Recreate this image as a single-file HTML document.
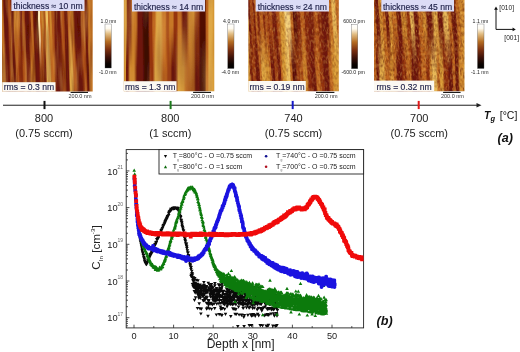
<!DOCTYPE html>
<html><head><meta charset="utf-8"><title>Figure</title>
<style>html,body{margin:0;padding:0;background:#fff}svg{display:block}text{font-family:"Liberation Sans",sans-serif}</style>
</head><body>
<svg width="520" height="352" viewBox="0 0 520 352">
<defs>
<linearGradient id="g10" gradientUnits="userSpaceOnUse" x1="-23.0" y1="0" x2="117.7" y2="0">
<stop offset="0" stop-color="#c77827"/>
<stop offset="0.1802" stop-color="#c77827"/>
<stop offset="0.1879" stop-color="#c77827"/>
<stop offset="0.1977" stop-color="#6e160a"/>
<stop offset="0.2195" stop-color="#6e160a"/>
<stop offset="0.2303" stop-color="#aa4d17"/>
<stop offset="0.2409" stop-color="#aa4d17"/>
<stop offset="0.2479" stop-color="#6e160a"/>
<stop offset="0.2581" stop-color="#6e160a"/>
<stop offset="0.2668" stop-color="#c77827"/>
<stop offset="0.2826" stop-color="#c77827"/>
<stop offset="0.2918" stop-color="#c06820"/>
<stop offset="0.3038" stop-color="#c06820"/>
<stop offset="0.3109" stop-color="#6e160a"/>
<stop offset="0.3203" stop-color="#6e160a"/>
<stop offset="0.3269" stop-color="#b2571b"/>
<stop offset="0.3376" stop-color="#b2571b"/>
<stop offset="0.3475" stop-color="#6e160a"/>
<stop offset="0.3667" stop-color="#6e160a"/>
<stop offset="0.3753" stop-color="#892b0e"/>
<stop offset="0.3817" stop-color="#892b0e"/>
<stop offset="0.3873" stop-color="#b2571b"/>
<stop offset="0.3980" stop-color="#b2571b"/>
<stop offset="0.4065" stop-color="#6e160a"/>
<stop offset="0.4215" stop-color="#6e160a"/>
<stop offset="0.4286" stop-color="#3e0903"/>
<stop offset="0.4350" stop-color="#3e0903"/>
<stop offset="0.4399" stop-color="#fdf1c9"/>
<stop offset="0.4485" stop-color="#fdf1c9"/>
<stop offset="0.4534" stop-color="#c06820"/>
<stop offset="0.4598" stop-color="#c06820"/>
<stop offset="0.4648" stop-color="#cf882d"/>
<stop offset="0.4733" stop-color="#cf882d"/>
<stop offset="0.4790" stop-color="#c06820"/>
<stop offset="0.4876" stop-color="#c06820"/>
<stop offset="0.4940" stop-color="#edc263"/>
<stop offset="0.5046" stop-color="#edc263"/>
<stop offset="0.5103" stop-color="#c06820"/>
<stop offset="0.5167" stop-color="#c06820"/>
<stop offset="0.5217" stop-color="#cf882d"/>
<stop offset="0.5302" stop-color="#cf882d"/>
<stop offset="0.5359" stop-color="#b2571b"/>
<stop offset="0.5444" stop-color="#b2571b"/>
<stop offset="0.5584" stop-color="#6e160a"/>
<stop offset="0.5916" stop-color="#6e160a"/>
<stop offset="0.6067" stop-color="#aa4d17"/>
<stop offset="0.6186" stop-color="#aa4d17"/>
<stop offset="0.6274" stop-color="#6e160a"/>
<stop offset="0.6419" stop-color="#6e160a"/>
<stop offset="0.6510" stop-color="#b2571b"/>
<stop offset="0.6638" stop-color="#b2571b"/>
<stop offset="0.6721" stop-color="#cc822b"/>
<stop offset="0.6840" stop-color="#cc822b"/>
<stop offset="0.6985" stop-color="#6e160a"/>
<stop offset="0.7301" stop-color="#6e160a"/>
<stop offset="0.7464" stop-color="#aa4d17"/>
<stop offset="0.7639" stop-color="#aa4d17"/>
<stop offset="0.7731" stop-color="#6e160a"/>
<stop offset="0.7834" stop-color="#6e160a"/>
<stop offset="0.7939" stop-color="#c77827"/>
<stop offset="0.8152" stop-color="#c77827"/>
<stop offset="1" stop-color="#c77827"/>
</linearGradient>
<linearGradient id="g11" gradientUnits="userSpaceOnUse" x1="-23.0" y1="0" x2="117.7" y2="0">
<stop offset="0" stop-color="#c77827"/>
<stop offset="0.1814" stop-color="#c77827"/>
<stop offset="0.1925" stop-color="#c77827"/>
<stop offset="0.2038" stop-color="#6e160a"/>
<stop offset="0.2269" stop-color="#6e160a"/>
<stop offset="0.2388" stop-color="#aa4d17"/>
<stop offset="0.2516" stop-color="#aa4d17"/>
<stop offset="0.2597" stop-color="#6e160a"/>
<stop offset="0.2712" stop-color="#6e160a"/>
<stop offset="0.2790" stop-color="#b2571b"/>
<stop offset="0.2910" stop-color="#b2571b"/>
<stop offset="0.3014" stop-color="#8e300f"/>
<stop offset="0.3205" stop-color="#8e300f"/>
<stop offset="0.3312" stop-color="#b2571b"/>
<stop offset="0.3440" stop-color="#b2571b"/>
<stop offset="0.3547" stop-color="#6e160a"/>
<stop offset="0.3738" stop-color="#6e160a"/>
<stop offset="0.3866" stop-color="#c77827"/>
<stop offset="0.4058" stop-color="#c77827"/>
<stop offset="0.4189" stop-color="#6e160a"/>
<stop offset="0.4389" stop-color="#6e160a"/>
<stop offset="0.4522" stop-color="#b2571b"/>
<stop offset="0.4718" stop-color="#b2571b"/>
<stop offset="0.4807" stop-color="#6e160a"/>
<stop offset="0.4880" stop-color="#6e160a"/>
<stop offset="0.4972" stop-color="#e7b858"/>
<stop offset="0.5177" stop-color="#e7b858"/>
<stop offset="0.5298" stop-color="#c06820"/>
<stop offset="0.5456" stop-color="#c06820"/>
<stop offset="0.5626" stop-color="#6e160a"/>
<stop offset="0.5980" stop-color="#6e160a"/>
<stop offset="0.6136" stop-color="#b2571b"/>
<stop offset="0.6252" stop-color="#b2571b"/>
<stop offset="0.6340" stop-color="#6e160a"/>
<stop offset="0.6489" stop-color="#6e160a"/>
<stop offset="0.6596" stop-color="#dba23f"/>
<stop offset="0.6766" stop-color="#dba23f"/>
<stop offset="0.6861" stop-color="#b2571b"/>
<stop offset="0.6977" stop-color="#b2571b"/>
<stop offset="0.7119" stop-color="#6e160a"/>
<stop offset="0.7430" stop-color="#6e160a"/>
<stop offset="0.7588" stop-color="#aa4d17"/>
<stop offset="0.7750" stop-color="#aa4d17"/>
<stop offset="0.7828" stop-color="#6e160a"/>
<stop offset="0.7900" stop-color="#6e160a"/>
<stop offset="0.7984" stop-color="#c77827"/>
<stop offset="0.8163" stop-color="#c77827"/>
<stop offset="1" stop-color="#c77827"/>
</linearGradient>
<clipPath id="c1"><rect x="2" y="0" width="90.7" height="91.6"/></clipPath>
<linearGradient id="g20" gradientUnits="userSpaceOnUse" x1="98.8" y1="0" x2="239.3" y2="0">
<stop offset="0" stop-color="#dfa846"/>
<stop offset="0.1819" stop-color="#dfa846"/>
<stop offset="0.1939" stop-color="#dfa846"/>
<stop offset="0.2050" stop-color="#6e160a"/>
<stop offset="0.2263" stop-color="#6e160a"/>
<stop offset="0.2415" stop-color="#c77827"/>
<stop offset="0.2656" stop-color="#c77827"/>
<stop offset="0.2817" stop-color="#6e160a"/>
<stop offset="0.3058" stop-color="#6e160a"/>
<stop offset="0.3226" stop-color="#3e0903"/>
<stop offset="0.3486" stop-color="#3e0903"/>
<stop offset="0.3619" stop-color="#963610"/>
<stop offset="0.3758" stop-color="#963610"/>
<stop offset="0.3849" stop-color="#c06820"/>
<stop offset="0.3984" stop-color="#c06820"/>
<stop offset="0.4126" stop-color="#dfa846"/>
<stop offset="0.4419" stop-color="#dfa846"/>
<stop offset="0.4569" stop-color="#c06820"/>
<stop offset="0.4730" stop-color="#c06820"/>
<stop offset="0.4822" stop-color="#a44715"/>
<stop offset="0.4940" stop-color="#a44715"/>
<stop offset="0.5050" stop-color="#c77827"/>
<stop offset="0.5263" stop-color="#c77827"/>
<stop offset="0.5388" stop-color="#963610"/>
<stop offset="0.5548" stop-color="#963610"/>
<stop offset="0.5664" stop-color="#c06820"/>
<stop offset="0.5852" stop-color="#c06820"/>
<stop offset="0.5994" stop-color="#6e160a"/>
<stop offset="0.6233" stop-color="#6e160a"/>
<stop offset="0.6420" stop-color="#cf882d"/>
<stop offset="0.6740" stop-color="#cf882d"/>
<stop offset="0.6910" stop-color="#963610"/>
<stop offset="0.7098" stop-color="#963610"/>
<stop offset="0.7258" stop-color="#520e06"/>
<stop offset="0.7550" stop-color="#520e06"/>
<stop offset="0.7673" stop-color="#c06820"/>
<stop offset="0.7747" stop-color="#c06820"/>
<stop offset="0.7843" stop-color="#dfa846"/>
<stop offset="0.8057" stop-color="#dfa846"/>
<stop offset="0.8152" stop-color="#d69834"/>
<stop offset="0.8225" stop-color="#d69834"/>
<stop offset="1" stop-color="#d69834"/>
</linearGradient>
<linearGradient id="g21" gradientUnits="userSpaceOnUse" x1="98.8" y1="0" x2="239.3" y2="0">
<stop offset="0" stop-color="#d69834"/>
<stop offset="0.1811" stop-color="#d69834"/>
<stop offset="0.1905" stop-color="#d69834"/>
<stop offset="0.1972" stop-color="#6e160a"/>
<stop offset="0.2078" stop-color="#6e160a"/>
<stop offset="0.2212" stop-color="#cf882d"/>
<stop offset="0.2507" stop-color="#cf882d"/>
<stop offset="0.2727" stop-color="#6e160a"/>
<stop offset="0.3095" stop-color="#6e160a"/>
<stop offset="0.3299" stop-color="#3e0903"/>
<stop offset="0.3544" stop-color="#3e0903"/>
<stop offset="0.3680" stop-color="#963610"/>
<stop offset="0.3840" stop-color="#963610"/>
<stop offset="0.4018" stop-color="#dfa846"/>
<stop offset="0.4391" stop-color="#dfa846"/>
<stop offset="0.4587" stop-color="#c06820"/>
<stop offset="0.4801" stop-color="#c06820"/>
<stop offset="0.4929" stop-color="#a44715"/>
<stop offset="0.5100" stop-color="#a44715"/>
<stop offset="0.5237" stop-color="#6e160a"/>
<stop offset="0.5478" stop-color="#6e160a"/>
<stop offset="0.5674" stop-color="#d69834"/>
<stop offset="0.6020" stop-color="#d69834"/>
<stop offset="0.6206" stop-color="#c06820"/>
<stop offset="0.6420" stop-color="#c06820"/>
<stop offset="0.6562" stop-color="#c77827"/>
<stop offset="0.6776" stop-color="#c77827"/>
<stop offset="0.6910" stop-color="#6e160a"/>
<stop offset="0.7098" stop-color="#6e160a"/>
<stop offset="0.7258" stop-color="#3e0903"/>
<stop offset="0.7550" stop-color="#3e0903"/>
<stop offset="0.7673" stop-color="#c06820"/>
<stop offset="0.7747" stop-color="#c06820"/>
<stop offset="0.7843" stop-color="#dfa846"/>
<stop offset="0.8057" stop-color="#dfa846"/>
<stop offset="0.8152" stop-color="#d69834"/>
<stop offset="0.8225" stop-color="#d69834"/>
<stop offset="1" stop-color="#d69834"/>
</linearGradient>
<clipPath id="c2"><rect x="123.8" y="0" width="90.5" height="91.2"/></clipPath>
<linearGradient id="g30" gradientUnits="userSpaceOnUse" x1="223.3" y1="0" x2="363.8" y2="0">
<stop offset="0" stop-color="#d69834"/>
<stop offset="0.1793" stop-color="#d69834"/>
<stop offset="0.1833" stop-color="#d69834"/>
<stop offset="0.1878" stop-color="#6e160a"/>
<stop offset="0.1969" stop-color="#6e160a"/>
<stop offset="0.2044" stop-color="#a44715"/>
<stop offset="0.2177" stop-color="#a44715"/>
<stop offset="0.2242" stop-color="#7b210c"/>
<stop offset="0.2306" stop-color="#7b210c"/>
<stop offset="0.2356" stop-color="#b55b1c"/>
<stop offset="0.2441" stop-color="#b55b1c"/>
<stop offset="0.2505" stop-color="#83270d"/>
<stop offset="0.2612" stop-color="#83270d"/>
<stop offset="0.2701" stop-color="#ba611e"/>
<stop offset="0.2861" stop-color="#ba611e"/>
<stop offset="0.2940" stop-color="#892b0e"/>
<stop offset="0.3014" stop-color="#892b0e"/>
<stop offset="0.3076" stop-color="#aa4d17"/>
<stop offset="0.3187" stop-color="#aa4d17"/>
<stop offset="0.3244" stop-color="#963610"/>
<stop offset="0.3304" stop-color="#963610"/>
<stop offset="0.3367" stop-color="#aa4d17"/>
<stop offset="0.3495" stop-color="#aa4d17"/>
<stop offset="0.3600" stop-color="#731a0b"/>
<stop offset="0.3788" stop-color="#731a0b"/>
<stop offset="0.3893" stop-color="#aa4d17"/>
<stop offset="0.4021" stop-color="#aa4d17"/>
<stop offset="0.4135" stop-color="#d69834"/>
<stop offset="0.4349" stop-color="#d69834"/>
<stop offset="0.4508" stop-color="#f4d37f"/>
<stop offset="0.4773" stop-color="#f4d37f"/>
<stop offset="0.4893" stop-color="#c06820"/>
<stop offset="0.4986" stop-color="#c06820"/>
<stop offset="0.5072" stop-color="#5a1007"/>
<stop offset="0.5234" stop-color="#5a1007"/>
<stop offset="0.5337" stop-color="#7b210c"/>
<stop offset="0.5482" stop-color="#7b210c"/>
<stop offset="0.5593" stop-color="#b85e1d"/>
<stop offset="0.5781" stop-color="#b85e1d"/>
<stop offset="0.5891" stop-color="#892b0e"/>
<stop offset="0.6034" stop-color="#892b0e"/>
<stop offset="0.6171" stop-color="#7b210c"/>
<stop offset="0.6438" stop-color="#7b210c"/>
<stop offset="0.6580" stop-color="#b2571b"/>
<stop offset="0.6740" stop-color="#b2571b"/>
<stop offset="0.6847" stop-color="#892b0e"/>
<stop offset="0.7007" stop-color="#892b0e"/>
<stop offset="0.7167" stop-color="#6e160a"/>
<stop offset="0.7488" stop-color="#6e160a"/>
<stop offset="0.7637" stop-color="#c06820"/>
<stop offset="0.7765" stop-color="#c06820"/>
<stop offset="0.7872" stop-color="#e7b858"/>
<stop offset="0.8064" stop-color="#e7b858"/>
<stop offset="0.8149" stop-color="#c06820"/>
<stop offset="0.8214" stop-color="#c06820"/>
<stop offset="1" stop-color="#c06820"/>
</linearGradient>
<linearGradient id="g31" gradientUnits="userSpaceOnUse" x1="223.3" y1="0" x2="363.8" y2="0">
<stop offset="0" stop-color="#d69834"/>
<stop offset="0.1793" stop-color="#d69834"/>
<stop offset="0.1833" stop-color="#d69834"/>
<stop offset="0.1883" stop-color="#7b210c"/>
<stop offset="0.1989" stop-color="#7b210c"/>
<stop offset="0.2070" stop-color="#9e4013"/>
<stop offset="0.2204" stop-color="#9e4013"/>
<stop offset="0.2311" stop-color="#6e160a"/>
<stop offset="0.2497" stop-color="#6e160a"/>
<stop offset="0.2581" stop-color="#c06820"/>
<stop offset="0.2647" stop-color="#c06820"/>
<stop offset="0.2727" stop-color="#dba23f"/>
<stop offset="0.2902" stop-color="#dba23f"/>
<stop offset="0.3023" stop-color="#d39231"/>
<stop offset="0.3209" stop-color="#d39231"/>
<stop offset="0.3288" stop-color="#c06820"/>
<stop offset="0.3342" stop-color="#c06820"/>
<stop offset="0.3413" stop-color="#6e160a"/>
<stop offset="0.3573" stop-color="#6e160a"/>
<stop offset="0.3671" stop-color="#9e4013"/>
<stop offset="0.3806" stop-color="#9e4013"/>
<stop offset="0.3895" stop-color="#731a0b"/>
<stop offset="0.4027" stop-color="#731a0b"/>
<stop offset="0.4089" stop-color="#c06820"/>
<stop offset="0.4142" stop-color="#c06820"/>
<stop offset="0.4214" stop-color="#d69834"/>
<stop offset="0.4374" stop-color="#d69834"/>
<stop offset="0.4490" stop-color="#edc263"/>
<stop offset="0.4678" stop-color="#edc263"/>
<stop offset="0.4762" stop-color="#c06820"/>
<stop offset="0.4826" stop-color="#c06820"/>
<stop offset="0.4912" stop-color="#5e1108"/>
<stop offset="0.5109" stop-color="#5e1108"/>
<stop offset="0.5221" stop-color="#9e4013"/>
<stop offset="0.5359" stop-color="#9e4013"/>
<stop offset="0.5451" stop-color="#aa4d17"/>
<stop offset="0.5585" stop-color="#aa4d17"/>
<stop offset="0.5692" stop-color="#cc822b"/>
<stop offset="0.5878" stop-color="#cc822b"/>
<stop offset="0.5994" stop-color="#892b0e"/>
<stop offset="0.6159" stop-color="#892b0e"/>
<stop offset="0.6276" stop-color="#6e160a"/>
<stop offset="0.6464" stop-color="#6e160a"/>
<stop offset="0.6589" stop-color="#c06820"/>
<stop offset="0.6777" stop-color="#c06820"/>
<stop offset="0.6884" stop-color="#963610"/>
<stop offset="0.7016" stop-color="#963610"/>
<stop offset="0.7149" stop-color="#6e160a"/>
<stop offset="0.7416" stop-color="#6e160a"/>
<stop offset="0.7541" stop-color="#c06820"/>
<stop offset="0.7648" stop-color="#c06820"/>
<stop offset="0.7794" stop-color="#d69834"/>
<stop offset="0.8125" stop-color="#d69834"/>
<stop offset="1" stop-color="#d69834"/>
</linearGradient>
<clipPath id="c3"><rect x="248.3" y="0" width="90.5" height="91.2"/></clipPath>
<linearGradient id="g40" gradientUnits="userSpaceOnUse" x1="349.0" y1="0" x2="489.5" y2="0">
<stop offset="0" stop-color="#c06820"/>
<stop offset="0.1816" stop-color="#c06820"/>
<stop offset="0.1927" stop-color="#c06820"/>
<stop offset="0.2019" stop-color="#6e160a"/>
<stop offset="0.2181" stop-color="#6e160a"/>
<stop offset="0.2279" stop-color="#cf882d"/>
<stop offset="0.2411" stop-color="#cf882d"/>
<stop offset="0.2500" stop-color="#c06820"/>
<stop offset="0.2632" stop-color="#c06820"/>
<stop offset="0.2721" stop-color="#6e160a"/>
<stop offset="0.2856" stop-color="#6e160a"/>
<stop offset="0.2945" stop-color="#cf882d"/>
<stop offset="0.3080" stop-color="#cf882d"/>
<stop offset="0.3196" stop-color="#c06820"/>
<stop offset="0.3409" stop-color="#c06820"/>
<stop offset="0.3542" stop-color="#6e160a"/>
<stop offset="0.3728" stop-color="#6e160a"/>
<stop offset="0.3861" stop-color="#cf882d"/>
<stop offset="0.4075" stop-color="#cf882d"/>
<stop offset="0.4199" stop-color="#963610"/>
<stop offset="0.4359" stop-color="#963610"/>
<stop offset="0.4466" stop-color="#e7b858"/>
<stop offset="0.4626" stop-color="#e7b858"/>
<stop offset="0.4740" stop-color="#6e160a"/>
<stop offset="0.4922" stop-color="#6e160a"/>
<stop offset="0.5046" stop-color="#c06820"/>
<stop offset="0.5238" stop-color="#c06820"/>
<stop offset="0.5352" stop-color="#cf882d"/>
<stop offset="0.5502" stop-color="#cf882d"/>
<stop offset="0.5648" stop-color="#6e160a"/>
<stop offset="0.5936" stop-color="#6e160a"/>
<stop offset="0.6103" stop-color="#dfa846"/>
<stop offset="0.6317" stop-color="#dfa846"/>
<stop offset="0.6459" stop-color="#6e160a"/>
<stop offset="0.6673" stop-color="#6e160a"/>
<stop offset="0.6824" stop-color="#e7b858"/>
<stop offset="0.7065" stop-color="#e7b858"/>
<stop offset="0.7190" stop-color="#c06820"/>
<stop offset="0.7322" stop-color="#c06820"/>
<stop offset="0.7438" stop-color="#6e160a"/>
<stop offset="0.7651" stop-color="#6e160a"/>
<stop offset="0.7767" stop-color="#c06820"/>
<stop offset="0.7899" stop-color="#c06820"/>
<stop offset="0.7999" stop-color="#cf882d"/>
<stop offset="0.8165" stop-color="#cf882d"/>
<stop offset="1" stop-color="#cf882d"/>
</linearGradient>
<linearGradient id="g41" gradientUnits="userSpaceOnUse" x1="349.0" y1="0" x2="489.5" y2="0">
<stop offset="0" stop-color="#c06820"/>
<stop offset="0.1808" stop-color="#c06820"/>
<stop offset="0.1893" stop-color="#c06820"/>
<stop offset="0.1957" stop-color="#6e160a"/>
<stop offset="0.2064" stop-color="#6e160a"/>
<stop offset="0.2189" stop-color="#dfa846"/>
<stop offset="0.2456" stop-color="#dfa846"/>
<stop offset="0.2616" stop-color="#c06820"/>
<stop offset="0.2829" stop-color="#c06820"/>
<stop offset="0.2954" stop-color="#cf882d"/>
<stop offset="0.3114" stop-color="#cf882d"/>
<stop offset="0.3203" stop-color="#c06820"/>
<stop offset="0.3310" stop-color="#c06820"/>
<stop offset="0.3434" stop-color="#6e160a"/>
<stop offset="0.3701" stop-color="#6e160a"/>
<stop offset="0.3843" stop-color="#963610"/>
<stop offset="0.4004" stop-color="#963610"/>
<stop offset="0.4128" stop-color="#c06820"/>
<stop offset="0.4342" stop-color="#c06820"/>
<stop offset="0.4520" stop-color="#6e160a"/>
<stop offset="0.4840" stop-color="#6e160a"/>
<stop offset="0.4982" stop-color="#963610"/>
<stop offset="0.5089" stop-color="#963610"/>
<stop offset="0.5196" stop-color="#c06820"/>
<stop offset="0.5409" stop-color="#c06820"/>
<stop offset="0.5534" stop-color="#963610"/>
<stop offset="0.5694" stop-color="#963610"/>
<stop offset="0.5769" stop-color="#cf882d"/>
<stop offset="0.5833" stop-color="#cf882d"/>
<stop offset="0.5936" stop-color="#e7b858"/>
<stop offset="0.6181" stop-color="#e7b858"/>
<stop offset="0.6298" stop-color="#c06820"/>
<stop offset="0.6400" stop-color="#c06820"/>
<stop offset="0.6485" stop-color="#d69834"/>
<stop offset="0.6639" stop-color="#d69834"/>
<stop offset="0.6762" stop-color="#963610"/>
<stop offset="0.6975" stop-color="#963610"/>
<stop offset="0.7110" stop-color="#6e160a"/>
<stop offset="0.7302" stop-color="#6e160a"/>
<stop offset="0.7402" stop-color="#c06820"/>
<stop offset="0.7509" stop-color="#c06820"/>
<stop offset="0.7587" stop-color="#6e160a"/>
<stop offset="0.7715" stop-color="#6e160a"/>
<stop offset="0.7840" stop-color="#cf882d"/>
<stop offset="0.8085" stop-color="#cf882d"/>
<stop offset="0.8178" stop-color="#d69834"/>
<stop offset="0.8210" stop-color="#d69834"/>
<stop offset="1" stop-color="#d69834"/>
</linearGradient>
<clipPath id="c4"><rect x="374" y="0" width="90.5" height="91.2"/></clipPath>
<linearGradient id="vf" gradientUnits="userSpaceOnUse" x1="0" y1="26" x2="0" y2="68"><stop offset="0" stop-color="#000"/><stop offset="1" stop-color="#fff"/></linearGradient>
<mask id="mk" maskUnits="userSpaceOnUse" x="0" y="-5" width="520" height="105"><rect x="0" y="-5" width="520" height="105" fill="url(#vf)"/></mask>
<linearGradient id="cb" x1="0" y1="0" x2="0" y2="1">
<stop offset="0" stop-color="#ffffff"/>
<stop offset="0.1" stop-color="#fffbf0"/>
<stop offset="0.22" stop-color="#e2be84"/>
<stop offset="0.4" stop-color="#b46c22"/>
<stop offset="0.58" stop-color="#7c3010"/>
<stop offset="0.76" stop-color="#3a1008"/>
<stop offset="0.9" stop-color="#0c0300"/>
<stop offset="1" stop-color="#000000"/>
</linearGradient>
<filter id="n1d" x="0" y="0" width="100%" height="100%" color-interpolation-filters="sRGB"><feTurbulence type="fractalNoise" baseFrequency="0.30 0.02" numOctaves="2" seed="3"/><feColorMatrix type="matrix" values="0 0 0 0 0.3  0 0 0 0 0.04  0 0 0 0 0.0  1.2 0 0 0 -0.5"/></filter>
<filter id="n1l" x="0" y="0" width="100%" height="100%" color-interpolation-filters="sRGB"><feTurbulence type="fractalNoise" baseFrequency="0.30 0.02" numOctaves="2" seed="11"/><feColorMatrix type="matrix" values="0 0 0 0 1  0 0 0 0 0.82  0 0 0 0 0.42  1.0 0 0 0 -0.46"/></filter>
<filter id="n2d" x="0" y="0" width="100%" height="100%" color-interpolation-filters="sRGB"><feTurbulence type="fractalNoise" baseFrequency="0.08 0.01" numOctaves="2" seed="4"/><feColorMatrix type="matrix" values="0 0 0 0 0.3  0 0 0 0 0.04  0 0 0 0 0.0  1.0 0 0 0 -0.42"/></filter>
<filter id="n2l" x="0" y="0" width="100%" height="100%" color-interpolation-filters="sRGB"><feTurbulence type="fractalNoise" baseFrequency="0.08 0.01" numOctaves="2" seed="14"/><feColorMatrix type="matrix" values="0 0 0 0 1  0 0 0 0 0.82  0 0 0 0 0.42  1.0 0 0 0 -0.44"/></filter>
<filter id="n3d" x="0" y="0" width="100%" height="100%" color-interpolation-filters="sRGB"><feTurbulence type="fractalNoise" baseFrequency="0.6 0.25" numOctaves="2" seed="5"/><feColorMatrix type="matrix" values="0 0 0 0 0.3  0 0 0 0 0.04  0 0 0 0 0.0  0.9 0 0 0 -0.38"/></filter>
<filter id="n3l" x="0" y="0" width="100%" height="100%" color-interpolation-filters="sRGB"><feTurbulence type="fractalNoise" baseFrequency="0.6 0.25" numOctaves="2" seed="9"/><feColorMatrix type="matrix" values="0 0 0 0 1  0 0 0 0 0.82  0 0 0 0 0.42  0.9 0 0 0 -0.4"/></filter>
<filter id="n4d" x="0" y="0" width="100%" height="100%" color-interpolation-filters="sRGB"><feTurbulence type="fractalNoise" baseFrequency="0.7 0.25" numOctaves="2" seed="6"/><feColorMatrix type="matrix" values="0 0 0 0 0.3  0 0 0 0 0.04  0 0 0 0 0.0  1.3 0 0 0 -0.52"/></filter>
<filter id="n4l" x="0" y="0" width="100%" height="100%" color-interpolation-filters="sRGB"><feTurbulence type="fractalNoise" baseFrequency="0.7 0.25" numOctaves="2" seed="19"/><feColorMatrix type="matrix" values="0 0 0 0 1  0 0 0 0 0.82  0 0 0 0 0.42  1.1 0 0 0 -0.5"/></filter>
<filter id="bl" x="-5%" y="-5%" width="110%" height="110%"><feGaussianBlur stdDeviation="0.35"/></filter>
</defs>
<rect width="520" height="352" fill="#fff"/>
<g clip-path="url(#c1)"><g filter="url(#bl)">
<g><g transform="translate(0 30.0) skewX(2.00) translate(0 -30.0)">
<rect x="-18" y="-2" width="130.7" height="95.6" fill="url(#g10)"/>
</g></g>
<g mask="url(#mk)"><g transform="translate(0 66.0) skewX(2.00) translate(0 -66.0)">
<rect x="-18" y="-2" width="130.7" height="95.6" fill="url(#g11)"/>
</g></g>
<g transform="translate(0 45) skewX(2.00) translate(0 -45)">
<rect x="-18" y="-2" width="130.7" height="95.6" filter="url(#n1d)"/>
<rect x="-18" y="-2" width="130.7" height="95.6" filter="url(#n1l)"/>
</g>
</g></g>
<g clip-path="url(#c2)"><g filter="url(#bl)">
<g><g transform="translate(0 32.0) skewX(0.00) translate(0 -32.0)">
<rect x="103.8" y="-2" width="130.5" height="95.2" fill="url(#g20)"/>
</g></g>
<g mask="url(#mk)"><g transform="translate(0 63.0) skewX(0.00) translate(0 -63.0)">
<rect x="103.8" y="-2" width="130.5" height="95.2" fill="url(#g21)"/>
</g></g>
<g transform="translate(0 45) skewX(0.00) translate(0 -45)">
<rect x="103.8" y="-2" width="130.5" height="95.2" filter="url(#n2d)"/>
<rect x="103.8" y="-2" width="130.5" height="95.2" filter="url(#n2l)"/>
</g>
</g></g>
<g clip-path="url(#c3)"><g filter="url(#bl)">
<g><g transform="translate(0 32.0) skewX(4.00) translate(0 -32.0)">
<rect x="228.3" y="-2" width="130.5" height="95.2" fill="url(#g30)"/>
</g></g>
<g mask="url(#mk)"><g transform="translate(0 63.0) skewX(4.00) translate(0 -63.0)">
<rect x="228.3" y="-2" width="130.5" height="95.2" fill="url(#g31)"/>
</g></g>
<g transform="translate(0 45) skewX(4.00) translate(0 -45)">
<rect x="228.3" y="-2" width="130.5" height="95.2" filter="url(#n3d)"/>
<rect x="228.3" y="-2" width="130.5" height="95.2" filter="url(#n3l)"/>
</g>
</g></g>
<g clip-path="url(#c4)"><g filter="url(#bl)">
<g><g transform="translate(0 32.0) skewX(4.00) translate(0 -32.0)">
<rect x="354" y="-2" width="130.5" height="95.2" fill="url(#g40)"/>
</g></g>
<g mask="url(#mk)"><g transform="translate(0 63.0) skewX(1.72) translate(0 -63.0)">
<rect x="354" y="-2" width="130.5" height="95.2" fill="url(#g41)"/>
</g></g>
<g transform="translate(0 45) skewX(4.00) translate(0 -45)">
<rect x="354" y="-2" width="130.5" height="95.2" filter="url(#n4d)"/>
<rect x="354" y="-2" width="130.5" height="95.2" filter="url(#n4l)"/>
</g>
</g></g>
<rect x="11.4" y="0" width="73.1" height="11.0" fill="#dcdcf6"/>
<text x="48.0" y="9.1" font-size="8.6" fill="#1e2048" stroke="#1e2048" stroke-width="0.15" text-anchor="middle">thickness ≈ 10 nm</text>
<rect x="132" y="0" width="73.0" height="11.5" fill="#dcdcf6"/>
<text x="168.5" y="9.6" font-size="8.6" fill="#1e2048" stroke="#1e2048" stroke-width="0.15" text-anchor="middle">thickness ≈ 14 nm</text>
<rect x="255.6" y="0" width="73.4" height="11.5" fill="#dcdcf6"/>
<text x="292.3" y="9.6" font-size="8.6" fill="#1e2048" stroke="#1e2048" stroke-width="0.15" text-anchor="middle">thickness ≈ 24 nm</text>
<rect x="381.3" y="0" width="72.7" height="11.5" fill="#dcdcf6"/>
<text x="417.6" y="9.6" font-size="8.6" fill="#1e2048" stroke="#1e2048" stroke-width="0.15" text-anchor="middle">thickness ≈ 45 nm</text>
<rect x="2.3" y="82.2" width="53.2" height="9.4" fill="#fbf8f2"/>
<text x="28.9" y="90.0" font-size="8.6" fill="#1e2048" stroke="#1e2048" stroke-width="0.15" text-anchor="middle">rms = 0.3 nm</text>
<rect x="123.8" y="81.2" width="52.7" height="10.0" fill="#fbf8f2"/>
<text x="150.2" y="89.6" font-size="8.6" fill="#1e2048" stroke="#1e2048" stroke-width="0.15" text-anchor="middle">rms = 1.3 nm</text>
<rect x="248.3" y="81" width="57.5" height="10.2" fill="#fbf8f2"/>
<text x="277.1" y="89.6" font-size="8.6" fill="#1e2048" stroke="#1e2048" stroke-width="0.15" text-anchor="middle">rms = 0.19 nm</text>
<rect x="374" y="80.6" width="60.2" height="10.6" fill="#fbf8f2"/>
<text x="404.1" y="89.6" font-size="8.6" fill="#1e2048" stroke="#1e2048" stroke-width="0.15" text-anchor="middle">rms = 0.32 nm</text>
<rect x="105" y="24" width="6.3" height="44.0" fill="url(#cb)" stroke="#555" stroke-width="0.35"/>
<text x="108.5" y="22.8" font-size="5.2" fill="#222" text-anchor="middle">1.0 nm</text>
<text x="107.7" y="73.6" font-size="5.2" fill="#222" text-anchor="middle">-1.0 nm</text>
<rect x="227.8" y="24" width="6.2" height="44.5" fill="url(#cb)" stroke="#555" stroke-width="0.35"/>
<text x="231.0" y="22.8" font-size="5.2" fill="#222" text-anchor="middle">4.0 nm</text>
<text x="230.2" y="74.1" font-size="5.2" fill="#222" text-anchor="middle">-4.0 nm</text>
<rect x="351.5" y="24.4" width="6.3" height="44.3" fill="url(#cb)" stroke="#555" stroke-width="0.35"/>
<text x="354.0" y="23.2" font-size="5.2" fill="#222" text-anchor="middle">600.0 pm</text>
<text x="353.2" y="74.3" font-size="5.2" fill="#222" text-anchor="middle">-600.0 pm</text>
<rect x="477.5" y="24" width="6.5" height="44.5" fill="url(#cb)" stroke="#555" stroke-width="0.35"/>
<text x="480.5" y="22.8" font-size="5.2" fill="#222" text-anchor="middle">1.1 nm</text>
<text x="479.7" y="74.1" font-size="5.2" fill="#222" text-anchor="middle">-1.1 nm</text>
<rect x="70.6" y="91.85000000000001" width="17.4" height="1.1" fill="#111"/>
<text x="80.0" y="98.2" font-size="5.5" fill="#333" text-anchor="middle">200.0 nm</text>
<rect x="193.1" y="91.85000000000001" width="17.9" height="1.1" fill="#111"/>
<text x="202.5" y="98.2" font-size="5.5" fill="#333" text-anchor="middle">200.0 nm</text>
<rect x="316" y="91.85000000000001" width="18.4" height="1.1" fill="#111"/>
<text x="326.1" y="98.2" font-size="5.5" fill="#333" text-anchor="middle">200.0 nm</text>
<rect x="443.1" y="91.85000000000001" width="17.5" height="1.1" fill="#111"/>
<text x="452.4" y="98.2" font-size="5.5" fill="#333" text-anchor="middle">200.0 nm</text>
<path d="M496 8.5V29.4H513.5" fill="none" stroke="#111" stroke-width="1"/>
<path d="M496 6.5l-1.9 3.2h3.8zM515.8 29.4l-3.2-1.9v3.8z" fill="#111"/>
<text x="499.3" y="10.2" font-size="6.6" fill="#222">[010]</text>
<text x="504.3" y="39.6" font-size="6.6" fill="#222">[001]</text>
<rect x="3" y="104.7" width="475" height="1.1" fill="#333"/>
<path d="M481.5 105.25l-5-2.3v4.6z" fill="#222"/>
<rect x="43.5" y="100.9" width="2" height="8.2" fill="#111"/>
<rect x="169.6" y="100.9" width="2" height="8.2" fill="#1c7a1c"/>
<rect x="291.7" y="100.9" width="2" height="8.2" fill="#1418c8"/>
<rect x="417.7" y="100.9" width="2" height="8.2" fill="#e01818"/>
<text x="44" y="122" font-size="11" fill="#222" text-anchor="middle">800</text>
<text x="44" y="136.8" font-size="11" fill="#222" text-anchor="middle">(0.75 sccm)</text>
<text x="170.3" y="122" font-size="11" fill="#222" text-anchor="middle">800</text>
<text x="170.3" y="136.8" font-size="11" fill="#222" text-anchor="middle">(1 sccm)</text>
<text x="293.5" y="122" font-size="11" fill="#222" text-anchor="middle">740</text>
<text x="293.5" y="136.8" font-size="11" fill="#222" text-anchor="middle">(0.75 sccm)</text>
<text x="419.3" y="122" font-size="11" fill="#222" text-anchor="middle">700</text>
<text x="419.3" y="136.8" font-size="11" fill="#222" text-anchor="middle">(0.75 sccm)</text>
<text x="484" y="118.6" font-size="10.5" fill="#111"><tspan font-weight="bold" font-style="italic">T</tspan><tspan font-weight="bold" font-style="italic" font-size="7.5" dy="2.2">g</tspan><tspan dy="-2.2" dx="1.8"> [°C]</tspan></text>
<text x="497.6" y="142.4" font-size="12.6" font-weight="bold" font-style="italic" fill="#111">(a)</text>
<rect x="126.2" y="149.6" width="237.40000000000003" height="178.3" fill="#fff" stroke="#222" stroke-width="0.9"/>
<path d="M126.2 317.7h3.2 M126.2 306.7h1.8 M126.2 300.2h1.8 M126.2 295.6h1.8 M126.2 292.0h1.8 M126.2 289.1h1.8 M126.2 286.7h1.8 M126.2 284.6h1.8 M126.2 282.7h1.8 M126.2 281.0h3.2 M126.2 270.0h1.8 M126.2 263.5h1.8 M126.2 258.9h1.8 M126.2 255.3h1.8 M126.2 252.4h1.8 M126.2 250.0h1.8 M126.2 247.9h1.8 M126.2 246.0h1.8 M126.2 244.3h3.2 M126.2 233.3h1.8 M126.2 226.8h1.8 M126.2 222.2h1.8 M126.2 218.6h1.8 M126.2 215.7h1.8 M126.2 213.3h1.8 M126.2 211.2h1.8 M126.2 209.3h1.8 M126.2 207.6h3.2 M126.2 196.6h1.8 M126.2 190.1h1.8 M126.2 185.5h1.8 M126.2 181.9h1.8 M126.2 179.0h1.8 M126.2 176.6h1.8 M126.2 174.5h1.8 M126.2 172.6h1.8 M126.2 170.9h3.2 M126.2 159.9h1.8 M126.2 153.4h1.8 M126.2 325.8h1.8 M126.2 323.4h1.8 M126.2 321.3h1.8 M126.2 319.4h1.8 M134.0 327.9v-3.2 M153.8 327.9v-1.8 M173.6 327.9v-3.2 M193.4 327.9v-1.8 M213.2 327.9v-3.2 M233.0 327.9v-1.8 M252.8 327.9v-3.2 M272.6 327.9v-1.8 M292.4 327.9v-3.2 M312.2 327.9v-1.8 M332.0 327.9v-3.2 M351.8 327.9v-1.8" stroke="#222" stroke-width="0.8" fill="none"/>
<text x="117.6" y="321.4" font-size="9.3" fill="#222" text-anchor="end">10</text>
<text x="117.6" y="315.7" font-size="5" fill="#666">17</text>
<text x="117.6" y="284.7" font-size="9.3" fill="#222" text-anchor="end">10</text>
<text x="117.6" y="279.0" font-size="5" fill="#666">18</text>
<text x="117.6" y="248.0" font-size="9.3" fill="#222" text-anchor="end">10</text>
<text x="117.6" y="242.3" font-size="5" fill="#666">19</text>
<text x="117.6" y="211.3" font-size="9.3" fill="#222" text-anchor="end">10</text>
<text x="117.6" y="205.6" font-size="5" fill="#666">20</text>
<text x="117.6" y="174.6" font-size="9.3" fill="#222" text-anchor="end">10</text>
<text x="117.6" y="168.9" font-size="5" fill="#666">21</text>
<text x="134.0" y="338.6" font-size="9.2" fill="#222" text-anchor="middle">0</text>
<text x="173.6" y="338.6" font-size="9.2" fill="#222" text-anchor="middle">10</text>
<text x="213.2" y="338.6" font-size="9.2" fill="#222" text-anchor="middle">20</text>
<text x="252.8" y="338.6" font-size="9.2" fill="#222" text-anchor="middle">30</text>
<text x="292.4" y="338.6" font-size="9.2" fill="#222" text-anchor="middle">40</text>
<text x="332.0" y="338.6" font-size="9.2" fill="#222" text-anchor="middle">50</text>
<text x="240.7" y="348.3" font-size="12" fill="#222" text-anchor="middle">Depth x [nm]</text>
<text transform="translate(99.9 247.5) rotate(-90) scale(1.13 1)" font-size="10.3" fill="#222" text-anchor="middle">C<tspan font-size="5.6" dy="2.6">In</tspan><tspan dy="-2.6"> [cm</tspan><tspan font-size="5.6" dy="-5">-3</tspan><tspan dy="5">]</tspan></text>
<text x="376.6" y="324.8" font-size="12.6" font-weight="bold" font-style="italic" fill="#111">(b)</text>
<clipPath id="pc"><rect x="126.2" y="149.6" width="237.40000000000003" height="178.3"/></clipPath>
<g clip-path="url(#pc)">
<path d="M132.5 176.4h3.6l-1.8 3.2zM132.8 180.4h3.6l-1.8 3.2zM133.2 183.4h3.6l-1.8 3.2zM133.2 188.5h3.6l-1.8 3.2zM133.7 193.5h3.6l-1.8 3.2zM133.8 197.3h3.6l-1.8 3.2zM134.2 201.3h3.6l-1.8 3.2zM134.5 205.5h3.6l-1.8 3.2zM134.7 209.5h3.6l-1.8 3.2zM135.2 212.2h3.6l-1.8 3.2zM135.5 215.7h3.6l-1.8 3.2zM135.7 218.2h3.6l-1.8 3.2zM136.1 220.7h3.6l-1.8 3.2zM136.5 224.2h3.6l-1.8 3.2zM136.5 226.3h3.6l-1.8 3.2zM136.7 228.6h3.6l-1.8 3.2zM137.4 230.6h3.6l-1.8 3.2zM137.4 233.1h3.6l-1.8 3.2zM138.1 234.4h3.6l-1.8 3.2zM138.3 237.1h3.6l-1.8 3.2zM138.4 238.6h3.6l-1.8 3.2zM138.7 240.5h3.6l-1.8 3.2zM139.2 241.7h3.6l-1.8 3.2zM139.4 243.2h3.6l-1.8 3.2zM139.8 244.5h3.6l-1.8 3.2zM139.8 245.5h3.6l-1.8 3.2zM140.2 247.6h3.6l-1.8 3.2zM140.4 249.3h3.6l-1.8 3.2zM140.7 250.8h3.6l-1.8 3.2zM141.1 251.9h3.6l-1.8 3.2zM141.4 253.8h3.6l-1.8 3.2zM141.8 254.0h3.6l-1.8 3.2zM142.0 256.0h3.6l-1.8 3.2zM142.3 256.9h3.6l-1.8 3.2zM142.7 258.2h3.6l-1.8 3.2zM142.8 259.7h3.6l-1.8 3.2zM143.2 260.7h3.6l-1.8 3.2zM143.5 261.7h3.6l-1.8 3.2zM143.9 262.2h3.6l-1.8 3.2zM144.3 263.0h3.6l-1.8 3.2zM144.5 262.8h3.6l-1.8 3.2zM144.6 262.7h3.6l-1.8 3.2zM145.0 262.8h3.6l-1.8 3.2zM145.4 262.1h3.6l-1.8 3.2zM145.8 261.1h3.6l-1.8 3.2zM146.0 260.4h3.6l-1.8 3.2zM146.2 259.0h3.6l-1.8 3.2zM146.8 258.8h3.6l-1.8 3.2zM147.2 257.2h3.6l-1.8 3.2zM147.4 256.7h3.6l-1.8 3.2zM147.4 255.7h3.6l-1.8 3.2zM147.7 256.3h3.6l-1.8 3.2zM148.0 254.8h3.6l-1.8 3.2zM148.6 254.4h3.6l-1.8 3.2zM148.5 253.2h3.6l-1.8 3.2zM148.9 252.7h3.6l-1.8 3.2zM149.4 252.9h3.6l-1.8 3.2zM149.8 252.0h3.6l-1.8 3.2zM149.8 250.7h3.6l-1.8 3.2zM150.2 250.2h3.6l-1.8 3.2zM150.8 250.3h3.6l-1.8 3.2zM151.2 248.5h3.6l-1.8 3.2zM151.1 248.0h3.6l-1.8 3.2zM151.5 248.0h3.6l-1.8 3.2zM151.7 247.1h3.6l-1.8 3.2zM151.8 246.2h3.6l-1.8 3.2zM152.2 246.1h3.6l-1.8 3.2zM152.6 244.7h3.6l-1.8 3.2zM153.0 243.8h3.6l-1.8 3.2zM153.2 243.3h3.6l-1.8 3.2zM153.6 243.6h3.6l-1.8 3.2zM153.8 242.7h3.6l-1.8 3.2zM154.1 241.2h3.6l-1.8 3.2zM154.4 241.6h3.6l-1.8 3.2zM154.7 240.7h3.6l-1.8 3.2zM155.0 238.1h3.6l-1.8 3.2zM155.1 238.2h3.6l-1.8 3.2zM155.4 238.1h3.6l-1.8 3.2zM156.0 237.3h3.6l-1.8 3.2zM156.1 236.8h3.6l-1.8 3.2zM156.6 236.7h3.6l-1.8 3.2zM156.6 235.5h3.6l-1.8 3.2zM157.1 235.1h3.6l-1.8 3.2zM157.4 233.5h3.6l-1.8 3.2zM157.7 233.3h3.6l-1.8 3.2zM158.1 233.0h3.6l-1.8 3.2zM158.4 232.7h3.6l-1.8 3.2zM158.7 231.5h3.6l-1.8 3.2zM159.1 231.1h3.6l-1.8 3.2zM159.4 229.5h3.6l-1.8 3.2zM159.3 229.8h3.6l-1.8 3.2zM159.8 229.1h3.6l-1.8 3.2zM160.1 228.2h3.6l-1.8 3.2zM160.6 227.1h3.6l-1.8 3.2zM160.7 226.9h3.6l-1.8 3.2zM161.1 225.6h3.6l-1.8 3.2zM161.3 225.4h3.6l-1.8 3.2zM161.5 224.1h3.6l-1.8 3.2zM161.8 223.9h3.6l-1.8 3.2zM162.3 223.6h3.6l-1.8 3.2zM162.7 222.2h3.6l-1.8 3.2zM162.8 222.6h3.6l-1.8 3.2zM163.2 221.2h3.6l-1.8 3.2zM163.5 220.8h3.6l-1.8 3.2zM163.5 220.1h3.6l-1.8 3.2zM163.9 218.9h3.6l-1.8 3.2zM164.4 218.3h3.6l-1.8 3.2zM164.9 217.6h3.6l-1.8 3.2zM165.0 217.7h3.6l-1.8 3.2zM165.2 217.0h3.6l-1.8 3.2zM165.4 216.1h3.6l-1.8 3.2zM165.8 215.2h3.6l-1.8 3.2zM165.9 215.1h3.6l-1.8 3.2zM166.4 214.8h3.6l-1.8 3.2zM166.9 213.9h3.6l-1.8 3.2zM167.0 212.2h3.6l-1.8 3.2zM167.2 211.5h3.6l-1.8 3.2zM167.6 210.8h3.6l-1.8 3.2zM167.8 210.5h3.6l-1.8 3.2zM168.1 210.1h3.6l-1.8 3.2zM168.6 209.6h3.6l-1.8 3.2zM168.7 209.5h3.6l-1.8 3.2zM169.1 209.0h3.6l-1.8 3.2zM169.0 207.8h3.6l-1.8 3.2zM169.9 208.2h3.6l-1.8 3.2zM170.0 207.8h3.6l-1.8 3.2zM170.2 207.8h3.6l-1.8 3.2zM170.6 207.4h3.6l-1.8 3.2zM170.8 206.9h3.6l-1.8 3.2zM171.4 206.8h3.6l-1.8 3.2zM171.6 207.3h3.6l-1.8 3.2zM171.6 207.0h3.6l-1.8 3.2zM172.0 207.2h3.6l-1.8 3.2zM172.4 206.2h3.6l-1.8 3.2zM172.6 207.0h3.6l-1.8 3.2zM173.1 207.0h3.6l-1.8 3.2zM173.2 206.5h3.6l-1.8 3.2zM173.7 206.6h3.6l-1.8 3.2zM173.8 206.5h3.6l-1.8 3.2zM174.4 207.0h3.6l-1.8 3.2zM174.7 206.4h3.6l-1.8 3.2zM174.6 207.2h3.6l-1.8 3.2zM175.1 206.7h3.6l-1.8 3.2zM175.4 207.6h3.6l-1.8 3.2zM175.7 206.8h3.6l-1.8 3.2zM176.0 207.0h3.6l-1.8 3.2zM176.4 207.6h3.6l-1.8 3.2zM176.7 209.1h3.6l-1.8 3.2zM177.0 210.0h3.6l-1.8 3.2zM177.1 209.3h3.6l-1.8 3.2zM177.5 211.5h3.6l-1.8 3.2zM177.8 211.9h3.6l-1.8 3.2zM178.0 213.7h3.6l-1.8 3.2zM178.7 215.0h3.6l-1.8 3.2zM178.9 216.1h3.6l-1.8 3.2zM179.0 218.4h3.6l-1.8 3.2zM179.6 219.2h3.6l-1.8 3.2zM179.6 220.7h3.6l-1.8 3.2zM180.1 221.5h3.6l-1.8 3.2zM180.3 223.5h3.6l-1.8 3.2zM180.4 225.0h3.6l-1.8 3.2zM180.8 225.9h3.6l-1.8 3.2zM181.2 227.5h3.6l-1.8 3.2zM181.6 229.2h3.6l-1.8 3.2zM181.8 229.8h3.6l-1.8 3.2zM182.1 232.5h3.6l-1.8 3.2zM182.4 232.9h3.6l-1.8 3.2zM182.5 234.2h3.6l-1.8 3.2zM182.5 236.2h3.6l-1.8 3.2zM183.2 237.6h3.6l-1.8 3.2zM183.3 239.1h3.6l-1.8 3.2zM183.7 240.2h3.6l-1.8 3.2zM183.9 242.3h3.6l-1.8 3.2zM184.7 242.5h3.6l-1.8 3.2zM184.6 244.6h3.6l-1.8 3.2zM185.0 245.5h3.6l-1.8 3.2zM185.1 247.0h3.6l-1.8 3.2zM185.6 249.2h3.6l-1.8 3.2zM186.1 251.3h3.6l-1.8 3.2zM186.1 251.8h3.6l-1.8 3.2zM186.5 253.9h3.6l-1.8 3.2zM186.9 254.7h3.6l-1.8 3.2zM187.0 256.8h3.6l-1.8 3.2zM187.6 258.6h3.6l-1.8 3.2zM187.7 260.0h3.6l-1.8 3.2zM188.3 262.4h3.6l-1.8 3.2zM188.3 263.2h3.6l-1.8 3.2zM188.5 264.0h3.6l-1.8 3.2zM188.7 265.5h3.6l-1.8 3.2zM189.2 267.9h3.6l-1.8 3.2zM189.3 266.0h3.6l-1.8 3.2zM189.3 275.0h3.6l-1.8 3.2zM189.4 273.8h3.6l-1.8 3.2zM190.0 269.8h3.6l-1.8 3.2zM190.2 272.6h3.6l-1.8 3.2zM190.3 272.1h3.6l-1.8 3.2zM190.3 275.8h3.6l-1.8 3.2zM190.7 273.4h3.6l-1.8 3.2zM190.7 282.9h3.6l-1.8 3.2zM191.2 277.4h3.6l-1.8 3.2zM191.2 279.5h3.6l-1.8 3.2zM191.4 285.1h3.6l-1.8 3.2zM191.5 282.8h3.6l-1.8 3.2zM191.4 278.9h3.6l-1.8 3.2zM191.6 285.8h3.6l-1.8 3.2zM191.7 276.2h3.6l-1.8 3.2zM192.1 283.0h3.6l-1.8 3.2zM192.2 282.6h3.6l-1.8 3.2zM192.3 281.6h3.6l-1.8 3.2zM192.5 290.1h3.6l-1.8 3.2zM192.4 278.9h3.6l-1.8 3.2zM192.6 286.1h3.6l-1.8 3.2zM192.7 298.8h3.6l-1.8 3.2zM193.1 290.0h3.6l-1.8 3.2zM192.7 282.2h3.6l-1.8 3.2zM193.0 276.9h3.6l-1.8 3.2zM193.0 282.8h3.6l-1.8 3.2zM193.5 281.9h3.6l-1.8 3.2zM193.4 291.5h3.6l-1.8 3.2zM193.9 287.2h3.6l-1.8 3.2zM193.6 286.9h3.6l-1.8 3.2zM193.8 296.3h3.6l-1.8 3.2zM194.1 284.5h3.6l-1.8 3.2zM194.1 288.3h3.6l-1.8 3.2zM194.1 286.9h3.6l-1.8 3.2zM194.4 278.7h3.6l-1.8 3.2zM194.4 287.1h3.6l-1.8 3.2zM194.9 288.6h3.6l-1.8 3.2zM194.7 283.4h3.6l-1.8 3.2zM195.1 286.1h3.6l-1.8 3.2zM194.9 291.0h3.6l-1.8 3.2zM195.3 288.0h3.6l-1.8 3.2zM195.5 285.0h3.6l-1.8 3.2zM195.3 287.6h3.6l-1.8 3.2zM195.6 282.8h3.6l-1.8 3.2zM195.7 306.9h3.6l-1.8 3.2zM195.7 289.5h3.6l-1.8 3.2zM195.8 291.3h3.6l-1.8 3.2zM195.7 287.6h3.6l-1.8 3.2zM195.9 292.0h3.6l-1.8 3.2zM196.2 293.7h3.6l-1.8 3.2zM196.2 279.2h3.6l-1.8 3.2zM196.3 284.4h3.6l-1.8 3.2zM196.8 283.8h3.6l-1.8 3.2zM196.8 289.7h3.6l-1.8 3.2zM197.0 287.4h3.6l-1.8 3.2zM197.0 294.8h3.6l-1.8 3.2zM197.0 296.7h3.6l-1.8 3.2zM197.1 286.5h3.6l-1.8 3.2zM197.4 302.3h3.6l-1.8 3.2zM197.4 291.8h3.6l-1.8 3.2zM197.6 286.3h3.6l-1.8 3.2zM197.9 285.7h3.6l-1.8 3.2zM198.0 284.5h3.6l-1.8 3.2zM197.8 293.8h3.6l-1.8 3.2zM198.2 307.2h3.6l-1.8 3.2zM198.2 295.2h3.6l-1.8 3.2zM198.2 283.5h3.6l-1.8 3.2zM198.7 287.6h3.6l-1.8 3.2zM198.6 291.4h3.6l-1.8 3.2zM198.6 296.8h3.6l-1.8 3.2zM198.7 290.2h3.6l-1.8 3.2zM199.1 286.9h3.6l-1.8 3.2zM199.1 312.4h3.6l-1.8 3.2zM199.1 291.7h3.6l-1.8 3.2zM199.4 289.7h3.6l-1.8 3.2zM199.6 287.6h3.6l-1.8 3.2zM199.6 307.6h3.6l-1.8 3.2zM199.8 286.0h3.6l-1.8 3.2zM199.8 285.9h3.6l-1.8 3.2zM200.0 289.6h3.6l-1.8 3.2zM200.0 292.3h3.6l-1.8 3.2zM200.1 285.9h3.6l-1.8 3.2zM200.4 294.2h3.6l-1.8 3.2zM200.5 285.0h3.6l-1.8 3.2zM200.4 289.5h3.6l-1.8 3.2zM201.0 286.5h3.6l-1.8 3.2zM201.0 295.1h3.6l-1.8 3.2zM200.9 292.6h3.6l-1.8 3.2zM201.2 299.1h3.6l-1.8 3.2zM201.2 287.1h3.6l-1.8 3.2zM201.7 289.6h3.6l-1.8 3.2zM201.5 284.6h3.6l-1.8 3.2zM201.5 294.7h3.6l-1.8 3.2zM201.8 299.2h3.6l-1.8 3.2zM201.9 287.1h3.6l-1.8 3.2zM201.9 289.6h3.6l-1.8 3.2zM202.1 281.0h3.6l-1.8 3.2zM202.3 290.1h3.6l-1.8 3.2zM202.4 284.5h3.6l-1.8 3.2zM202.2 283.8h3.6l-1.8 3.2zM202.3 287.3h3.6l-1.8 3.2zM202.7 293.1h3.6l-1.8 3.2zM203.0 299.1h3.6l-1.8 3.2zM203.2 290.2h3.6l-1.8 3.2zM203.0 296.7h3.6l-1.8 3.2zM202.9 298.2h3.6l-1.8 3.2zM203.6 290.8h3.6l-1.8 3.2zM203.4 285.1h3.6l-1.8 3.2zM203.6 288.4h3.6l-1.8 3.2zM203.8 285.1h3.6l-1.8 3.2zM203.7 289.6h3.6l-1.8 3.2zM204.0 287.0h3.6l-1.8 3.2zM204.2 290.9h3.6l-1.8 3.2zM204.4 295.6h3.6l-1.8 3.2zM204.3 291.6h3.6l-1.8 3.2zM204.9 290.0h3.6l-1.8 3.2zM204.7 301.8h3.6l-1.8 3.2zM204.8 284.9h3.6l-1.8 3.2zM204.8 307.5h3.6l-1.8 3.2zM204.8 296.6h3.6l-1.8 3.2zM205.4 291.3h3.6l-1.8 3.2zM205.3 296.2h3.6l-1.8 3.2zM205.3 288.4h3.6l-1.8 3.2zM205.4 288.4h3.6l-1.8 3.2zM205.6 301.7h3.6l-1.8 3.2zM205.8 290.5h3.6l-1.8 3.2zM205.8 306.5h3.6l-1.8 3.2zM206.2 314.8h3.6l-1.8 3.2zM205.8 301.9h3.6l-1.8 3.2zM206.4 289.5h3.6l-1.8 3.2zM206.5 281.8h3.6l-1.8 3.2zM206.3 299.1h3.6l-1.8 3.2zM206.7 286.2h3.6l-1.8 3.2zM206.5 302.6h3.6l-1.8 3.2zM206.7 288.7h3.6l-1.8 3.2zM206.7 303.8h3.6l-1.8 3.2zM207.0 302.2h3.6l-1.8 3.2zM207.2 299.3h3.6l-1.8 3.2zM207.4 307.2h3.6l-1.8 3.2zM207.4 288.1h3.6l-1.8 3.2zM207.7 283.2h3.6l-1.8 3.2zM207.6 288.5h3.6l-1.8 3.2zM208.0 301.7h3.6l-1.8 3.2zM207.7 302.4h3.6l-1.8 3.2zM208.0 292.4h3.6l-1.8 3.2zM208.1 287.3h3.6l-1.8 3.2zM208.5 290.5h3.6l-1.8 3.2zM208.4 293.5h3.6l-1.8 3.2zM208.6 301.8h3.6l-1.8 3.2zM208.7 295.6h3.6l-1.8 3.2zM208.9 302.3h3.6l-1.8 3.2zM209.0 285.0h3.6l-1.8 3.2zM209.2 288.1h3.6l-1.8 3.2zM209.2 302.7h3.6l-1.8 3.2zM209.4 291.0h3.6l-1.8 3.2zM209.7 283.1h3.6l-1.8 3.2zM209.7 290.9h3.6l-1.8 3.2zM209.9 291.6h3.6l-1.8 3.2zM209.7 307.7h3.6l-1.8 3.2zM209.8 289.7h3.6l-1.8 3.2zM209.8 292.3h3.6l-1.8 3.2zM210.0 285.6h3.6l-1.8 3.2zM210.3 292.1h3.6l-1.8 3.2zM210.2 292.6h3.6l-1.8 3.2zM210.8 303.3h3.6l-1.8 3.2zM211.0 298.8h3.6l-1.8 3.2zM210.7 295.8h3.6l-1.8 3.2zM210.8 296.5h3.6l-1.8 3.2zM211.0 293.3h3.6l-1.8 3.2zM211.2 299.0h3.6l-1.8 3.2zM211.6 290.3h3.6l-1.8 3.2zM211.7 294.1h3.6l-1.8 3.2zM211.2 286.3h3.6l-1.8 3.2zM211.8 296.5h3.6l-1.8 3.2zM212.0 289.1h3.6l-1.8 3.2zM212.1 288.6h3.6l-1.8 3.2zM212.2 299.2h3.6l-1.8 3.2zM212.2 292.1h3.6l-1.8 3.2zM212.4 289.5h3.6l-1.8 3.2zM212.4 302.4h3.6l-1.8 3.2zM212.9 296.0h3.6l-1.8 3.2zM212.7 291.3h3.6l-1.8 3.2zM213.0 288.4h3.6l-1.8 3.2zM212.9 307.1h3.6l-1.8 3.2zM213.1 284.2h3.6l-1.8 3.2zM213.1 297.4h3.6l-1.8 3.2zM213.1 282.0h3.6l-1.8 3.2zM213.4 299.9h3.6l-1.8 3.2zM213.6 298.7h3.6l-1.8 3.2zM213.7 289.5h3.6l-1.8 3.2zM213.6 294.1h3.6l-1.8 3.2zM214.0 288.2h3.6l-1.8 3.2zM214.4 297.1h3.6l-1.8 3.2zM214.3 299.1h3.6l-1.8 3.2zM214.3 296.3h3.6l-1.8 3.2zM214.6 313.4h3.6l-1.8 3.2zM214.7 293.3h3.6l-1.8 3.2zM214.8 289.8h3.6l-1.8 3.2zM214.7 286.9h3.6l-1.8 3.2zM215.1 298.9h3.6l-1.8 3.2zM215.0 302.6h3.6l-1.8 3.2zM215.5 298.5h3.6l-1.8 3.2zM215.4 296.0h3.6l-1.8 3.2zM215.6 296.5h3.6l-1.8 3.2zM215.5 296.5h3.6l-1.8 3.2zM215.7 293.4h3.6l-1.8 3.2zM215.7 292.6h3.6l-1.8 3.2zM215.8 293.5h3.6l-1.8 3.2zM216.3 295.2h3.6l-1.8 3.2zM216.1 290.5h3.6l-1.8 3.2zM216.5 298.5h3.6l-1.8 3.2zM216.3 288.2h3.6l-1.8 3.2zM216.7 283.3h3.6l-1.8 3.2zM216.6 289.8h3.6l-1.8 3.2zM217.1 302.3h3.6l-1.8 3.2zM216.9 289.4h3.6l-1.8 3.2zM217.0 293.7h3.6l-1.8 3.2zM217.3 288.5h3.6l-1.8 3.2zM217.4 290.8h3.6l-1.8 3.2zM217.4 313.0h3.6l-1.8 3.2zM217.6 299.1h3.6l-1.8 3.2zM217.7 299.3h3.6l-1.8 3.2zM217.9 296.4h3.6l-1.8 3.2zM217.9 291.1h3.6l-1.8 3.2zM217.9 284.0h3.6l-1.8 3.2zM218.0 286.7h3.6l-1.8 3.2zM218.3 295.3h3.6l-1.8 3.2zM218.3 295.5h3.6l-1.8 3.2zM218.2 294.1h3.6l-1.8 3.2zM218.6 287.7h3.6l-1.8 3.2zM218.7 305.5h3.6l-1.8 3.2zM219.1 302.1h3.6l-1.8 3.2zM219.0 307.7h3.6l-1.8 3.2zM219.1 289.3h3.6l-1.8 3.2zM219.4 313.5h3.6l-1.8 3.2zM219.7 286.8h3.6l-1.8 3.2zM219.7 287.8h3.6l-1.8 3.2zM219.5 295.1h3.6l-1.8 3.2zM219.6 298.9h3.6l-1.8 3.2zM220.1 307.4h3.6l-1.8 3.2zM220.2 283.0h3.6l-1.8 3.2zM220.2 313.9h3.6l-1.8 3.2zM220.4 295.8h3.6l-1.8 3.2zM220.4 285.2h3.6l-1.8 3.2zM220.6 300.8h3.6l-1.8 3.2zM220.9 295.9h3.6l-1.8 3.2zM220.7 290.9h3.6l-1.8 3.2zM220.6 307.0h3.6l-1.8 3.2zM221.0 293.4h3.6l-1.8 3.2zM221.1 291.5h3.6l-1.8 3.2zM221.4 302.2h3.6l-1.8 3.2zM221.4 290.3h3.6l-1.8 3.2zM221.5 297.0h3.6l-1.8 3.2zM221.7 296.3h3.6l-1.8 3.2zM221.7 296.9h3.6l-1.8 3.2zM221.9 289.8h3.6l-1.8 3.2zM222.1 299.5h3.6l-1.8 3.2zM222.2 295.8h3.6l-1.8 3.2zM222.3 302.3h3.6l-1.8 3.2zM222.6 303.3h3.6l-1.8 3.2zM222.5 302.2h3.6l-1.8 3.2zM222.8 307.7h3.6l-1.8 3.2zM222.8 293.1h3.6l-1.8 3.2zM222.9 297.3h3.6l-1.8 3.2zM222.9 299.1h3.6l-1.8 3.2zM223.3 293.1h3.6l-1.8 3.2zM223.5 298.9h3.6l-1.8 3.2zM223.7 312.8h3.6l-1.8 3.2zM223.7 298.9h3.6l-1.8 3.2zM223.9 297.8h3.6l-1.8 3.2zM223.9 301.8h3.6l-1.8 3.2zM224.2 290.4h3.6l-1.8 3.2zM224.4 295.3h3.6l-1.8 3.2zM224.1 295.9h3.6l-1.8 3.2zM224.3 296.6h3.6l-1.8 3.2zM224.6 299.3h3.6l-1.8 3.2zM224.9 287.7h3.6l-1.8 3.2zM225.2 298.4h3.6l-1.8 3.2zM225.0 298.6h3.6l-1.8 3.2zM225.1 288.1h3.6l-1.8 3.2zM225.1 293.3h3.6l-1.8 3.2zM225.2 302.0h3.6l-1.8 3.2zM225.7 303.5h3.6l-1.8 3.2zM225.3 305.2h3.6l-1.8 3.2zM225.5 291.0h3.6l-1.8 3.2zM226.1 296.2h3.6l-1.8 3.2zM226.0 300.2h3.6l-1.8 3.2zM225.9 296.2h3.6l-1.8 3.2zM226.0 299.0h3.6l-1.8 3.2zM226.6 294.8h3.6l-1.8 3.2zM226.3 302.4h3.6l-1.8 3.2zM226.5 290.1h3.6l-1.8 3.2zM226.8 288.8h3.6l-1.8 3.2zM226.8 293.2h3.6l-1.8 3.2zM227.1 284.2h3.6l-1.8 3.2zM227.0 290.3h3.6l-1.8 3.2zM227.4 302.5h3.6l-1.8 3.2zM227.4 295.7h3.6l-1.8 3.2zM227.2 289.3h3.6l-1.8 3.2zM227.7 291.8h3.6l-1.8 3.2zM227.8 299.3h3.6l-1.8 3.2zM227.9 297.3h3.6l-1.8 3.2zM228.0 288.4h3.6l-1.8 3.2zM228.0 294.2h3.6l-1.8 3.2zM228.2 299.8h3.6l-1.8 3.2zM228.4 301.4h3.6l-1.8 3.2zM228.4 296.2h3.6l-1.8 3.2zM228.7 302.8h3.6l-1.8 3.2zM229.0 315.1h3.6l-1.8 3.2zM229.1 302.7h3.6l-1.8 3.2zM228.9 297.1h3.6l-1.8 3.2zM229.0 292.1h3.6l-1.8 3.2zM229.2 297.7h3.6l-1.8 3.2zM229.1 299.1h3.6l-1.8 3.2zM229.5 291.1h3.6l-1.8 3.2zM229.7 300.2h3.6l-1.8 3.2zM229.7 296.5h3.6l-1.8 3.2zM229.8 299.6h3.6l-1.8 3.2zM230.0 281.9h3.6l-1.8 3.2zM230.0 297.0h3.6l-1.8 3.2zM230.2 289.8h3.6l-1.8 3.2zM230.3 296.0h3.6l-1.8 3.2zM230.6 290.6h3.6l-1.8 3.2zM230.6 303.3h3.6l-1.8 3.2zM231.1 307.3h3.6l-1.8 3.2zM230.7 295.4h3.6l-1.8 3.2zM231.0 302.2h3.6l-1.8 3.2zM231.1 289.0h3.6l-1.8 3.2zM231.5 294.3h3.6l-1.8 3.2zM231.2 299.1h3.6l-1.8 3.2zM231.5 296.0h3.6l-1.8 3.2zM231.6 296.7h3.6l-1.8 3.2zM231.7 292.0h3.6l-1.8 3.2zM232.0 302.8h3.6l-1.8 3.2zM231.9 296.0h3.6l-1.8 3.2zM232.0 307.5h3.6l-1.8 3.2zM232.2 292.6h3.6l-1.8 3.2zM232.3 291.1h3.6l-1.8 3.2zM232.6 288.4h3.6l-1.8 3.2zM232.3 290.0h3.6l-1.8 3.2zM232.9 293.5h3.6l-1.8 3.2zM232.8 296.6h3.6l-1.8 3.2zM233.0 295.6h3.6l-1.8 3.2zM233.1 307.7h3.6l-1.8 3.2zM233.5 288.0h3.6l-1.8 3.2zM233.3 312.7h3.6l-1.8 3.2zM233.6 292.9h3.6l-1.8 3.2zM233.6 300.8h3.6l-1.8 3.2zM233.7 293.4h3.6l-1.8 3.2zM233.6 299.5h3.6l-1.8 3.2zM233.8 299.4h3.6l-1.8 3.2zM234.1 303.3h3.6l-1.8 3.2zM234.1 308.1h3.6l-1.8 3.2zM234.4 291.7h3.6l-1.8 3.2zM234.4 289.1h3.6l-1.8 3.2zM234.7 290.0h3.6l-1.8 3.2zM234.6 312.7h3.6l-1.8 3.2zM234.8 293.8h3.6l-1.8 3.2zM234.8 299.2h3.6l-1.8 3.2zM235.1 296.0h3.6l-1.8 3.2zM235.0 296.0h3.6l-1.8 3.2zM235.2 293.1h3.6l-1.8 3.2zM235.4 296.6h3.6l-1.8 3.2zM235.6 293.2h3.6l-1.8 3.2zM235.7 295.5h3.6l-1.8 3.2zM236.0 291.8h3.6l-1.8 3.2zM236.2 296.6h3.6l-1.8 3.2zM236.1 297.9h3.6l-1.8 3.2zM236.0 292.3h3.6l-1.8 3.2zM236.0 324.9h3.6l-1.8 3.2zM236.7 305.6h3.6l-1.8 3.2zM236.8 298.0h3.6l-1.8 3.2zM236.5 299.6h3.6l-1.8 3.2zM236.7 302.0h3.6l-1.8 3.2zM237.0 298.1h3.6l-1.8 3.2zM237.1 292.1h3.6l-1.8 3.2zM237.3 302.4h3.6l-1.8 3.2zM237.3 313.4h3.6l-1.8 3.2zM237.5 292.3h3.6l-1.8 3.2zM237.8 299.8h3.6l-1.8 3.2zM237.9 296.6h3.6l-1.8 3.2zM238.0 289.3h3.6l-1.8 3.2zM237.9 299.5h3.6l-1.8 3.2zM238.3 301.9h3.6l-1.8 3.2zM238.1 296.7h3.6l-1.8 3.2zM238.5 298.0h3.6l-1.8 3.2zM238.7 295.3h3.6l-1.8 3.2zM238.4 293.9h3.6l-1.8 3.2zM238.7 296.3h3.6l-1.8 3.2zM239.1 299.5h3.6l-1.8 3.2zM239.1 290.1h3.6l-1.8 3.2zM239.1 302.5h3.6l-1.8 3.2zM239.2 299.2h3.6l-1.8 3.2zM239.4 290.8h3.6l-1.8 3.2zM239.6 313.8h3.6l-1.8 3.2zM239.4 293.8h3.6l-1.8 3.2zM239.7 295.7h3.6l-1.8 3.2zM240.0 296.7h3.6l-1.8 3.2zM240.0 302.5h3.6l-1.8 3.2zM240.1 290.0h3.6l-1.8 3.2zM240.1 313.4h3.6l-1.8 3.2zM240.4 293.6h3.6l-1.8 3.2zM240.4 302.8h3.6l-1.8 3.2zM240.6 303.2h3.6l-1.8 3.2zM240.4 293.2h3.6l-1.8 3.2zM241.0 298.7h3.6l-1.8 3.2zM241.0 299.7h3.6l-1.8 3.2zM241.3 306.9h3.6l-1.8 3.2zM241.2 302.1h3.6l-1.8 3.2zM241.1 300.3h3.6l-1.8 3.2zM241.7 303.3h3.6l-1.8 3.2zM241.5 295.4h3.6l-1.8 3.2zM241.8 306.4h3.6l-1.8 3.2zM241.8 298.2h3.6l-1.8 3.2zM242.0 299.5h3.6l-1.8 3.2zM242.2 288.0h3.6l-1.8 3.2zM242.0 315.8h3.6l-1.8 3.2zM242.3 324.9h3.6l-1.8 3.2zM242.2 302.8h3.6l-1.8 3.2zM242.6 313.9h3.6l-1.8 3.2zM242.9 302.3h3.6l-1.8 3.2zM243.0 296.5h3.6l-1.8 3.2zM243.2 293.0h3.6l-1.8 3.2zM243.3 295.7h3.6l-1.8 3.2zM243.7 299.1h3.6l-1.8 3.2zM243.6 294.1h3.6l-1.8 3.2zM243.9 293.8h3.6l-1.8 3.2zM243.6 293.3h3.6l-1.8 3.2zM244.1 299.9h3.6l-1.8 3.2zM244.1 303.1h3.6l-1.8 3.2zM243.8 294.0h3.6l-1.8 3.2zM244.1 296.3h3.6l-1.8 3.2zM244.5 291.4h3.6l-1.8 3.2zM244.4 288.6h3.6l-1.8 3.2zM244.7 306.3h3.6l-1.8 3.2zM244.7 297.9h3.6l-1.8 3.2zM244.8 296.9h3.6l-1.8 3.2zM245.0 302.9h3.6l-1.8 3.2zM245.0 302.7h3.6l-1.8 3.2zM245.1 296.3h3.6l-1.8 3.2zM245.1 291.9h3.6l-1.8 3.2zM245.4 295.4h3.6l-1.8 3.2zM245.8 291.4h3.6l-1.8 3.2zM245.9 290.1h3.6l-1.8 3.2zM245.7 303.9h3.6l-1.8 3.2zM246.4 299.2h3.6l-1.8 3.2zM246.1 313.8h3.6l-1.8 3.2zM246.2 298.5h3.6l-1.8 3.2zM246.3 301.3h3.6l-1.8 3.2zM246.5 290.4h3.6l-1.8 3.2zM246.9 292.7h3.6l-1.8 3.2zM246.7 302.4h3.6l-1.8 3.2zM247.0 291.7h3.6l-1.8 3.2zM247.1 306.2h3.6l-1.8 3.2zM247.1 293.2h3.6l-1.8 3.2zM247.6 293.4h3.6l-1.8 3.2zM247.5 306.5h3.6l-1.8 3.2zM247.6 299.4h3.6l-1.8 3.2zM247.5 324.1h3.6l-1.8 3.2zM247.7 291.5h3.6l-1.8 3.2zM247.9 292.0h3.6l-1.8 3.2zM248.1 296.6h3.6l-1.8 3.2zM248.2 297.1h3.6l-1.8 3.2zM248.0 302.1h3.6l-1.8 3.2zM248.4 305.5h3.6l-1.8 3.2zM248.6 301.6h3.6l-1.8 3.2zM248.4 293.2h3.6l-1.8 3.2zM248.6 296.6h3.6l-1.8 3.2zM249.1 313.3h3.6l-1.8 3.2zM248.9 297.6h3.6l-1.8 3.2zM249.3 293.1h3.6l-1.8 3.2zM249.1 302.6h3.6l-1.8 3.2zM249.5 291.9h3.6l-1.8 3.2zM249.8 324.1h3.6l-1.8 3.2zM249.8 299.1h3.6l-1.8 3.2zM249.6 314.6h3.6l-1.8 3.2zM249.9 291.4h3.6l-1.8 3.2zM250.3 314.1h3.6l-1.8 3.2zM250.4 292.1h3.6l-1.8 3.2zM250.5 299.4h3.6l-1.8 3.2zM250.7 298.9h3.6l-1.8 3.2zM250.9 307.1h3.6l-1.8 3.2zM250.8 304.3h3.6l-1.8 3.2zM250.9 303.6h3.6l-1.8 3.2zM251.2 314.1h3.6l-1.8 3.2zM251.5 301.0h3.6l-1.8 3.2zM251.1 291.8h3.6l-1.8 3.2zM251.4 312.9h3.6l-1.8 3.2zM251.5 313.6h3.6l-1.8 3.2zM251.8 301.9h3.6l-1.8 3.2zM251.7 301.9h3.6l-1.8 3.2zM252.2 301.5h3.6l-1.8 3.2zM252.3 302.9h3.6l-1.8 3.2zM252.3 300.1h3.6l-1.8 3.2zM252.6 306.6h3.6l-1.8 3.2zM252.5 299.1h3.6l-1.8 3.2zM252.4 302.2h3.6l-1.8 3.2zM252.9 302.4h3.6l-1.8 3.2zM252.9 295.6h3.6l-1.8 3.2zM253.0 303.0h3.6l-1.8 3.2zM253.4 313.7h3.6l-1.8 3.2zM253.3 299.7h3.6l-1.8 3.2zM253.4 314.8h3.6l-1.8 3.2zM253.5 286.1h3.6l-1.8 3.2zM253.5 302.7h3.6l-1.8 3.2zM253.6 302.4h3.6l-1.8 3.2zM254.0 301.1h3.6l-1.8 3.2zM254.1 294.9h3.6l-1.8 3.2zM254.2 298.4h3.6l-1.8 3.2zM254.3 298.5h3.6l-1.8 3.2zM254.2 299.2h3.6l-1.8 3.2zM254.6 301.7h3.6l-1.8 3.2zM254.8 295.6h3.6l-1.8 3.2zM254.5 298.7h3.6l-1.8 3.2zM255.0 290.3h3.6l-1.8 3.2zM255.1 293.2h3.6l-1.8 3.2zM255.4 308.3h3.6l-1.8 3.2zM255.6 302.4h3.6l-1.8 3.2zM255.5 303.3h3.6l-1.8 3.2zM255.7 298.4h3.6l-1.8 3.2zM255.4 294.3h3.6l-1.8 3.2zM255.9 312.8h3.6l-1.8 3.2zM256.0 298.4h3.6l-1.8 3.2zM256.2 301.5h3.6l-1.8 3.2zM256.0 302.5h3.6l-1.8 3.2zM256.4 302.4h3.6l-1.8 3.2zM256.5 306.7h3.6l-1.8 3.2zM256.6 299.8h3.6l-1.8 3.2zM256.7 296.8h3.6l-1.8 3.2zM257.1 286.5h3.6l-1.8 3.2zM256.9 314.3h3.6l-1.8 3.2zM257.3 296.8h3.6l-1.8 3.2zM257.3 293.3h3.6l-1.8 3.2zM257.4 299.7h3.6l-1.8 3.2zM257.3 298.5h3.6l-1.8 3.2zM257.8 297.6h3.6l-1.8 3.2zM258.0 298.2h3.6l-1.8 3.2zM258.0 302.6h3.6l-1.8 3.2zM258.1 302.4h3.6l-1.8 3.2zM258.0 291.7h3.6l-1.8 3.2zM258.4 306.9h3.6l-1.8 3.2zM258.4 324.0h3.6l-1.8 3.2zM258.7 323.9h3.6l-1.8 3.2zM258.5 295.9h3.6l-1.8 3.2zM258.6 306.9h3.6l-1.8 3.2zM258.9 299.1h3.6l-1.8 3.2zM259.2 303.0h3.6l-1.8 3.2zM259.2 302.4h3.6l-1.8 3.2zM259.4 303.0h3.6l-1.8 3.2zM259.8 298.7h3.6l-1.8 3.2zM259.9 301.6h3.6l-1.8 3.2zM259.8 307.3h3.6l-1.8 3.2zM260.1 295.8h3.6l-1.8 3.2zM260.0 309.5h3.6l-1.8 3.2zM260.1 301.0h3.6l-1.8 3.2zM260.5 290.3h3.6l-1.8 3.2zM260.5 298.6h3.6l-1.8 3.2zM260.9 291.2h3.6l-1.8 3.2zM260.6 298.5h3.6l-1.8 3.2zM260.6 307.4h3.6l-1.8 3.2zM260.8 324.3h3.6l-1.8 3.2zM261.1 298.7h3.6l-1.8 3.2zM261.4 298.1h3.6l-1.8 3.2zM261.1 294.4h3.6l-1.8 3.2zM261.3 289.9h3.6l-1.8 3.2zM261.8 297.7h3.6l-1.8 3.2zM261.8 295.7h3.6l-1.8 3.2zM261.8 299.3h3.6l-1.8 3.2zM261.9 306.2h3.6l-1.8 3.2zM262.3 294.3h3.6l-1.8 3.2zM262.3 293.0h3.6l-1.8 3.2zM262.3 293.4h3.6l-1.8 3.2zM262.5 314.2h3.6l-1.8 3.2zM262.9 291.8h3.6l-1.8 3.2zM263.0 299.6h3.6l-1.8 3.2zM263.0 298.4h3.6l-1.8 3.2zM263.4 305.6h3.6l-1.8 3.2zM263.3 302.4h3.6l-1.8 3.2zM263.2 295.9h3.6l-1.8 3.2zM263.5 302.2h3.6l-1.8 3.2zM263.3 299.0h3.6l-1.8 3.2zM263.6 302.5h3.6l-1.8 3.2zM263.8 303.2h3.6l-1.8 3.2zM264.0 313.6h3.6l-1.8 3.2zM264.4 324.5h3.6l-1.8 3.2zM263.8 298.5h3.6l-1.8 3.2zM264.6 302.2h3.6l-1.8 3.2zM264.3 300.8h3.6l-1.8 3.2zM264.7 300.1h3.6l-1.8 3.2zM265.2 295.1h3.6l-1.8 3.2zM264.9 299.5h3.6l-1.8 3.2zM265.1 299.0h3.6l-1.8 3.2zM265.1 296.2h3.6l-1.8 3.2zM265.3 295.9h3.6l-1.8 3.2zM265.3 313.4h3.6l-1.8 3.2zM265.5 308.0h3.6l-1.8 3.2zM265.5 324.4h3.6l-1.8 3.2zM265.6 313.0h3.6l-1.8 3.2zM266.0 307.1h3.6l-1.8 3.2zM265.8 301.3h3.6l-1.8 3.2zM266.2 298.6h3.6l-1.8 3.2zM266.3 307.1h3.6l-1.8 3.2zM266.5 307.5h3.6l-1.8 3.2zM266.1 313.3h3.6l-1.8 3.2zM266.7 288.7h3.6l-1.8 3.2zM266.6 298.5h3.6l-1.8 3.2zM266.7 323.7h3.6l-1.8 3.2zM266.9 293.1h3.6l-1.8 3.2zM267.0 313.8h3.6l-1.8 3.2zM267.1 289.8h3.6l-1.8 3.2zM267.3 302.1h3.6l-1.8 3.2zM267.6 302.9h3.6l-1.8 3.2zM267.7 295.5h3.6l-1.8 3.2zM267.9 303.0h3.6l-1.8 3.2zM267.7 298.6h3.6l-1.8 3.2zM267.7 307.2h3.6l-1.8 3.2zM268.3 303.0h3.6l-1.8 3.2zM268.5 301.9h3.6l-1.8 3.2zM268.4 302.1h3.6l-1.8 3.2zM268.8 297.0h3.6l-1.8 3.2zM268.6 302.7h3.6l-1.8 3.2zM268.8 302.3h3.6l-1.8 3.2zM269.0 296.4h3.6l-1.8 3.2zM269.2 307.1h3.6l-1.8 3.2zM269.2 312.5h3.6l-1.8 3.2zM269.6 295.9h3.6l-1.8 3.2zM269.5 308.2h3.6l-1.8 3.2zM269.4 302.7h3.6l-1.8 3.2zM270.0 293.1h3.6l-1.8 3.2zM269.9 296.9h3.6l-1.8 3.2zM270.2 307.9h3.6l-1.8 3.2zM269.9 297.2h3.6l-1.8 3.2zM270.3 297.8h3.6l-1.8 3.2zM270.4 307.2h3.6l-1.8 3.2zM270.5 301.4h3.6l-1.8 3.2zM270.5 293.8h3.6l-1.8 3.2zM270.6 298.6h3.6l-1.8 3.2zM270.5 299.7h3.6l-1.8 3.2zM270.8 306.7h3.6l-1.8 3.2zM271.2 307.2h3.6l-1.8 3.2zM271.1 324.5h3.6l-1.8 3.2zM271.2 299.0h3.6l-1.8 3.2zM271.6 308.4h3.6l-1.8 3.2zM271.7 293.1h3.6l-1.8 3.2zM271.7 299.2h3.6l-1.8 3.2zM271.8 312.3h3.6l-1.8 3.2zM271.9 301.6h3.6l-1.8 3.2zM272.0 302.2h3.6l-1.8 3.2zM272.1 299.3h3.6l-1.8 3.2zM272.1 306.6h3.6l-1.8 3.2zM272.5 289.8h3.6l-1.8 3.2zM272.6 307.6h3.6l-1.8 3.2zM272.4 314.3h3.6l-1.8 3.2zM272.7 314.4h3.6l-1.8 3.2zM272.9 299.9h3.6l-1.8 3.2zM273.1 292.7h3.6l-1.8 3.2zM273.2 301.9h3.6l-1.8 3.2zM273.5 324.8h3.6l-1.8 3.2zM273.6 294.1h3.6l-1.8 3.2zM274.2 294.2h3.6l-1.8 3.2zM274.0 300.0h3.6l-1.8 3.2zM274.1 299.7h3.6l-1.8 3.2zM274.2 302.6h3.6l-1.8 3.2zM274.4 301.0h3.6l-1.8 3.2zM274.7 312.1h3.6l-1.8 3.2zM274.5 306.5h3.6l-1.8 3.2zM274.6 302.7h3.6l-1.8 3.2zM274.9 299.2h3.6l-1.8 3.2zM274.8 302.6h3.6l-1.8 3.2zM274.9 313.3h3.6l-1.8 3.2zM275.2 314.6h3.6l-1.8 3.2zM275.3 299.0h3.6l-1.8 3.2zM275.1 324.0h3.6l-1.8 3.2zM275.6 309.0h3.6l-1.8 3.2zM275.4 306.9h3.6l-1.8 3.2z" fill="#0a0a0a"/>
<path d="M132.4 171.7h3.6l-1.8 -3.2zM132.9 175.4h3.6l-1.8 -3.2zM133.0 178.9h3.6l-1.8 -3.2zM133.1 185.3h3.6l-1.8 -3.2zM133.4 190.6h3.6l-1.8 -3.2zM134.2 195.5h3.6l-1.8 -3.2zM134.3 200.6h3.6l-1.8 -3.2zM134.9 204.3h3.6l-1.8 -3.2zM134.8 207.8h3.6l-1.8 -3.2zM135.2 212.9h3.6l-1.8 -3.2zM135.3 216.0h3.6l-1.8 -3.2zM135.6 219.4h3.6l-1.8 -3.2zM136.0 222.4h3.6l-1.8 -3.2zM136.5 224.2h3.6l-1.8 -3.2zM136.5 226.6h3.6l-1.8 -3.2zM136.8 228.7h3.6l-1.8 -3.2zM137.2 231.4h3.6l-1.8 -3.2zM137.4 233.3h3.6l-1.8 -3.2zM138.0 234.4h3.6l-1.8 -3.2zM138.1 234.7h3.6l-1.8 -3.2zM138.5 237.1h3.6l-1.8 -3.2zM138.8 238.2h3.6l-1.8 -3.2zM139.3 238.6h3.6l-1.8 -3.2zM139.3 240.1h3.6l-1.8 -3.2zM139.7 241.2h3.6l-1.8 -3.2zM140.0 242.7h3.6l-1.8 -3.2zM140.6 243.7h3.6l-1.8 -3.2zM140.5 244.6h3.6l-1.8 -3.2zM141.1 245.4h3.6l-1.8 -3.2zM141.4 246.1h3.6l-1.8 -3.2zM141.4 246.3h3.6l-1.8 -3.2zM141.7 246.9h3.6l-1.8 -3.2zM142.1 248.4h3.6l-1.8 -3.2zM142.2 249.1h3.6l-1.8 -3.2zM142.8 249.6h3.6l-1.8 -3.2zM142.8 250.2h3.6l-1.8 -3.2zM143.3 251.4h3.6l-1.8 -3.2zM143.7 252.3h3.6l-1.8 -3.2zM143.7 252.3h3.6l-1.8 -3.2zM144.3 254.0h3.6l-1.8 -3.2zM144.6 253.9h3.6l-1.8 -3.2zM145.0 254.2h3.6l-1.8 -3.2zM145.1 255.3h3.6l-1.8 -3.2zM145.6 257.3h3.6l-1.8 -3.2zM145.5 256.7h3.6l-1.8 -3.2zM145.9 257.1h3.6l-1.8 -3.2zM146.1 258.6h3.6l-1.8 -3.2zM146.7 258.6h3.6l-1.8 -3.2zM147.0 259.2h3.6l-1.8 -3.2zM147.0 260.4h3.6l-1.8 -3.2zM147.6 262.0h3.6l-1.8 -3.2zM147.9 261.6h3.6l-1.8 -3.2zM148.1 261.7h3.6l-1.8 -3.2zM148.4 262.9h3.6l-1.8 -3.2zM148.6 264.2h3.6l-1.8 -3.2zM149.1 264.0h3.6l-1.8 -3.2zM149.1 265.5h3.6l-1.8 -3.2zM149.6 265.8h3.6l-1.8 -3.2zM150.0 266.4h3.6l-1.8 -3.2zM150.1 266.4h3.6l-1.8 -3.2zM150.7 265.7h3.6l-1.8 -3.2zM150.8 267.1h3.6l-1.8 -3.2zM151.2 266.9h3.6l-1.8 -3.2zM151.4 267.8h3.6l-1.8 -3.2zM151.6 268.6h3.6l-1.8 -3.2zM152.1 268.3h3.6l-1.8 -3.2zM152.5 268.9h3.6l-1.8 -3.2zM152.5 268.4h3.6l-1.8 -3.2zM152.8 267.9h3.6l-1.8 -3.2zM153.5 268.1h3.6l-1.8 -3.2zM153.7 270.9h3.6l-1.8 -3.2zM153.6 269.7h3.6l-1.8 -3.2zM153.8 268.5h3.6l-1.8 -3.2zM154.5 270.8h3.6l-1.8 -3.2zM154.7 268.8h3.6l-1.8 -3.2zM155.2 270.1h3.6l-1.8 -3.2zM155.2 271.1h3.6l-1.8 -3.2zM155.8 271.7h3.6l-1.8 -3.2zM155.8 270.3h3.6l-1.8 -3.2zM156.3 271.3h3.6l-1.8 -3.2zM156.7 271.5h3.6l-1.8 -3.2zM156.7 270.6h3.6l-1.8 -3.2zM157.2 269.9h3.6l-1.8 -3.2zM157.5 269.4h3.6l-1.8 -3.2zM157.7 268.7h3.6l-1.8 -3.2zM157.9 270.1h3.6l-1.8 -3.2zM158.2 269.4h3.6l-1.8 -3.2zM158.7 270.1h3.6l-1.8 -3.2zM158.8 270.6h3.6l-1.8 -3.2zM159.2 269.5h3.6l-1.8 -3.2zM159.6 268.7h3.6l-1.8 -3.2zM159.7 267.8h3.6l-1.8 -3.2zM160.0 267.4h3.6l-1.8 -3.2zM160.3 268.6h3.6l-1.8 -3.2zM160.8 268.0h3.6l-1.8 -3.2zM161.0 266.1h3.6l-1.8 -3.2zM161.4 264.7h3.6l-1.8 -3.2zM161.5 265.0h3.6l-1.8 -3.2zM161.9 264.5h3.6l-1.8 -3.2zM162.3 262.8h3.6l-1.8 -3.2zM162.4 263.1h3.6l-1.8 -3.2zM163.0 261.9h3.6l-1.8 -3.2zM163.1 261.0h3.6l-1.8 -3.2zM163.1 260.6h3.6l-1.8 -3.2zM163.6 259.7h3.6l-1.8 -3.2zM164.0 258.3h3.6l-1.8 -3.2zM164.4 257.9h3.6l-1.8 -3.2zM164.6 256.8h3.6l-1.8 -3.2zM165.2 254.9h3.6l-1.8 -3.2zM165.3 254.2h3.6l-1.8 -3.2zM165.6 252.7h3.6l-1.8 -3.2zM165.7 252.5h3.6l-1.8 -3.2zM165.9 251.0h3.6l-1.8 -3.2zM166.6 251.2h3.6l-1.8 -3.2zM166.8 249.7h3.6l-1.8 -3.2zM166.8 248.7h3.6l-1.8 -3.2zM167.2 248.5h3.6l-1.8 -3.2zM167.6 246.8h3.6l-1.8 -3.2zM167.8 245.8h3.6l-1.8 -3.2zM168.2 244.3h3.6l-1.8 -3.2zM168.6 243.0h3.6l-1.8 -3.2zM168.6 242.1h3.6l-1.8 -3.2zM169.0 241.6h3.6l-1.8 -3.2zM169.7 239.7h3.6l-1.8 -3.2zM170.0 239.4h3.6l-1.8 -3.2zM169.9 238.2h3.6l-1.8 -3.2zM170.3 238.0h3.6l-1.8 -3.2zM170.5 236.5h3.6l-1.8 -3.2zM171.1 235.5h3.6l-1.8 -3.2zM171.2 234.1h3.6l-1.8 -3.2zM171.4 233.8h3.6l-1.8 -3.2zM171.7 231.6h3.6l-1.8 -3.2zM171.9 231.5h3.6l-1.8 -3.2zM172.6 229.8h3.6l-1.8 -3.2zM173.0 229.2h3.6l-1.8 -3.2zM173.0 228.2h3.6l-1.8 -3.2zM173.4 227.2h3.6l-1.8 -3.2zM173.7 226.3h3.6l-1.8 -3.2zM173.8 224.6h3.6l-1.8 -3.2zM174.2 224.0h3.6l-1.8 -3.2zM174.3 222.8h3.6l-1.8 -3.2zM174.7 223.0h3.6l-1.8 -3.2zM174.8 221.9h3.6l-1.8 -3.2zM175.1 220.5h3.6l-1.8 -3.2zM175.7 219.2h3.6l-1.8 -3.2zM176.1 218.4h3.6l-1.8 -3.2zM176.4 217.7h3.6l-1.8 -3.2zM176.6 217.1h3.6l-1.8 -3.2zM177.0 215.2h3.6l-1.8 -3.2zM177.0 214.2h3.6l-1.8 -3.2zM177.5 213.1h3.6l-1.8 -3.2zM177.8 212.2h3.6l-1.8 -3.2zM177.9 212.0h3.6l-1.8 -3.2zM178.3 210.5h3.6l-1.8 -3.2zM179.0 209.6h3.6l-1.8 -3.2zM179.2 207.8h3.6l-1.8 -3.2zM179.4 207.7h3.6l-1.8 -3.2zM179.7 205.7h3.6l-1.8 -3.2zM180.1 205.4h3.6l-1.8 -3.2zM179.9 203.7h3.6l-1.8 -3.2zM180.6 203.1h3.6l-1.8 -3.2zM180.7 202.5h3.6l-1.8 -3.2zM180.9 201.9h3.6l-1.8 -3.2zM181.5 200.3h3.6l-1.8 -3.2zM181.7 199.8h3.6l-1.8 -3.2zM182.3 198.6h3.6l-1.8 -3.2zM182.1 197.6h3.6l-1.8 -3.2zM182.7 196.1h3.6l-1.8 -3.2zM182.8 195.9h3.6l-1.8 -3.2zM183.5 195.3h3.6l-1.8 -3.2zM183.4 194.8h3.6l-1.8 -3.2zM183.7 193.6h3.6l-1.8 -3.2zM184.0 193.4h3.6l-1.8 -3.2zM184.3 193.1h3.6l-1.8 -3.2zM184.7 191.9h3.6l-1.8 -3.2zM185.1 191.4h3.6l-1.8 -3.2zM185.5 191.6h3.6l-1.8 -3.2zM185.7 191.6h3.6l-1.8 -3.2zM185.7 190.7h3.6l-1.8 -3.2zM185.9 189.8h3.6l-1.8 -3.2zM186.7 190.5h3.6l-1.8 -3.2zM186.8 189.5h3.6l-1.8 -3.2zM187.0 189.1h3.6l-1.8 -3.2zM187.4 190.6h3.6l-1.8 -3.2zM187.5 189.1h3.6l-1.8 -3.2zM188.0 189.8h3.6l-1.8 -3.2zM188.6 188.8h3.6l-1.8 -3.2zM188.5 188.7h3.6l-1.8 -3.2zM188.9 189.2h3.6l-1.8 -3.2zM189.3 188.5h3.6l-1.8 -3.2zM189.4 189.4h3.6l-1.8 -3.2zM189.7 189.4h3.6l-1.8 -3.2zM190.0 189.5h3.6l-1.8 -3.2zM190.3 189.1h3.6l-1.8 -3.2zM190.8 189.4h3.6l-1.8 -3.2zM190.8 188.4h3.6l-1.8 -3.2zM191.4 190.0h3.6l-1.8 -3.2zM191.6 190.9h3.6l-1.8 -3.2zM191.9 191.3h3.6l-1.8 -3.2zM192.0 190.8h3.6l-1.8 -3.2zM192.5 192.2h3.6l-1.8 -3.2zM192.9 190.7h3.6l-1.8 -3.2zM193.1 192.5h3.6l-1.8 -3.2zM193.3 193.5h3.6l-1.8 -3.2zM193.8 193.4h3.6l-1.8 -3.2zM193.9 193.3h3.6l-1.8 -3.2zM194.4 194.0h3.6l-1.8 -3.2zM194.6 195.3h3.6l-1.8 -3.2zM195.0 196.3h3.6l-1.8 -3.2zM195.2 197.6h3.6l-1.8 -3.2zM195.5 198.2h3.6l-1.8 -3.2zM196.0 199.7h3.6l-1.8 -3.2zM196.0 200.6h3.6l-1.8 -3.2zM196.2 203.1h3.6l-1.8 -3.2zM196.8 203.8h3.6l-1.8 -3.2zM197.1 205.4h3.6l-1.8 -3.2zM197.4 206.0h3.6l-1.8 -3.2zM197.6 207.8h3.6l-1.8 -3.2zM198.0 209.3h3.6l-1.8 -3.2zM198.3 210.7h3.6l-1.8 -3.2zM198.3 211.6h3.6l-1.8 -3.2zM198.8 213.5h3.6l-1.8 -3.2zM199.2 215.1h3.6l-1.8 -3.2zM199.5 216.1h3.6l-1.8 -3.2zM199.8 218.0h3.6l-1.8 -3.2zM200.2 219.0h3.6l-1.8 -3.2zM200.3 221.3h3.6l-1.8 -3.2zM201.1 222.7h3.6l-1.8 -3.2zM200.9 223.0h3.6l-1.8 -3.2zM201.2 224.3h3.6l-1.8 -3.2zM201.3 226.3h3.6l-1.8 -3.2zM201.7 227.1h3.6l-1.8 -3.2zM202.1 228.6h3.6l-1.8 -3.2zM202.5 230.7h3.6l-1.8 -3.2zM202.8 231.3h3.6l-1.8 -3.2zM203.1 232.5h3.6l-1.8 -3.2zM203.4 234.2h3.6l-1.8 -3.2zM203.8 236.3h3.6l-1.8 -3.2zM203.9 237.9h3.6l-1.8 -3.2zM204.0 239.0h3.6l-1.8 -3.2zM204.4 240.7h3.6l-1.8 -3.2zM204.7 240.6h3.6l-1.8 -3.2zM205.3 242.2h3.6l-1.8 -3.2zM205.5 243.9h3.6l-1.8 -3.2zM205.8 245.5h3.6l-1.8 -3.2zM206.0 246.3h3.6l-1.8 -3.2zM206.2 247.6h3.6l-1.8 -3.2zM206.6 248.7h3.6l-1.8 -3.2zM207.0 248.8h3.6l-1.8 -3.2zM207.3 250.1h3.6l-1.8 -3.2zM207.6 251.0h3.6l-1.8 -3.2zM207.8 252.1h3.6l-1.8 -3.2zM207.7 251.9h3.6l-1.8 -3.2zM208.0 253.6h3.6l-1.8 -3.2zM208.5 254.7h3.6l-1.8 -3.2zM208.8 254.9h3.6l-1.8 -3.2zM208.8 255.4h3.6l-1.8 -3.2zM209.0 256.8h3.6l-1.8 -3.2zM209.2 257.0h3.6l-1.8 -3.2zM209.5 257.8h3.6l-1.8 -3.2zM210.0 259.2h3.6l-1.8 -3.2zM209.8 258.4h3.6l-1.8 -3.2zM210.4 260.7h3.6l-1.8 -3.2zM210.5 260.0h3.6l-1.8 -3.2zM210.8 261.0h3.6l-1.8 -3.2zM210.8 261.0h3.6l-1.8 -3.2zM210.7 262.7h3.6l-1.8 -3.2zM211.2 262.3h3.6l-1.8 -3.2zM211.2 263.7h3.6l-1.8 -3.2zM211.5 264.5h3.6l-1.8 -3.2zM211.7 265.2h3.6l-1.8 -3.2zM211.8 264.6h3.6l-1.8 -3.2zM212.1 266.0h3.6l-1.8 -3.2zM212.1 266.6h3.6l-1.8 -3.2zM212.5 265.6h3.6l-1.8 -3.2zM212.6 268.1h3.6l-1.8 -3.2zM212.6 267.0h3.6l-1.8 -3.2zM213.1 266.6h3.6l-1.8 -3.2zM213.2 267.8h3.6l-1.8 -3.2zM213.3 267.3h3.6l-1.8 -3.2zM213.2 269.5h3.6l-1.8 -3.2zM213.5 269.4h3.6l-1.8 -3.2zM213.9 268.8h3.6l-1.8 -3.2zM213.9 270.2h3.6l-1.8 -3.2zM214.0 271.0h3.6l-1.8 -3.2zM214.2 269.4h3.6l-1.8 -3.2zM214.3 269.6h3.6l-1.8 -3.2zM214.2 270.5h3.6l-1.8 -3.2zM214.6 270.5h3.6l-1.8 -3.2zM214.6 271.3h3.6l-1.8 -3.2zM215.0 273.1h3.6l-1.8 -3.2zM215.0 272.4h3.6l-1.8 -3.2zM215.2 272.7h3.6l-1.8 -3.2zM215.5 273.9h3.6l-1.8 -3.2zM215.3 272.5h3.6l-1.8 -3.2zM215.7 274.4h3.6l-1.8 -3.2zM215.8 271.9h3.6l-1.8 -3.2zM216.2 275.6h3.6l-1.8 -3.2zM216.2 275.2h3.6l-1.8 -3.2zM216.1 275.3h3.6l-1.8 -3.2zM216.1 271.7h3.6l-1.8 -3.2zM216.5 273.5h3.6l-1.8 -3.2zM216.7 275.9h3.6l-1.8 -3.2zM217.0 276.6h3.6l-1.8 -3.2zM217.1 276.3h3.6l-1.8 -3.2zM216.9 274.2h3.6l-1.8 -3.2zM217.0 273.7h3.6l-1.8 -3.2zM217.6 276.9h3.6l-1.8 -3.2zM217.5 273.2h3.6l-1.8 -3.2zM217.4 277.4h3.6l-1.8 -3.2zM217.6 276.5h3.6l-1.8 -3.2zM217.8 276.4h3.6l-1.8 -3.2zM218.0 280.3h3.6l-1.8 -3.2zM218.2 276.8h3.6l-1.8 -3.2zM218.0 275.0h3.6l-1.8 -3.2zM218.3 278.0h3.6l-1.8 -3.2zM218.1 275.8h3.6l-1.8 -3.2zM218.6 275.8h3.6l-1.8 -3.2zM218.7 277.9h3.6l-1.8 -3.2zM218.9 279.5h3.6l-1.8 -3.2zM218.8 279.9h3.6l-1.8 -3.2zM219.0 281.9h3.6l-1.8 -3.2zM218.9 274.0h3.6l-1.8 -3.2zM219.2 276.2h3.6l-1.8 -3.2zM219.4 283.1h3.6l-1.8 -3.2zM219.4 277.2h3.6l-1.8 -3.2zM219.6 276.6h3.6l-1.8 -3.2zM219.6 275.2h3.6l-1.8 -3.2zM220.0 279.5h3.6l-1.8 -3.2zM220.0 275.7h3.6l-1.8 -3.2zM220.2 274.8h3.6l-1.8 -3.2zM220.0 275.0h3.6l-1.8 -3.2zM220.3 276.6h3.6l-1.8 -3.2zM220.3 277.6h3.6l-1.8 -3.2zM220.9 277.4h3.6l-1.8 -3.2zM220.6 280.2h3.6l-1.8 -3.2zM220.7 281.0h3.6l-1.8 -3.2zM220.5 283.2h3.6l-1.8 -3.2zM220.8 281.5h3.6l-1.8 -3.2zM221.0 280.3h3.6l-1.8 -3.2zM221.4 276.4h3.6l-1.8 -3.2zM221.3 281.5h3.6l-1.8 -3.2zM221.1 279.4h3.6l-1.8 -3.2zM221.2 279.4h3.6l-1.8 -3.2zM221.5 283.1h3.6l-1.8 -3.2zM221.6 275.2h3.6l-1.8 -3.2zM222.1 276.4h3.6l-1.8 -3.2zM221.7 280.0h3.6l-1.8 -3.2zM222.2 279.0h3.6l-1.8 -3.2zM222.2 281.0h3.6l-1.8 -3.2zM222.2 280.8h3.6l-1.8 -3.2zM222.5 278.3h3.6l-1.8 -3.2zM222.5 275.6h3.6l-1.8 -3.2zM222.5 278.4h3.6l-1.8 -3.2zM222.9 281.7h3.6l-1.8 -3.2zM222.9 280.0h3.6l-1.8 -3.2zM222.9 279.1h3.6l-1.8 -3.2zM223.0 281.4h3.6l-1.8 -3.2zM223.0 284.3h3.6l-1.8 -3.2zM223.0 281.1h3.6l-1.8 -3.2zM223.3 286.1h3.6l-1.8 -3.2zM223.3 285.1h3.6l-1.8 -3.2zM223.2 281.1h3.6l-1.8 -3.2zM223.6 285.2h3.6l-1.8 -3.2zM223.6 285.3h3.6l-1.8 -3.2zM223.7 283.8h3.6l-1.8 -3.2zM223.8 283.6h3.6l-1.8 -3.2zM223.6 283.2h3.6l-1.8 -3.2zM224.2 279.1h3.6l-1.8 -3.2zM224.1 283.6h3.6l-1.8 -3.2zM224.2 285.7h3.6l-1.8 -3.2zM224.2 280.9h3.6l-1.8 -3.2zM224.5 287.7h3.6l-1.8 -3.2zM224.6 276.6h3.6l-1.8 -3.2zM224.7 283.2h3.6l-1.8 -3.2zM224.7 281.5h3.6l-1.8 -3.2zM224.8 279.8h3.6l-1.8 -3.2zM225.0 283.7h3.6l-1.8 -3.2zM225.0 283.6h3.6l-1.8 -3.2zM225.1 285.0h3.6l-1.8 -3.2zM225.1 278.7h3.6l-1.8 -3.2zM225.3 285.9h3.6l-1.8 -3.2zM225.6 278.1h3.6l-1.8 -3.2zM225.6 278.8h3.6l-1.8 -3.2zM225.6 280.8h3.6l-1.8 -3.2zM225.5 286.7h3.6l-1.8 -3.2zM225.5 280.3h3.6l-1.8 -3.2zM225.8 277.2h3.6l-1.8 -3.2zM226.2 279.6h3.6l-1.8 -3.2zM226.1 281.1h3.6l-1.8 -3.2zM226.4 280.5h3.6l-1.8 -3.2zM226.3 281.5h3.6l-1.8 -3.2zM226.1 287.2h3.6l-1.8 -3.2zM226.4 284.9h3.6l-1.8 -3.2zM226.6 275.0h3.6l-1.8 -3.2zM226.5 283.8h3.6l-1.8 -3.2zM226.5 284.5h3.6l-1.8 -3.2zM226.7 279.0h3.6l-1.8 -3.2zM226.8 283.5h3.6l-1.8 -3.2zM226.8 284.2h3.6l-1.8 -3.2zM226.9 279.3h3.6l-1.8 -3.2zM227.0 281.9h3.6l-1.8 -3.2zM227.2 281.4h3.6l-1.8 -3.2zM227.5 286.9h3.6l-1.8 -3.2zM227.7 286.1h3.6l-1.8 -3.2zM227.6 281.6h3.6l-1.8 -3.2zM227.9 279.3h3.6l-1.8 -3.2zM228.0 284.1h3.6l-1.8 -3.2zM227.8 288.2h3.6l-1.8 -3.2zM228.1 279.2h3.6l-1.8 -3.2zM227.9 279.4h3.6l-1.8 -3.2zM228.1 281.1h3.6l-1.8 -3.2zM228.1 287.9h3.6l-1.8 -3.2zM228.3 284.1h3.6l-1.8 -3.2zM228.2 280.9h3.6l-1.8 -3.2zM228.3 276.9h3.6l-1.8 -3.2zM228.3 278.4h3.6l-1.8 -3.2zM228.8 287.7h3.6l-1.8 -3.2zM228.4 278.5h3.6l-1.8 -3.2zM228.9 278.5h3.6l-1.8 -3.2zM228.7 288.9h3.6l-1.8 -3.2zM229.2 282.7h3.6l-1.8 -3.2zM228.8 288.9h3.6l-1.8 -3.2zM229.2 286.2h3.6l-1.8 -3.2zM229.1 284.5h3.6l-1.8 -3.2zM229.4 282.1h3.6l-1.8 -3.2zM229.4 283.9h3.6l-1.8 -3.2zM229.4 282.5h3.6l-1.8 -3.2zM229.4 278.7h3.6l-1.8 -3.2zM229.4 286.3h3.6l-1.8 -3.2zM229.5 285.0h3.6l-1.8 -3.2zM229.6 272.1h3.6l-1.8 -3.2zM229.9 289.4h3.6l-1.8 -3.2zM229.9 282.4h3.6l-1.8 -3.2zM230.1 287.4h3.6l-1.8 -3.2zM229.8 286.5h3.6l-1.8 -3.2zM230.0 279.9h3.6l-1.8 -3.2zM230.4 284.6h3.6l-1.8 -3.2zM230.0 289.6h3.6l-1.8 -3.2zM230.6 289.6h3.6l-1.8 -3.2zM230.5 286.8h3.6l-1.8 -3.2zM230.6 283.4h3.6l-1.8 -3.2zM230.5 284.6h3.6l-1.8 -3.2zM230.6 279.5h3.6l-1.8 -3.2zM230.8 285.6h3.6l-1.8 -3.2zM230.8 283.9h3.6l-1.8 -3.2zM230.9 287.8h3.6l-1.8 -3.2zM231.0 283.9h3.6l-1.8 -3.2zM231.1 279.1h3.6l-1.8 -3.2zM231.1 281.4h3.6l-1.8 -3.2zM231.1 286.6h3.6l-1.8 -3.2zM231.6 285.8h3.6l-1.8 -3.2zM231.4 288.3h3.6l-1.8 -3.2zM231.2 287.3h3.6l-1.8 -3.2zM231.8 281.2h3.6l-1.8 -3.2zM231.8 283.2h3.6l-1.8 -3.2zM231.9 287.8h3.6l-1.8 -3.2zM231.8 282.6h3.6l-1.8 -3.2zM231.8 289.9h3.6l-1.8 -3.2zM232.1 290.6h3.6l-1.8 -3.2zM232.2 285.1h3.6l-1.8 -3.2zM232.1 284.9h3.6l-1.8 -3.2zM232.1 283.6h3.6l-1.8 -3.2zM232.5 284.2h3.6l-1.8 -3.2zM232.5 284.6h3.6l-1.8 -3.2zM232.7 285.6h3.6l-1.8 -3.2zM232.4 278.6h3.6l-1.8 -3.2zM232.7 286.7h3.6l-1.8 -3.2zM232.8 281.8h3.6l-1.8 -3.2zM232.8 288.8h3.6l-1.8 -3.2zM232.7 284.8h3.6l-1.8 -3.2zM232.9 278.1h3.6l-1.8 -3.2zM233.0 284.1h3.6l-1.8 -3.2zM233.0 286.4h3.6l-1.8 -3.2zM233.2 286.7h3.6l-1.8 -3.2zM233.3 303.0h3.6l-1.8 -3.2zM233.3 288.1h3.6l-1.8 -3.2zM233.3 281.2h3.6l-1.8 -3.2zM233.4 291.2h3.6l-1.8 -3.2zM233.5 283.1h3.6l-1.8 -3.2zM233.6 283.3h3.6l-1.8 -3.2zM233.6 284.8h3.6l-1.8 -3.2zM233.6 286.2h3.6l-1.8 -3.2zM233.6 287.7h3.6l-1.8 -3.2zM233.9 284.6h3.6l-1.8 -3.2zM234.0 290.3h3.6l-1.8 -3.2zM234.0 284.1h3.6l-1.8 -3.2zM234.0 291.5h3.6l-1.8 -3.2zM234.2 288.6h3.6l-1.8 -3.2zM234.2 291.9h3.6l-1.8 -3.2zM234.5 287.5h3.6l-1.8 -3.2zM234.4 280.6h3.6l-1.8 -3.2zM234.5 289.0h3.6l-1.8 -3.2zM234.5 280.7h3.6l-1.8 -3.2zM234.6 285.4h3.6l-1.8 -3.2zM234.3 284.5h3.6l-1.8 -3.2zM234.9 285.5h3.6l-1.8 -3.2zM234.8 288.6h3.6l-1.8 -3.2zM234.8 288.1h3.6l-1.8 -3.2zM235.3 288.3h3.6l-1.8 -3.2zM235.1 284.3h3.6l-1.8 -3.2zM235.1 284.9h3.6l-1.8 -3.2zM235.4 291.7h3.6l-1.8 -3.2zM235.2 290.0h3.6l-1.8 -3.2zM235.2 288.1h3.6l-1.8 -3.2zM235.2 285.7h3.6l-1.8 -3.2zM235.3 283.4h3.6l-1.8 -3.2zM235.8 286.2h3.6l-1.8 -3.2zM235.8 291.6h3.6l-1.8 -3.2zM235.9 288.1h3.6l-1.8 -3.2zM235.9 289.0h3.6l-1.8 -3.2zM235.9 281.3h3.6l-1.8 -3.2zM236.2 283.3h3.6l-1.8 -3.2zM236.0 289.9h3.6l-1.8 -3.2zM236.1 289.9h3.6l-1.8 -3.2zM236.3 288.3h3.6l-1.8 -3.2zM236.5 290.3h3.6l-1.8 -3.2zM236.4 292.6h3.6l-1.8 -3.2zM236.4 288.9h3.6l-1.8 -3.2zM236.6 290.3h3.6l-1.8 -3.2zM236.7 284.3h3.6l-1.8 -3.2zM236.9 283.8h3.6l-1.8 -3.2zM236.9 287.7h3.6l-1.8 -3.2zM236.9 289.7h3.6l-1.8 -3.2zM236.7 295.3h3.6l-1.8 -3.2zM236.9 289.0h3.6l-1.8 -3.2zM237.0 287.3h3.6l-1.8 -3.2zM237.1 289.5h3.6l-1.8 -3.2zM237.0 285.6h3.6l-1.8 -3.2zM237.4 286.3h3.6l-1.8 -3.2zM237.4 291.1h3.6l-1.8 -3.2zM237.4 285.2h3.6l-1.8 -3.2zM237.6 285.8h3.6l-1.8 -3.2zM237.8 285.4h3.6l-1.8 -3.2zM237.7 289.9h3.6l-1.8 -3.2zM237.8 286.8h3.6l-1.8 -3.2zM237.6 283.5h3.6l-1.8 -3.2zM237.9 284.9h3.6l-1.8 -3.2zM238.2 289.4h3.6l-1.8 -3.2zM238.0 292.5h3.6l-1.8 -3.2zM237.8 285.4h3.6l-1.8 -3.2zM238.2 287.8h3.6l-1.8 -3.2zM238.2 286.9h3.6l-1.8 -3.2zM238.3 282.1h3.6l-1.8 -3.2zM238.7 290.3h3.6l-1.8 -3.2zM238.4 286.9h3.6l-1.8 -3.2zM238.4 285.2h3.6l-1.8 -3.2zM238.5 282.9h3.6l-1.8 -3.2zM238.6 286.5h3.6l-1.8 -3.2zM238.7 291.0h3.6l-1.8 -3.2zM239.1 290.6h3.6l-1.8 -3.2zM238.9 285.4h3.6l-1.8 -3.2zM238.7 289.6h3.6l-1.8 -3.2zM239.2 284.6h3.6l-1.8 -3.2zM239.4 286.3h3.6l-1.8 -3.2zM239.3 286.5h3.6l-1.8 -3.2zM239.3 285.8h3.6l-1.8 -3.2zM239.2 293.8h3.6l-1.8 -3.2zM239.4 285.9h3.6l-1.8 -3.2zM239.9 281.7h3.6l-1.8 -3.2zM239.6 289.6h3.6l-1.8 -3.2zM239.7 288.1h3.6l-1.8 -3.2zM239.5 288.7h3.6l-1.8 -3.2zM239.7 290.7h3.6l-1.8 -3.2zM239.8 281.8h3.6l-1.8 -3.2zM240.1 289.2h3.6l-1.8 -3.2zM239.9 285.2h3.6l-1.8 -3.2zM240.0 285.7h3.6l-1.8 -3.2zM240.2 286.7h3.6l-1.8 -3.2zM240.2 285.7h3.6l-1.8 -3.2zM240.4 288.9h3.6l-1.8 -3.2zM240.5 287.1h3.6l-1.8 -3.2zM240.4 294.7h3.6l-1.8 -3.2zM240.7 294.4h3.6l-1.8 -3.2zM240.8 286.5h3.6l-1.8 -3.2zM240.6 289.6h3.6l-1.8 -3.2zM240.6 285.5h3.6l-1.8 -3.2zM240.8 282.4h3.6l-1.8 -3.2zM240.8 286.4h3.6l-1.8 -3.2zM240.6 288.6h3.6l-1.8 -3.2zM241.2 287.5h3.6l-1.8 -3.2zM241.1 292.8h3.6l-1.8 -3.2zM241.3 287.4h3.6l-1.8 -3.2zM241.3 289.1h3.6l-1.8 -3.2zM241.5 286.0h3.6l-1.8 -3.2zM241.5 289.7h3.6l-1.8 -3.2zM241.5 282.0h3.6l-1.8 -3.2zM241.5 287.1h3.6l-1.8 -3.2zM241.6 289.4h3.6l-1.8 -3.2zM241.7 293.1h3.6l-1.8 -3.2zM242.1 290.6h3.6l-1.8 -3.2zM241.8 291.5h3.6l-1.8 -3.2zM242.1 282.8h3.6l-1.8 -3.2zM241.9 283.5h3.6l-1.8 -3.2zM242.1 291.4h3.6l-1.8 -3.2zM242.0 282.1h3.6l-1.8 -3.2zM242.0 287.2h3.6l-1.8 -3.2zM242.5 287.6h3.6l-1.8 -3.2zM242.5 285.4h3.6l-1.8 -3.2zM242.7 286.7h3.6l-1.8 -3.2zM242.4 285.8h3.6l-1.8 -3.2zM242.9 291.2h3.6l-1.8 -3.2zM242.8 289.7h3.6l-1.8 -3.2zM243.0 290.2h3.6l-1.8 -3.2zM242.7 286.3h3.6l-1.8 -3.2zM243.1 287.4h3.6l-1.8 -3.2zM243.0 289.5h3.6l-1.8 -3.2zM243.2 289.2h3.6l-1.8 -3.2zM243.0 292.2h3.6l-1.8 -3.2zM243.2 292.3h3.6l-1.8 -3.2zM243.2 290.5h3.6l-1.8 -3.2zM243.3 283.2h3.6l-1.8 -3.2zM243.6 292.1h3.6l-1.8 -3.2zM243.6 288.4h3.6l-1.8 -3.2zM243.6 286.3h3.6l-1.8 -3.2zM244.0 288.9h3.6l-1.8 -3.2zM243.7 290.6h3.6l-1.8 -3.2zM243.7 293.2h3.6l-1.8 -3.2zM244.0 290.9h3.6l-1.8 -3.2zM243.7 288.7h3.6l-1.8 -3.2zM243.8 286.1h3.6l-1.8 -3.2zM244.2 287.0h3.6l-1.8 -3.2zM244.5 291.0h3.6l-1.8 -3.2zM244.4 289.8h3.6l-1.8 -3.2zM244.5 284.2h3.6l-1.8 -3.2zM244.2 299.0h3.6l-1.8 -3.2zM244.5 287.3h3.6l-1.8 -3.2zM245.0 286.6h3.6l-1.8 -3.2zM245.0 283.3h3.6l-1.8 -3.2zM244.8 285.1h3.6l-1.8 -3.2zM244.9 292.1h3.6l-1.8 -3.2zM244.8 287.7h3.6l-1.8 -3.2zM244.9 291.0h3.6l-1.8 -3.2zM245.1 283.8h3.6l-1.8 -3.2zM245.2 293.1h3.6l-1.8 -3.2zM245.4 294.2h3.6l-1.8 -3.2zM245.3 297.1h3.6l-1.8 -3.2zM245.1 297.1h3.6l-1.8 -3.2zM245.5 286.4h3.6l-1.8 -3.2zM245.4 292.3h3.6l-1.8 -3.2zM245.6 295.0h3.6l-1.8 -3.2zM245.5 289.3h3.6l-1.8 -3.2zM245.9 289.1h3.6l-1.8 -3.2zM245.8 287.7h3.6l-1.8 -3.2zM245.8 291.1h3.6l-1.8 -3.2zM245.9 290.2h3.6l-1.8 -3.2zM246.0 293.4h3.6l-1.8 -3.2zM246.1 293.8h3.6l-1.8 -3.2zM246.5 287.1h3.6l-1.8 -3.2zM246.2 289.0h3.6l-1.8 -3.2zM246.3 290.9h3.6l-1.8 -3.2zM246.5 288.7h3.6l-1.8 -3.2zM246.7 297.7h3.6l-1.8 -3.2zM246.5 284.9h3.6l-1.8 -3.2zM246.6 297.1h3.6l-1.8 -3.2zM246.6 285.9h3.6l-1.8 -3.2zM247.0 288.6h3.6l-1.8 -3.2zM246.5 290.3h3.6l-1.8 -3.2zM247.0 286.0h3.6l-1.8 -3.2zM247.2 286.3h3.6l-1.8 -3.2zM247.0 292.6h3.6l-1.8 -3.2zM247.1 288.2h3.6l-1.8 -3.2zM247.3 296.8h3.6l-1.8 -3.2zM247.4 286.7h3.6l-1.8 -3.2zM247.4 291.3h3.6l-1.8 -3.2zM247.7 286.5h3.6l-1.8 -3.2zM247.5 293.7h3.6l-1.8 -3.2zM247.6 283.9h3.6l-1.8 -3.2zM247.5 294.4h3.6l-1.8 -3.2zM247.7 284.0h3.6l-1.8 -3.2zM247.9 295.4h3.6l-1.8 -3.2zM247.7 289.3h3.6l-1.8 -3.2zM248.0 289.0h3.6l-1.8 -3.2zM248.1 293.2h3.6l-1.8 -3.2zM248.1 287.4h3.6l-1.8 -3.2zM248.3 294.2h3.6l-1.8 -3.2zM248.3 285.4h3.6l-1.8 -3.2zM248.2 292.8h3.6l-1.8 -3.2zM248.4 291.6h3.6l-1.8 -3.2zM248.5 294.9h3.6l-1.8 -3.2zM248.6 289.1h3.6l-1.8 -3.2zM249.0 298.8h3.6l-1.8 -3.2zM248.5 294.0h3.6l-1.8 -3.2zM249.1 286.3h3.6l-1.8 -3.2zM248.9 287.3h3.6l-1.8 -3.2zM248.9 292.2h3.6l-1.8 -3.2zM249.0 293.1h3.6l-1.8 -3.2zM249.1 290.8h3.6l-1.8 -3.2zM249.1 290.7h3.6l-1.8 -3.2zM249.6 295.2h3.6l-1.8 -3.2zM249.6 288.2h3.6l-1.8 -3.2zM249.5 288.0h3.6l-1.8 -3.2zM249.5 293.1h3.6l-1.8 -3.2zM249.4 289.9h3.6l-1.8 -3.2zM249.6 287.3h3.6l-1.8 -3.2zM249.6 286.8h3.6l-1.8 -3.2zM249.8 291.5h3.6l-1.8 -3.2zM249.8 299.3h3.6l-1.8 -3.2zM250.1 295.3h3.6l-1.8 -3.2zM249.7 290.4h3.6l-1.8 -3.2zM250.1 291.3h3.6l-1.8 -3.2zM250.2 292.7h3.6l-1.8 -3.2zM250.4 290.6h3.6l-1.8 -3.2zM250.2 291.3h3.6l-1.8 -3.2zM250.5 291.4h3.6l-1.8 -3.2zM250.6 284.5h3.6l-1.8 -3.2zM250.5 294.7h3.6l-1.8 -3.2zM250.9 294.5h3.6l-1.8 -3.2zM250.8 289.0h3.6l-1.8 -3.2zM250.7 297.7h3.6l-1.8 -3.2zM250.5 291.3h3.6l-1.8 -3.2zM250.9 289.7h3.6l-1.8 -3.2zM250.9 286.4h3.6l-1.8 -3.2zM251.1 292.0h3.6l-1.8 -3.2zM251.3 294.2h3.6l-1.8 -3.2zM251.0 284.8h3.6l-1.8 -3.2zM251.4 288.4h3.6l-1.8 -3.2zM251.3 288.3h3.6l-1.8 -3.2zM251.3 296.9h3.6l-1.8 -3.2zM251.5 295.7h3.6l-1.8 -3.2zM251.4 304.2h3.6l-1.8 -3.2zM251.6 299.9h3.6l-1.8 -3.2zM251.4 288.1h3.6l-1.8 -3.2zM251.6 292.0h3.6l-1.8 -3.2zM251.9 291.7h3.6l-1.8 -3.2zM252.1 289.1h3.6l-1.8 -3.2zM252.2 295.6h3.6l-1.8 -3.2zM251.9 301.6h3.6l-1.8 -3.2zM252.1 297.8h3.6l-1.8 -3.2zM252.6 289.9h3.6l-1.8 -3.2zM252.3 292.7h3.6l-1.8 -3.2zM252.4 291.0h3.6l-1.8 -3.2zM252.4 293.7h3.6l-1.8 -3.2zM252.4 294.8h3.6l-1.8 -3.2zM252.7 299.2h3.6l-1.8 -3.2zM252.8 289.5h3.6l-1.8 -3.2zM252.8 296.4h3.6l-1.8 -3.2zM253.0 288.9h3.6l-1.8 -3.2zM253.0 289.1h3.6l-1.8 -3.2zM253.0 296.6h3.6l-1.8 -3.2zM253.1 294.0h3.6l-1.8 -3.2zM253.0 290.5h3.6l-1.8 -3.2zM253.5 291.8h3.6l-1.8 -3.2zM253.4 291.0h3.6l-1.8 -3.2zM253.1 289.5h3.6l-1.8 -3.2zM253.2 289.8h3.6l-1.8 -3.2zM253.6 291.4h3.6l-1.8 -3.2zM253.7 300.6h3.6l-1.8 -3.2zM253.9 288.3h3.6l-1.8 -3.2zM253.7 289.8h3.6l-1.8 -3.2zM253.8 292.7h3.6l-1.8 -3.2zM254.1 285.7h3.6l-1.8 -3.2zM254.0 290.6h3.6l-1.8 -3.2zM254.0 295.6h3.6l-1.8 -3.2zM254.0 294.5h3.6l-1.8 -3.2zM254.4 290.8h3.6l-1.8 -3.2zM254.4 294.8h3.6l-1.8 -3.2zM254.4 300.8h3.6l-1.8 -3.2zM254.6 295.9h3.6l-1.8 -3.2zM254.5 290.5h3.6l-1.8 -3.2zM254.5 290.8h3.6l-1.8 -3.2zM254.6 299.5h3.6l-1.8 -3.2zM254.7 295.4h3.6l-1.8 -3.2zM254.7 286.0h3.6l-1.8 -3.2zM254.8 294.0h3.6l-1.8 -3.2zM254.7 288.2h3.6l-1.8 -3.2zM254.9 287.2h3.6l-1.8 -3.2zM255.0 292.6h3.6l-1.8 -3.2zM254.9 292.5h3.6l-1.8 -3.2zM255.3 301.1h3.6l-1.8 -3.2zM255.3 294.5h3.6l-1.8 -3.2zM255.4 287.7h3.6l-1.8 -3.2zM255.5 297.2h3.6l-1.8 -3.2zM255.0 294.1h3.6l-1.8 -3.2zM255.5 295.0h3.6l-1.8 -3.2zM255.6 286.3h3.6l-1.8 -3.2zM255.7 298.1h3.6l-1.8 -3.2zM255.8 299.8h3.6l-1.8 -3.2zM256.1 290.6h3.6l-1.8 -3.2zM255.9 301.4h3.6l-1.8 -3.2zM256.0 296.4h3.6l-1.8 -3.2zM256.2 286.5h3.6l-1.8 -3.2zM256.2 293.7h3.6l-1.8 -3.2zM255.9 290.6h3.6l-1.8 -3.2zM256.4 293.8h3.6l-1.8 -3.2zM256.4 290.1h3.6l-1.8 -3.2zM256.6 291.5h3.6l-1.8 -3.2zM256.7 295.8h3.6l-1.8 -3.2zM256.6 290.9h3.6l-1.8 -3.2zM256.6 286.7h3.6l-1.8 -3.2zM256.8 292.2h3.6l-1.8 -3.2zM256.8 290.4h3.6l-1.8 -3.2zM257.2 285.5h3.6l-1.8 -3.2zM257.2 299.3h3.6l-1.8 -3.2zM257.2 301.1h3.6l-1.8 -3.2zM257.3 291.4h3.6l-1.8 -3.2zM257.4 294.8h3.6l-1.8 -3.2zM257.3 295.3h3.6l-1.8 -3.2zM257.4 296.6h3.6l-1.8 -3.2zM257.4 290.7h3.6l-1.8 -3.2zM257.3 294.3h3.6l-1.8 -3.2zM257.6 290.7h3.6l-1.8 -3.2zM258.1 297.6h3.6l-1.8 -3.2zM257.9 294.5h3.6l-1.8 -3.2zM257.8 289.5h3.6l-1.8 -3.2zM258.0 298.6h3.6l-1.8 -3.2zM258.2 296.9h3.6l-1.8 -3.2zM258.2 291.0h3.6l-1.8 -3.2zM258.3 297.2h3.6l-1.8 -3.2zM258.4 295.1h3.6l-1.8 -3.2zM258.5 294.5h3.6l-1.8 -3.2zM258.2 292.8h3.6l-1.8 -3.2zM258.5 301.6h3.6l-1.8 -3.2zM258.5 295.7h3.6l-1.8 -3.2zM258.8 295.9h3.6l-1.8 -3.2zM258.4 301.4h3.6l-1.8 -3.2zM258.7 287.9h3.6l-1.8 -3.2zM259.2 290.6h3.6l-1.8 -3.2zM259.2 302.3h3.6l-1.8 -3.2zM259.0 293.6h3.6l-1.8 -3.2zM259.3 296.6h3.6l-1.8 -3.2zM259.1 291.4h3.6l-1.8 -3.2zM259.5 293.4h3.6l-1.8 -3.2zM259.5 297.2h3.6l-1.8 -3.2zM259.5 292.7h3.6l-1.8 -3.2zM259.6 297.5h3.6l-1.8 -3.2zM259.4 302.6h3.6l-1.8 -3.2zM259.7 300.2h3.6l-1.8 -3.2zM259.8 292.4h3.6l-1.8 -3.2zM259.7 302.1h3.6l-1.8 -3.2zM259.9 287.7h3.6l-1.8 -3.2zM260.0 297.2h3.6l-1.8 -3.2zM259.9 295.3h3.6l-1.8 -3.2zM260.1 295.1h3.6l-1.8 -3.2zM260.2 296.9h3.6l-1.8 -3.2zM260.2 296.4h3.6l-1.8 -3.2zM260.3 298.0h3.6l-1.8 -3.2zM260.2 299.1h3.6l-1.8 -3.2zM260.5 293.8h3.6l-1.8 -3.2zM260.8 302.9h3.6l-1.8 -3.2zM260.5 296.2h3.6l-1.8 -3.2zM260.8 288.1h3.6l-1.8 -3.2zM260.6 292.4h3.6l-1.8 -3.2zM260.9 294.7h3.6l-1.8 -3.2zM260.8 299.3h3.6l-1.8 -3.2zM260.9 316.3h3.6l-1.8 -3.2zM261.0 288.1h3.6l-1.8 -3.2zM261.3 296.5h3.6l-1.8 -3.2zM260.9 291.7h3.6l-1.8 -3.2zM261.1 297.9h3.6l-1.8 -3.2zM261.2 297.3h3.6l-1.8 -3.2zM261.7 292.3h3.6l-1.8 -3.2zM261.4 293.3h3.6l-1.8 -3.2zM261.4 296.9h3.6l-1.8 -3.2zM261.4 295.3h3.6l-1.8 -3.2zM261.5 297.4h3.6l-1.8 -3.2zM261.8 294.9h3.6l-1.8 -3.2zM261.8 301.1h3.6l-1.8 -3.2zM261.9 302.4h3.6l-1.8 -3.2zM261.9 301.6h3.6l-1.8 -3.2zM262.2 297.2h3.6l-1.8 -3.2zM262.3 302.3h3.6l-1.8 -3.2zM262.5 293.5h3.6l-1.8 -3.2zM262.0 301.6h3.6l-1.8 -3.2zM262.3 296.8h3.6l-1.8 -3.2zM262.3 298.8h3.6l-1.8 -3.2zM262.8 296.1h3.6l-1.8 -3.2zM262.7 295.4h3.6l-1.8 -3.2zM262.6 298.1h3.6l-1.8 -3.2zM262.9 300.2h3.6l-1.8 -3.2zM263.0 300.1h3.6l-1.8 -3.2zM262.9 292.7h3.6l-1.8 -3.2zM262.7 299.8h3.6l-1.8 -3.2zM262.8 298.4h3.6l-1.8 -3.2zM262.9 298.4h3.6l-1.8 -3.2zM263.1 300.1h3.6l-1.8 -3.2zM263.2 292.4h3.6l-1.8 -3.2zM263.2 299.1h3.6l-1.8 -3.2zM263.3 293.9h3.6l-1.8 -3.2zM263.3 301.9h3.6l-1.8 -3.2zM263.7 298.2h3.6l-1.8 -3.2zM263.8 295.8h3.6l-1.8 -3.2zM263.7 296.0h3.6l-1.8 -3.2zM263.9 294.2h3.6l-1.8 -3.2zM264.1 294.3h3.6l-1.8 -3.2zM264.3 294.6h3.6l-1.8 -3.2zM264.0 299.4h3.6l-1.8 -3.2zM264.0 298.3h3.6l-1.8 -3.2zM264.4 292.4h3.6l-1.8 -3.2zM264.2 297.7h3.6l-1.8 -3.2zM264.3 292.5h3.6l-1.8 -3.2zM264.4 298.4h3.6l-1.8 -3.2zM264.5 302.5h3.6l-1.8 -3.2zM264.5 295.1h3.6l-1.8 -3.2zM264.7 295.2h3.6l-1.8 -3.2zM264.5 295.2h3.6l-1.8 -3.2zM264.7 294.0h3.6l-1.8 -3.2zM265.1 304.4h3.6l-1.8 -3.2zM264.8 303.7h3.6l-1.8 -3.2zM265.0 300.4h3.6l-1.8 -3.2zM264.9 299.4h3.6l-1.8 -3.2zM265.2 299.0h3.6l-1.8 -3.2zM265.1 301.9h3.6l-1.8 -3.2zM265.3 295.7h3.6l-1.8 -3.2zM265.4 300.1h3.6l-1.8 -3.2zM265.3 302.9h3.6l-1.8 -3.2zM265.6 294.3h3.6l-1.8 -3.2zM265.5 299.3h3.6l-1.8 -3.2zM265.9 293.6h3.6l-1.8 -3.2zM265.9 294.7h3.6l-1.8 -3.2zM266.1 304.7h3.6l-1.8 -3.2zM266.0 302.4h3.6l-1.8 -3.2zM266.1 293.6h3.6l-1.8 -3.2zM266.1 304.3h3.6l-1.8 -3.2zM266.1 302.9h3.6l-1.8 -3.2zM266.3 304.9h3.6l-1.8 -3.2zM266.2 296.9h3.6l-1.8 -3.2zM266.7 296.0h3.6l-1.8 -3.2zM266.4 303.7h3.6l-1.8 -3.2zM266.5 300.2h3.6l-1.8 -3.2zM266.4 291.2h3.6l-1.8 -3.2zM266.7 305.0h3.6l-1.8 -3.2zM266.8 300.7h3.6l-1.8 -3.2zM266.5 298.7h3.6l-1.8 -3.2zM266.7 292.0h3.6l-1.8 -3.2zM266.9 293.2h3.6l-1.8 -3.2zM266.9 302.7h3.6l-1.8 -3.2zM267.1 296.7h3.6l-1.8 -3.2zM267.1 305.2h3.6l-1.8 -3.2zM267.5 298.8h3.6l-1.8 -3.2zM267.4 298.9h3.6l-1.8 -3.2zM267.4 295.1h3.6l-1.8 -3.2zM267.4 290.3h3.6l-1.8 -3.2zM267.6 298.4h3.6l-1.8 -3.2zM267.8 304.1h3.6l-1.8 -3.2zM267.7 303.1h3.6l-1.8 -3.2zM267.6 296.8h3.6l-1.8 -3.2zM267.6 296.8h3.6l-1.8 -3.2zM267.8 304.3h3.6l-1.8 -3.2zM268.2 281.7h3.6l-1.8 -3.2zM268.2 294.4h3.6l-1.8 -3.2zM268.1 305.5h3.6l-1.8 -3.2zM268.4 297.5h3.6l-1.8 -3.2zM268.3 304.1h3.6l-1.8 -3.2zM268.4 299.1h3.6l-1.8 -3.2zM268.4 295.8h3.6l-1.8 -3.2zM268.7 298.0h3.6l-1.8 -3.2zM268.5 303.0h3.6l-1.8 -3.2zM268.5 290.7h3.6l-1.8 -3.2zM269.0 302.1h3.6l-1.8 -3.2zM268.8 303.7h3.6l-1.8 -3.2zM269.0 303.3h3.6l-1.8 -3.2zM269.0 300.2h3.6l-1.8 -3.2zM269.0 293.5h3.6l-1.8 -3.2zM269.0 300.9h3.6l-1.8 -3.2zM269.2 305.0h3.6l-1.8 -3.2zM269.0 292.9h3.6l-1.8 -3.2zM269.3 297.8h3.6l-1.8 -3.2zM269.1 302.3h3.6l-1.8 -3.2zM269.5 304.9h3.6l-1.8 -3.2zM269.4 291.0h3.6l-1.8 -3.2zM269.6 301.4h3.6l-1.8 -3.2zM269.6 299.0h3.6l-1.8 -3.2zM269.9 293.2h3.6l-1.8 -3.2zM269.8 296.7h3.6l-1.8 -3.2zM270.0 299.0h3.6l-1.8 -3.2zM270.1 294.6h3.6l-1.8 -3.2zM270.3 296.5h3.6l-1.8 -3.2zM270.3 303.1h3.6l-1.8 -3.2zM270.2 304.0h3.6l-1.8 -3.2zM270.4 304.6h3.6l-1.8 -3.2zM270.4 303.5h3.6l-1.8 -3.2zM270.5 299.1h3.6l-1.8 -3.2zM270.8 303.2h3.6l-1.8 -3.2zM270.5 301.2h3.6l-1.8 -3.2zM270.7 291.5h3.6l-1.8 -3.2zM270.6 300.0h3.6l-1.8 -3.2zM270.6 292.0h3.6l-1.8 -3.2zM271.1 296.3h3.6l-1.8 -3.2zM271.2 301.7h3.6l-1.8 -3.2zM270.9 291.6h3.6l-1.8 -3.2zM271.1 306.5h3.6l-1.8 -3.2zM271.2 291.6h3.6l-1.8 -3.2zM271.3 296.4h3.6l-1.8 -3.2zM271.2 296.0h3.6l-1.8 -3.2zM271.5 294.3h3.6l-1.8 -3.2zM271.7 299.4h3.6l-1.8 -3.2zM271.7 302.3h3.6l-1.8 -3.2zM271.8 294.8h3.6l-1.8 -3.2zM271.6 297.7h3.6l-1.8 -3.2zM271.8 294.4h3.6l-1.8 -3.2zM272.1 292.0h3.6l-1.8 -3.2zM271.7 306.4h3.6l-1.8 -3.2zM272.2 300.1h3.6l-1.8 -3.2zM271.9 298.5h3.6l-1.8 -3.2zM272.0 291.9h3.6l-1.8 -3.2zM272.3 301.5h3.6l-1.8 -3.2zM272.6 296.5h3.6l-1.8 -3.2zM272.3 292.0h3.6l-1.8 -3.2zM272.6 307.8h3.6l-1.8 -3.2zM272.7 294.0h3.6l-1.8 -3.2zM272.7 298.3h3.6l-1.8 -3.2zM272.7 301.3h3.6l-1.8 -3.2zM272.8 304.9h3.6l-1.8 -3.2zM273.0 292.9h3.6l-1.8 -3.2zM273.0 293.3h3.6l-1.8 -3.2zM273.1 300.9h3.6l-1.8 -3.2zM273.1 299.5h3.6l-1.8 -3.2zM273.0 290.0h3.6l-1.8 -3.2zM273.0 296.9h3.6l-1.8 -3.2zM273.3 296.0h3.6l-1.8 -3.2zM273.1 296.1h3.6l-1.8 -3.2zM273.3 299.0h3.6l-1.8 -3.2zM273.6 306.8h3.6l-1.8 -3.2zM273.7 296.8h3.6l-1.8 -3.2zM273.5 292.7h3.6l-1.8 -3.2zM273.9 302.2h3.6l-1.8 -3.2zM273.8 298.8h3.6l-1.8 -3.2zM273.8 293.4h3.6l-1.8 -3.2zM274.0 293.4h3.6l-1.8 -3.2zM274.1 307.2h3.6l-1.8 -3.2zM274.2 300.3h3.6l-1.8 -3.2zM274.2 307.1h3.6l-1.8 -3.2zM274.2 300.1h3.6l-1.8 -3.2zM274.7 292.8h3.6l-1.8 -3.2zM274.7 300.3h3.6l-1.8 -3.2zM274.7 305.4h3.6l-1.8 -3.2zM274.7 300.2h3.6l-1.8 -3.2zM275.1 298.7h3.6l-1.8 -3.2zM274.7 292.8h3.6l-1.8 -3.2zM275.2 306.1h3.6l-1.8 -3.2zM274.8 299.4h3.6l-1.8 -3.2zM275.3 296.6h3.6l-1.8 -3.2zM275.1 315.8h3.6l-1.8 -3.2zM275.2 299.2h3.6l-1.8 -3.2zM275.2 299.0h3.6l-1.8 -3.2zM275.6 295.6h3.6l-1.8 -3.2zM275.1 297.8h3.6l-1.8 -3.2zM275.4 295.8h3.6l-1.8 -3.2zM275.5 303.0h3.6l-1.8 -3.2zM275.6 307.2h3.6l-1.8 -3.2zM275.6 300.0h3.6l-1.8 -3.2zM275.7 298.8h3.6l-1.8 -3.2zM275.6 306.5h3.6l-1.8 -3.2zM275.9 298.3h3.6l-1.8 -3.2zM275.7 301.2h3.6l-1.8 -3.2zM275.9 298.3h3.6l-1.8 -3.2zM276.1 294.2h3.6l-1.8 -3.2zM276.2 298.2h3.6l-1.8 -3.2zM276.3 296.6h3.6l-1.8 -3.2zM276.2 297.3h3.6l-1.8 -3.2zM276.4 297.8h3.6l-1.8 -3.2zM276.5 308.1h3.6l-1.8 -3.2zM276.5 305.6h3.6l-1.8 -3.2zM276.6 296.9h3.6l-1.8 -3.2zM276.6 307.1h3.6l-1.8 -3.2zM276.9 301.7h3.6l-1.8 -3.2zM276.8 299.8h3.6l-1.8 -3.2zM276.9 308.2h3.6l-1.8 -3.2zM277.0 293.3h3.6l-1.8 -3.2zM276.9 306.2h3.6l-1.8 -3.2zM277.1 300.5h3.6l-1.8 -3.2zM277.0 299.4h3.6l-1.8 -3.2zM277.1 306.3h3.6l-1.8 -3.2zM277.4 295.3h3.6l-1.8 -3.2zM277.2 295.0h3.6l-1.8 -3.2zM277.7 305.6h3.6l-1.8 -3.2zM277.9 299.1h3.6l-1.8 -3.2zM277.5 296.9h3.6l-1.8 -3.2zM277.7 304.5h3.6l-1.8 -3.2zM277.6 299.3h3.6l-1.8 -3.2zM278.0 300.5h3.6l-1.8 -3.2zM278.1 297.0h3.6l-1.8 -3.2zM277.9 300.4h3.6l-1.8 -3.2zM278.1 303.3h3.6l-1.8 -3.2zM278.0 303.8h3.6l-1.8 -3.2zM278.5 301.0h3.6l-1.8 -3.2zM278.3 306.3h3.6l-1.8 -3.2zM278.6 304.4h3.6l-1.8 -3.2zM278.5 305.2h3.6l-1.8 -3.2zM278.5 306.1h3.6l-1.8 -3.2zM278.7 305.8h3.6l-1.8 -3.2zM278.8 297.8h3.6l-1.8 -3.2zM278.8 303.6h3.6l-1.8 -3.2zM278.8 293.6h3.6l-1.8 -3.2zM279.0 297.3h3.6l-1.8 -3.2zM278.9 303.1h3.6l-1.8 -3.2zM279.0 302.5h3.6l-1.8 -3.2zM279.3 304.5h3.6l-1.8 -3.2zM279.1 302.5h3.6l-1.8 -3.2zM279.4 299.5h3.6l-1.8 -3.2zM279.6 301.1h3.6l-1.8 -3.2zM279.8 294.6h3.6l-1.8 -3.2zM279.6 308.6h3.6l-1.8 -3.2zM279.8 307.7h3.6l-1.8 -3.2zM279.8 298.7h3.6l-1.8 -3.2zM279.7 293.7h3.6l-1.8 -3.2zM280.1 304.3h3.6l-1.8 -3.2zM280.2 303.5h3.6l-1.8 -3.2zM279.9 306.6h3.6l-1.8 -3.2zM280.2 300.3h3.6l-1.8 -3.2zM279.9 297.5h3.6l-1.8 -3.2zM280.5 308.7h3.6l-1.8 -3.2zM280.4 298.1h3.6l-1.8 -3.2zM280.3 297.4h3.6l-1.8 -3.2zM280.3 308.8h3.6l-1.8 -3.2zM280.4 306.7h3.6l-1.8 -3.2zM280.4 299.0h3.6l-1.8 -3.2zM280.5 298.0h3.6l-1.8 -3.2zM280.8 299.4h3.6l-1.8 -3.2zM280.8 298.3h3.6l-1.8 -3.2zM280.9 307.6h3.6l-1.8 -3.2zM280.8 306.3h3.6l-1.8 -3.2zM281.2 304.0h3.6l-1.8 -3.2zM281.0 298.4h3.6l-1.8 -3.2zM281.2 308.9h3.6l-1.8 -3.2zM281.3 297.5h3.6l-1.8 -3.2zM281.6 301.9h3.6l-1.8 -3.2zM281.4 307.2h3.6l-1.8 -3.2zM281.2 302.9h3.6l-1.8 -3.2zM281.4 301.1h3.6l-1.8 -3.2zM281.8 304.7h3.6l-1.8 -3.2zM281.6 304.6h3.6l-1.8 -3.2zM281.6 297.7h3.6l-1.8 -3.2zM281.8 309.0h3.6l-1.8 -3.2zM282.0 304.6h3.6l-1.8 -3.2zM281.8 302.3h3.6l-1.8 -3.2zM282.2 300.6h3.6l-1.8 -3.2zM282.2 304.8h3.6l-1.8 -3.2zM282.1 307.9h3.6l-1.8 -3.2zM282.2 296.8h3.6l-1.8 -3.2zM282.3 303.2h3.6l-1.8 -3.2zM282.7 298.5h3.6l-1.8 -3.2zM282.5 296.9h3.6l-1.8 -3.2zM282.6 303.8h3.6l-1.8 -3.2zM282.5 296.7h3.6l-1.8 -3.2zM282.8 304.7h3.6l-1.8 -3.2zM282.9 299.2h3.6l-1.8 -3.2zM282.9 301.0h3.6l-1.8 -3.2zM282.9 300.4h3.6l-1.8 -3.2zM282.8 307.2h3.6l-1.8 -3.2zM283.2 303.7h3.6l-1.8 -3.2zM283.3 298.1h3.6l-1.8 -3.2zM283.3 305.4h3.6l-1.8 -3.2zM283.2 300.1h3.6l-1.8 -3.2zM283.4 300.9h3.6l-1.8 -3.2zM283.5 304.0h3.6l-1.8 -3.2zM283.8 304.7h3.6l-1.8 -3.2zM283.5 300.6h3.6l-1.8 -3.2zM283.6 296.7h3.6l-1.8 -3.2zM283.6 300.5h3.6l-1.8 -3.2zM283.9 303.9h3.6l-1.8 -3.2zM283.9 309.3h3.6l-1.8 -3.2zM284.2 306.7h3.6l-1.8 -3.2zM284.2 295.9h3.6l-1.8 -3.2zM283.9 303.8h3.6l-1.8 -3.2zM284.2 300.5h3.6l-1.8 -3.2zM284.3 309.4h3.6l-1.8 -3.2zM284.4 295.2h3.6l-1.8 -3.2zM284.7 294.5h3.6l-1.8 -3.2zM284.4 309.4h3.6l-1.8 -3.2zM284.8 302.3h3.6l-1.8 -3.2zM284.7 302.8h3.6l-1.8 -3.2zM284.8 302.2h3.6l-1.8 -3.2zM284.8 300.3h3.6l-1.8 -3.2zM284.8 305.0h3.6l-1.8 -3.2zM285.0 309.5h3.6l-1.8 -3.2zM285.3 294.6h3.6l-1.8 -3.2zM285.4 298.2h3.6l-1.8 -3.2zM285.2 289.9h3.6l-1.8 -3.2zM285.5 304.3h3.6l-1.8 -3.2zM285.5 297.0h3.6l-1.8 -3.2zM285.4 305.2h3.6l-1.8 -3.2zM285.6 301.6h3.6l-1.8 -3.2zM285.7 301.5h3.6l-1.8 -3.2zM285.7 305.4h3.6l-1.8 -3.2zM285.3 299.6h3.6l-1.8 -3.2zM286.1 305.0h3.6l-1.8 -3.2zM285.9 294.7h3.6l-1.8 -3.2zM286.2 300.6h3.6l-1.8 -3.2zM286.3 304.8h3.6l-1.8 -3.2zM286.3 300.6h3.6l-1.8 -3.2zM286.1 307.3h3.6l-1.8 -3.2zM286.4 294.8h3.6l-1.8 -3.2zM286.5 300.3h3.6l-1.8 -3.2zM286.3 299.7h3.6l-1.8 -3.2zM286.8 304.0h3.6l-1.8 -3.2zM286.6 304.7h3.6l-1.8 -3.2zM286.9 301.5h3.6l-1.8 -3.2zM286.7 297.8h3.6l-1.8 -3.2zM286.7 299.3h3.6l-1.8 -3.2zM287.0 304.5h3.6l-1.8 -3.2zM287.1 307.3h3.6l-1.8 -3.2zM287.1 302.3h3.6l-1.8 -3.2zM287.0 305.1h3.6l-1.8 -3.2zM287.4 304.1h3.6l-1.8 -3.2zM287.2 309.7h3.6l-1.8 -3.2zM287.4 307.6h3.6l-1.8 -3.2zM287.3 299.7h3.6l-1.8 -3.2zM287.6 309.6h3.6l-1.8 -3.2zM287.4 303.8h3.6l-1.8 -3.2zM287.6 309.6h3.6l-1.8 -3.2zM287.7 297.3h3.6l-1.8 -3.2zM287.7 298.8h3.6l-1.8 -3.2zM288.1 301.0h3.6l-1.8 -3.2zM287.9 305.4h3.6l-1.8 -3.2zM288.3 306.4h3.6l-1.8 -3.2zM288.1 305.6h3.6l-1.8 -3.2zM288.1 301.5h3.6l-1.8 -3.2zM288.3 298.1h3.6l-1.8 -3.2zM288.3 308.7h3.6l-1.8 -3.2zM288.3 299.3h3.6l-1.8 -3.2zM288.6 309.0h3.6l-1.8 -3.2zM288.4 304.8h3.6l-1.8 -3.2zM288.8 307.5h3.6l-1.8 -3.2zM288.6 306.6h3.6l-1.8 -3.2zM288.8 306.6h3.6l-1.8 -3.2zM288.5 295.2h3.6l-1.8 -3.2zM288.7 310.2h3.6l-1.8 -3.2zM288.9 310.2h3.6l-1.8 -3.2zM289.3 302.1h3.6l-1.8 -3.2zM289.1 300.6h3.6l-1.8 -3.2zM289.1 310.2h3.6l-1.8 -3.2zM289.2 313.4h3.6l-1.8 -3.2zM289.4 302.8h3.6l-1.8 -3.2zM289.3 300.6h3.6l-1.8 -3.2zM289.6 300.7h3.6l-1.8 -3.2zM289.5 299.7h3.6l-1.8 -3.2zM289.9 302.9h3.6l-1.8 -3.2zM289.7 307.4h3.6l-1.8 -3.2zM289.6 301.9h3.6l-1.8 -3.2zM290.0 295.4h3.6l-1.8 -3.2zM290.1 302.7h3.6l-1.8 -3.2zM290.1 297.2h3.6l-1.8 -3.2zM290.3 295.5h3.6l-1.8 -3.2zM290.1 300.5h3.6l-1.8 -3.2zM290.4 297.2h3.6l-1.8 -3.2zM290.4 304.6h3.6l-1.8 -3.2zM290.5 304.9h3.6l-1.8 -3.2zM290.8 307.5h3.6l-1.8 -3.2zM290.3 295.5h3.6l-1.8 -3.2zM290.8 299.0h3.6l-1.8 -3.2zM290.8 296.8h3.6l-1.8 -3.2zM290.8 296.7h3.6l-1.8 -3.2zM290.9 301.5h3.6l-1.8 -3.2zM291.1 305.0h3.6l-1.8 -3.2zM291.0 310.5h3.6l-1.8 -3.2zM291.3 302.6h3.6l-1.8 -3.2zM291.0 302.1h3.6l-1.8 -3.2zM291.3 295.6h3.6l-1.8 -3.2zM291.4 310.6h3.6l-1.8 -3.2zM291.6 310.6h3.6l-1.8 -3.2zM291.7 302.1h3.6l-1.8 -3.2zM291.3 302.5h3.6l-1.8 -3.2zM291.4 309.9h3.6l-1.8 -3.2zM292.1 304.3h3.6l-1.8 -3.2zM292.0 309.7h3.6l-1.8 -3.2zM292.0 300.7h3.6l-1.8 -3.2zM291.8 308.9h3.6l-1.8 -3.2zM292.1 309.8h3.6l-1.8 -3.2zM292.0 301.6h3.6l-1.8 -3.2zM292.0 296.9h3.6l-1.8 -3.2zM292.4 304.8h3.6l-1.8 -3.2zM292.1 301.3h3.6l-1.8 -3.2zM292.3 303.5h3.6l-1.8 -3.2zM292.5 307.5h3.6l-1.8 -3.2zM292.9 304.3h3.6l-1.8 -3.2zM292.5 303.2h3.6l-1.8 -3.2zM292.8 300.7h3.6l-1.8 -3.2zM292.7 310.8h3.6l-1.8 -3.2zM293.0 303.1h3.6l-1.8 -3.2zM292.8 308.6h3.6l-1.8 -3.2zM292.9 308.3h3.6l-1.8 -3.2zM293.1 307.2h3.6l-1.8 -3.2zM293.3 300.7h3.6l-1.8 -3.2zM293.3 305.5h3.6l-1.8 -3.2zM293.3 308.3h3.6l-1.8 -3.2zM293.4 310.9h3.6l-1.8 -3.2zM293.5 297.6h3.6l-1.8 -3.2zM293.5 302.8h3.6l-1.8 -3.2zM293.8 298.4h3.6l-1.8 -3.2zM293.6 309.2h3.6l-1.8 -3.2zM293.6 298.7h3.6l-1.8 -3.2zM293.9 304.9h3.6l-1.8 -3.2zM293.9 296.0h3.6l-1.8 -3.2zM294.0 297.5h3.6l-1.8 -3.2zM294.1 300.4h3.6l-1.8 -3.2zM294.0 292.6h3.6l-1.8 -3.2zM294.2 296.2h3.6l-1.8 -3.2zM294.3 301.9h3.6l-1.8 -3.2zM294.4 303.2h3.6l-1.8 -3.2zM294.1 300.7h3.6l-1.8 -3.2zM294.3 307.5h3.6l-1.8 -3.2zM294.4 299.5h3.6l-1.8 -3.2zM294.4 308.2h3.6l-1.8 -3.2zM294.7 300.9h3.6l-1.8 -3.2zM294.8 296.1h3.6l-1.8 -3.2zM294.8 304.7h3.6l-1.8 -3.2zM295.3 298.9h3.6l-1.8 -3.2zM295.2 297.0h3.6l-1.8 -3.2zM295.1 302.5h3.6l-1.8 -3.2zM295.2 311.2h3.6l-1.8 -3.2zM295.2 308.1h3.6l-1.8 -3.2zM295.4 302.8h3.6l-1.8 -3.2zM295.3 305.0h3.6l-1.8 -3.2zM295.4 303.1h3.6l-1.8 -3.2zM295.6 300.6h3.6l-1.8 -3.2zM295.6 308.5h3.6l-1.8 -3.2zM295.9 301.4h3.6l-1.8 -3.2zM295.6 302.0h3.6l-1.8 -3.2zM295.9 302.0h3.6l-1.8 -3.2zM296.2 296.3h3.6l-1.8 -3.2zM296.1 310.3h3.6l-1.8 -3.2zM296.0 302.8h3.6l-1.8 -3.2zM296.1 302.3h3.6l-1.8 -3.2zM296.3 304.5h3.6l-1.8 -3.2zM296.1 301.0h3.6l-1.8 -3.2zM296.3 307.7h3.6l-1.8 -3.2zM296.6 304.8h3.6l-1.8 -3.2zM296.5 292.8h3.6l-1.8 -3.2zM296.5 296.5h3.6l-1.8 -3.2zM296.7 304.8h3.6l-1.8 -3.2zM296.8 305.2h3.6l-1.8 -3.2zM297.2 305.6h3.6l-1.8 -3.2zM297.3 300.6h3.6l-1.8 -3.2zM297.0 299.3h3.6l-1.8 -3.2zM296.7 306.7h3.6l-1.8 -3.2zM297.0 307.0h3.6l-1.8 -3.2zM297.2 303.0h3.6l-1.8 -3.2zM297.5 315.6h3.6l-1.8 -3.2zM297.2 306.8h3.6l-1.8 -3.2zM297.3 311.1h3.6l-1.8 -3.2zM297.2 309.0h3.6l-1.8 -3.2zM297.7 309.5h3.6l-1.8 -3.2zM297.5 308.6h3.6l-1.8 -3.2zM297.8 306.5h3.6l-1.8 -3.2zM297.6 301.6h3.6l-1.8 -3.2zM297.9 308.0h3.6l-1.8 -3.2zM298.0 296.8h3.6l-1.8 -3.2zM297.9 301.3h3.6l-1.8 -3.2zM298.0 305.9h3.6l-1.8 -3.2zM298.3 301.8h3.6l-1.8 -3.2zM297.9 305.3h3.6l-1.8 -3.2zM298.3 300.7h3.6l-1.8 -3.2zM298.5 303.7h3.6l-1.8 -3.2zM298.5 311.3h3.6l-1.8 -3.2zM298.5 309.4h3.6l-1.8 -3.2zM298.7 285.0h3.6l-1.8 -3.2zM298.9 309.2h3.6l-1.8 -3.2zM298.7 301.0h3.6l-1.8 -3.2zM298.8 296.8h3.6l-1.8 -3.2zM298.9 297.7h3.6l-1.8 -3.2zM298.8 306.6h3.6l-1.8 -3.2zM299.1 304.8h3.6l-1.8 -3.2zM299.1 305.4h3.6l-1.8 -3.2zM299.3 309.3h3.6l-1.8 -3.2zM299.5 298.1h3.6l-1.8 -3.2zM299.5 302.1h3.6l-1.8 -3.2zM299.4 300.5h3.6l-1.8 -3.2zM299.3 310.1h3.6l-1.8 -3.2zM299.4 302.3h3.6l-1.8 -3.2zM299.5 298.6h3.6l-1.8 -3.2zM299.7 308.8h3.6l-1.8 -3.2zM299.6 307.1h3.6l-1.8 -3.2zM299.7 298.5h3.6l-1.8 -3.2zM299.9 302.3h3.6l-1.8 -3.2zM299.5 304.6h3.6l-1.8 -3.2zM300.2 312.0h3.6l-1.8 -3.2zM300.0 306.2h3.6l-1.8 -3.2zM300.3 305.7h3.6l-1.8 -3.2zM300.4 302.8h3.6l-1.8 -3.2zM300.5 311.0h3.6l-1.8 -3.2zM300.5 301.0h3.6l-1.8 -3.2zM300.6 305.1h3.6l-1.8 -3.2zM300.7 310.3h3.6l-1.8 -3.2zM300.6 306.5h3.6l-1.8 -3.2zM300.9 311.5h3.6l-1.8 -3.2zM300.9 300.4h3.6l-1.8 -3.2zM301.1 308.5h3.6l-1.8 -3.2zM301.1 308.6h3.6l-1.8 -3.2zM301.0 305.8h3.6l-1.8 -3.2zM301.0 303.8h3.6l-1.8 -3.2zM301.2 306.3h3.6l-1.8 -3.2zM300.9 312.2h3.6l-1.8 -3.2zM301.4 301.8h3.6l-1.8 -3.2zM301.5 306.5h3.6l-1.8 -3.2zM301.4 311.1h3.6l-1.8 -3.2zM301.6 302.5h3.6l-1.8 -3.2zM301.5 304.7h3.6l-1.8 -3.2zM301.6 305.2h3.6l-1.8 -3.2zM301.7 299.5h3.6l-1.8 -3.2zM302.1 300.1h3.6l-1.8 -3.2zM301.8 299.2h3.6l-1.8 -3.2zM302.2 312.3h3.6l-1.8 -3.2zM302.4 312.6h3.6l-1.8 -3.2zM302.4 306.9h3.6l-1.8 -3.2zM302.2 303.5h3.6l-1.8 -3.2zM302.2 308.0h3.6l-1.8 -3.2zM302.5 312.0h3.6l-1.8 -3.2zM302.7 304.0h3.6l-1.8 -3.2zM302.5 312.4h3.6l-1.8 -3.2zM302.4 312.2h3.6l-1.8 -3.2zM302.8 308.3h3.6l-1.8 -3.2zM302.7 305.0h3.6l-1.8 -3.2zM302.9 299.6h3.6l-1.8 -3.2zM303.1 304.9h3.6l-1.8 -3.2zM303.0 306.2h3.6l-1.8 -3.2zM303.0 309.2h3.6l-1.8 -3.2zM302.8 302.2h3.6l-1.8 -3.2zM303.6 303.6h3.6l-1.8 -3.2zM303.5 298.9h3.6l-1.8 -3.2zM303.3 302.0h3.6l-1.8 -3.2zM303.4 312.5h3.6l-1.8 -3.2zM303.5 310.9h3.6l-1.8 -3.2zM303.9 305.3h3.6l-1.8 -3.2zM303.6 304.5h3.6l-1.8 -3.2zM303.8 301.5h3.6l-1.8 -3.2zM304.0 305.1h3.6l-1.8 -3.2zM303.8 305.2h3.6l-1.8 -3.2zM304.0 305.9h3.6l-1.8 -3.2zM303.9 302.2h3.6l-1.8 -3.2zM304.3 299.7h3.6l-1.8 -3.2zM304.6 305.2h3.6l-1.8 -3.2zM304.4 305.7h3.6l-1.8 -3.2zM304.5 305.2h3.6l-1.8 -3.2zM304.5 308.4h3.6l-1.8 -3.2zM304.5 309.4h3.6l-1.8 -3.2zM304.7 302.2h3.6l-1.8 -3.2zM304.9 297.9h3.6l-1.8 -3.2zM304.8 296.3h3.6l-1.8 -3.2zM304.8 307.2h3.6l-1.8 -3.2zM304.9 298.2h3.6l-1.8 -3.2zM304.8 312.5h3.6l-1.8 -3.2zM305.2 312.3h3.6l-1.8 -3.2zM305.3 298.7h3.6l-1.8 -3.2zM305.4 302.6h3.6l-1.8 -3.2zM305.0 310.5h3.6l-1.8 -3.2zM305.5 316.6h3.6l-1.8 -3.2zM305.6 303.2h3.6l-1.8 -3.2zM305.3 300.8h3.6l-1.8 -3.2zM305.6 306.8h3.6l-1.8 -3.2zM305.7 302.5h3.6l-1.8 -3.2zM305.7 310.0h3.6l-1.8 -3.2zM305.8 305.5h3.6l-1.8 -3.2zM305.8 299.2h3.6l-1.8 -3.2zM306.1 305.8h3.6l-1.8 -3.2zM305.7 298.8h3.6l-1.8 -3.2zM306.1 304.4h3.6l-1.8 -3.2zM306.3 302.0h3.6l-1.8 -3.2zM306.1 306.4h3.6l-1.8 -3.2zM306.5 303.9h3.6l-1.8 -3.2zM306.4 305.9h3.6l-1.8 -3.2zM306.7 302.6h3.6l-1.8 -3.2zM306.5 299.8h3.6l-1.8 -3.2zM306.6 306.5h3.6l-1.8 -3.2zM306.7 308.6h3.6l-1.8 -3.2zM306.7 306.6h3.6l-1.8 -3.2zM307.1 298.1h3.6l-1.8 -3.2zM307.3 313.1h3.6l-1.8 -3.2zM307.0 303.3h3.6l-1.8 -3.2zM307.1 302.8h3.6l-1.8 -3.2zM307.1 305.4h3.6l-1.8 -3.2zM307.3 298.2h3.6l-1.8 -3.2zM307.5 304.9h3.6l-1.8 -3.2zM307.4 308.8h3.6l-1.8 -3.2zM307.4 304.0h3.6l-1.8 -3.2zM307.5 308.5h3.6l-1.8 -3.2zM307.8 303.8h3.6l-1.8 -3.2zM307.8 309.6h3.6l-1.8 -3.2zM307.8 309.6h3.6l-1.8 -3.2zM307.8 306.6h3.6l-1.8 -3.2zM308.2 305.3h3.6l-1.8 -3.2zM307.8 302.2h3.6l-1.8 -3.2zM308.2 298.3h3.6l-1.8 -3.2zM308.3 306.3h3.6l-1.8 -3.2zM308.3 313.3h3.6l-1.8 -3.2zM308.1 302.1h3.6l-1.8 -3.2zM308.2 313.3h3.6l-1.8 -3.2zM308.4 309.1h3.6l-1.8 -3.2zM308.4 300.8h3.6l-1.8 -3.2zM308.8 309.9h3.6l-1.8 -3.2zM308.7 299.4h3.6l-1.8 -3.2zM308.6 304.5h3.6l-1.8 -3.2zM308.8 308.8h3.6l-1.8 -3.2zM309.1 310.3h3.6l-1.8 -3.2zM308.8 306.0h3.6l-1.8 -3.2zM309.1 307.8h3.6l-1.8 -3.2zM309.1 306.2h3.6l-1.8 -3.2zM309.1 308.0h3.6l-1.8 -3.2zM309.3 299.3h3.6l-1.8 -3.2zM309.4 313.5h3.6l-1.8 -3.2zM309.6 303.8h3.6l-1.8 -3.2zM309.3 304.0h3.6l-1.8 -3.2zM309.6 310.2h3.6l-1.8 -3.2zM309.4 304.1h3.6l-1.8 -3.2zM309.5 298.6h3.6l-1.8 -3.2zM310.0 311.2h3.6l-1.8 -3.2zM309.8 305.6h3.6l-1.8 -3.2zM310.2 313.1h3.6l-1.8 -3.2zM310.1 305.7h3.6l-1.8 -3.2zM309.9 298.6h3.6l-1.8 -3.2zM310.0 302.7h3.6l-1.8 -3.2zM310.4 300.5h3.6l-1.8 -3.2zM310.1 305.1h3.6l-1.8 -3.2zM310.3 313.4h3.6l-1.8 -3.2zM310.7 311.5h3.6l-1.8 -3.2zM310.4 302.1h3.6l-1.8 -3.2zM310.6 308.6h3.6l-1.8 -3.2zM310.3 315.4h3.6l-1.8 -3.2zM310.7 301.5h3.6l-1.8 -3.2zM310.6 313.5h3.6l-1.8 -3.2zM310.8 311.6h3.6l-1.8 -3.2zM310.9 311.4h3.6l-1.8 -3.2zM311.0 311.3h3.6l-1.8 -3.2zM311.2 303.5h3.6l-1.8 -3.2zM311.3 306.3h3.6l-1.8 -3.2zM311.1 303.0h3.6l-1.8 -3.2zM311.4 312.6h3.6l-1.8 -3.2zM311.4 305.5h3.6l-1.8 -3.2zM311.4 303.4h3.6l-1.8 -3.2zM311.6 301.5h3.6l-1.8 -3.2zM312.1 307.0h3.6l-1.8 -3.2zM311.5 298.8h3.6l-1.8 -3.2zM311.9 308.2h3.6l-1.8 -3.2zM311.9 309.6h3.6l-1.8 -3.2zM312.0 311.4h3.6l-1.8 -3.2zM311.8 307.3h3.6l-1.8 -3.2zM312.2 305.9h3.6l-1.8 -3.2zM312.3 299.3h3.6l-1.8 -3.2zM312.1 311.5h3.6l-1.8 -3.2zM312.4 303.4h3.6l-1.8 -3.2zM312.2 305.1h3.6l-1.8 -3.2zM312.4 300.4h3.6l-1.8 -3.2zM312.4 308.8h3.6l-1.8 -3.2zM312.5 299.1h3.6l-1.8 -3.2zM312.5 307.9h3.6l-1.8 -3.2zM312.6 299.1h3.6l-1.8 -3.2zM312.7 312.5h3.6l-1.8 -3.2zM313.1 303.7h3.6l-1.8 -3.2zM313.1 312.7h3.6l-1.8 -3.2zM313.1 308.0h3.6l-1.8 -3.2zM313.1 310.8h3.6l-1.8 -3.2zM313.1 304.9h3.6l-1.8 -3.2zM313.3 311.6h3.6l-1.8 -3.2zM313.5 311.2h3.6l-1.8 -3.2zM313.4 302.6h3.6l-1.8 -3.2zM313.5 317.1h3.6l-1.8 -3.2zM313.6 308.2h3.6l-1.8 -3.2zM313.5 306.5h3.6l-1.8 -3.2zM313.6 308.2h3.6l-1.8 -3.2zM314.2 305.7h3.6l-1.8 -3.2zM313.6 305.7h3.6l-1.8 -3.2zM313.9 307.9h3.6l-1.8 -3.2zM314.2 314.2h3.6l-1.8 -3.2zM314.0 309.1h3.6l-1.8 -3.2zM314.2 303.8h3.6l-1.8 -3.2zM314.2 301.8h3.6l-1.8 -3.2zM314.3 311.6h3.6l-1.8 -3.2zM314.5 302.2h3.6l-1.8 -3.2zM314.3 307.7h3.6l-1.8 -3.2zM314.3 309.8h3.6l-1.8 -3.2zM314.5 312.6h3.6l-1.8 -3.2zM314.6 305.7h3.6l-1.8 -3.2zM314.6 301.0h3.6l-1.8 -3.2zM314.9 310.3h3.6l-1.8 -3.2zM315.0 299.4h3.6l-1.8 -3.2zM315.1 309.3h3.6l-1.8 -3.2zM315.2 306.2h3.6l-1.8 -3.2zM315.1 306.2h3.6l-1.8 -3.2zM315.4 310.7h3.6l-1.8 -3.2zM315.5 309.6h3.6l-1.8 -3.2zM315.5 311.6h3.6l-1.8 -3.2zM315.5 303.7h3.6l-1.8 -3.2zM315.3 313.6h3.6l-1.8 -3.2zM315.7 305.4h3.6l-1.8 -3.2zM315.7 303.1h3.6l-1.8 -3.2zM315.6 304.5h3.6l-1.8 -3.2zM315.8 303.5h3.6l-1.8 -3.2zM315.8 303.5h3.6l-1.8 -3.2zM316.3 304.1h3.6l-1.8 -3.2zM316.0 300.0h3.6l-1.8 -3.2zM316.2 313.2h3.6l-1.8 -3.2zM316.4 305.7h3.6l-1.8 -3.2zM316.4 303.7h3.6l-1.8 -3.2zM316.1 304.1h3.6l-1.8 -3.2zM316.6 307.1h3.6l-1.8 -3.2zM316.7 301.3h3.6l-1.8 -3.2zM316.8 308.3h3.6l-1.8 -3.2zM316.7 297.0h3.6l-1.8 -3.2zM317.0 305.2h3.6l-1.8 -3.2zM317.1 310.2h3.6l-1.8 -3.2zM317.1 302.5h3.6l-1.8 -3.2zM317.1 314.7h3.6l-1.8 -3.2zM316.8 310.0h3.6l-1.8 -3.2zM317.1 305.1h3.6l-1.8 -3.2zM317.2 310.1h3.6l-1.8 -3.2zM317.3 306.3h3.6l-1.8 -3.2zM317.2 309.4h3.6l-1.8 -3.2zM317.6 306.4h3.6l-1.8 -3.2zM317.7 303.7h3.6l-1.8 -3.2zM317.6 307.3h3.6l-1.8 -3.2zM317.6 299.9h3.6l-1.8 -3.2zM317.7 303.0h3.6l-1.8 -3.2zM318.0 306.5h3.6l-1.8 -3.2zM317.5 299.9h3.6l-1.8 -3.2zM318.0 305.1h3.6l-1.8 -3.2zM317.9 307.5h3.6l-1.8 -3.2zM318.1 308.9h3.6l-1.8 -3.2zM318.3 312.0h3.6l-1.8 -3.2zM318.2 306.1h3.6l-1.8 -3.2zM318.5 307.2h3.6l-1.8 -3.2zM318.3 300.0h3.6l-1.8 -3.2zM318.7 302.2h3.6l-1.8 -3.2zM318.5 308.4h3.6l-1.8 -3.2zM318.5 309.0h3.6l-1.8 -3.2zM318.7 307.8h3.6l-1.8 -3.2zM318.5 310.4h3.6l-1.8 -3.2zM318.7 313.3h3.6l-1.8 -3.2zM318.9 308.8h3.6l-1.8 -3.2zM319.0 314.3h3.6l-1.8 -3.2zM319.3 310.1h3.6l-1.8 -3.2zM319.0 309.7h3.6l-1.8 -3.2zM319.3 308.9h3.6l-1.8 -3.2zM319.2 312.9h3.6l-1.8 -3.2zM319.1 304.6h3.6l-1.8 -3.2zM319.3 300.2h3.6l-1.8 -3.2zM319.6 303.8h3.6l-1.8 -3.2zM319.5 312.6h3.6l-1.8 -3.2zM319.6 314.0h3.6l-1.8 -3.2zM319.9 307.8h3.6l-1.8 -3.2zM320.0 306.2h3.6l-1.8 -3.2zM320.0 314.0h3.6l-1.8 -3.2zM319.6 308.9h3.6l-1.8 -3.2zM320.2 307.5h3.6l-1.8 -3.2zM320.1 306.2h3.6l-1.8 -3.2zM320.1 315.2h3.6l-1.8 -3.2zM320.4 305.4h3.6l-1.8 -3.2zM320.6 303.9h3.6l-1.8 -3.2zM320.5 312.7h3.6l-1.8 -3.2zM320.6 310.1h3.6l-1.8 -3.2zM320.7 311.5h3.6l-1.8 -3.2zM320.9 308.2h3.6l-1.8 -3.2zM320.9 303.8h3.6l-1.8 -3.2zM320.7 315.3h3.6l-1.8 -3.2zM321.2 314.3h3.6l-1.8 -3.2zM320.8 308.4h3.6l-1.8 -3.2zM321.2 306.1h3.6l-1.8 -3.2zM321.1 310.7h3.6l-1.8 -3.2zM321.5 308.2h3.6l-1.8 -3.2zM321.2 302.6h3.6l-1.8 -3.2zM321.3 306.9h3.6l-1.8 -3.2zM321.4 307.7h3.6l-1.8 -3.2zM321.3 315.4h3.6l-1.8 -3.2zM321.8 287.0h3.6l-1.8 -3.2zM321.6 303.0h3.6l-1.8 -3.2zM321.7 309.1h3.6l-1.8 -3.2zM321.9 305.0h3.6l-1.8 -3.2zM321.9 310.2h3.6l-1.8 -3.2zM322.3 313.4h3.6l-1.8 -3.2zM322.3 311.2h3.6l-1.8 -3.2zM322.2 306.3h3.6l-1.8 -3.2zM322.4 308.7h3.6l-1.8 -3.2zM322.3 298.8h3.6l-1.8 -3.2zM322.2 311.8h3.6l-1.8 -3.2zM322.1 307.6h3.6l-1.8 -3.2zM322.5 315.0h3.6l-1.8 -3.2zM322.4 312.7h3.6l-1.8 -3.2zM322.7 308.3h3.6l-1.8 -3.2zM322.5 304.7h3.6l-1.8 -3.2zM322.7 313.3h3.6l-1.8 -3.2zM322.9 301.6h3.6l-1.8 -3.2zM322.8 311.0h3.6l-1.8 -3.2zM322.9 312.9h3.6l-1.8 -3.2zM322.9 308.9h3.6l-1.8 -3.2zM322.9 311.5h3.6l-1.8 -3.2zM323.2 301.4h3.6l-1.8 -3.2zM323.3 309.6h3.6l-1.8 -3.2zM323.2 310.8h3.6l-1.8 -3.2zM323.5 305.0h3.6l-1.8 -3.2zM323.5 313.2h3.6l-1.8 -3.2zM323.6 308.0h3.6l-1.8 -3.2zM323.7 306.9h3.6l-1.8 -3.2zM323.6 309.1h3.6l-1.8 -3.2zM323.8 310.3h3.6l-1.8 -3.2zM324.1 309.1h3.6l-1.8 -3.2zM324.0 309.0h3.6l-1.8 -3.2zM323.9 313.3h3.6l-1.8 -3.2zM324.2 312.4h3.6l-1.8 -3.2zM324.6 312.4h3.6l-1.8 -3.2zM324.0 303.3h3.6l-1.8 -3.2zM324.5 311.2h3.6l-1.8 -3.2zM324.4 306.3h3.6l-1.8 -3.2zM324.3 310.3h3.6l-1.8 -3.2zM324.6 314.7h3.6l-1.8 -3.2zM324.4 301.2h3.6l-1.8 -3.2z" fill="#0c7a0c"/>
<path d="M132.6 179.0a1.8 1.8 0 1 0 3.5 0a1.8 1.8 0 1 0 -3.5 0zM132.9 182.3a1.8 1.8 0 1 0 3.5 0a1.8 1.8 0 1 0 -3.5 0zM132.9 186.1a1.8 1.8 0 1 0 3.5 0a1.8 1.8 0 1 0 -3.5 0zM133.5 190.8a1.8 1.8 0 1 0 3.5 0a1.8 1.8 0 1 0 -3.5 0zM134.0 195.2a1.8 1.8 0 1 0 3.5 0a1.8 1.8 0 1 0 -3.5 0zM134.1 199.4a1.8 1.8 0 1 0 3.5 0a1.8 1.8 0 1 0 -3.5 0zM134.3 204.2a1.8 1.8 0 1 0 3.5 0a1.8 1.8 0 1 0 -3.5 0zM134.6 207.6a1.8 1.8 0 1 0 3.5 0a1.8 1.8 0 1 0 -3.5 0zM135.0 212.2a1.8 1.8 0 1 0 3.5 0a1.8 1.8 0 1 0 -3.5 0zM135.0 215.2a1.8 1.8 0 1 0 3.5 0a1.8 1.8 0 1 0 -3.5 0zM135.7 218.6a1.8 1.8 0 1 0 3.5 0a1.8 1.8 0 1 0 -3.5 0zM135.7 221.5a1.8 1.8 0 1 0 3.5 0a1.8 1.8 0 1 0 -3.5 0zM136.1 224.8a1.8 1.8 0 1 0 3.5 0a1.8 1.8 0 1 0 -3.5 0zM136.5 227.4a1.8 1.8 0 1 0 3.5 0a1.8 1.8 0 1 0 -3.5 0zM136.9 229.7a1.8 1.8 0 1 0 3.5 0a1.8 1.8 0 1 0 -3.5 0zM137.2 231.1a1.8 1.8 0 1 0 3.5 0a1.8 1.8 0 1 0 -3.5 0zM137.3 233.1a1.8 1.8 0 1 0 3.5 0a1.8 1.8 0 1 0 -3.5 0zM137.4 234.3a1.8 1.8 0 1 0 3.5 0a1.8 1.8 0 1 0 -3.5 0zM137.9 235.2a1.8 1.8 0 1 0 3.5 0a1.8 1.8 0 1 0 -3.5 0zM138.2 234.7a1.8 1.8 0 1 0 3.5 0a1.8 1.8 0 1 0 -3.5 0zM138.6 236.4a1.8 1.8 0 1 0 3.5 0a1.8 1.8 0 1 0 -3.5 0zM139.0 236.9a1.8 1.8 0 1 0 3.5 0a1.8 1.8 0 1 0 -3.5 0zM139.0 237.5a1.8 1.8 0 1 0 3.5 0a1.8 1.8 0 1 0 -3.5 0zM139.4 238.8a1.8 1.8 0 1 0 3.5 0a1.8 1.8 0 1 0 -3.5 0zM139.8 239.0a1.8 1.8 0 1 0 3.5 0a1.8 1.8 0 1 0 -3.5 0zM139.8 239.4a1.8 1.8 0 1 0 3.5 0a1.8 1.8 0 1 0 -3.5 0zM140.2 240.2a1.8 1.8 0 1 0 3.5 0a1.8 1.8 0 1 0 -3.5 0zM140.8 240.5a1.8 1.8 0 1 0 3.5 0a1.8 1.8 0 1 0 -3.5 0zM140.9 240.4a1.8 1.8 0 1 0 3.5 0a1.8 1.8 0 1 0 -3.5 0zM140.9 241.7a1.8 1.8 0 1 0 3.5 0a1.8 1.8 0 1 0 -3.5 0zM141.7 242.3a1.8 1.8 0 1 0 3.5 0a1.8 1.8 0 1 0 -3.5 0zM141.7 242.8a1.8 1.8 0 1 0 3.5 0a1.8 1.8 0 1 0 -3.5 0zM142.1 244.1a1.8 1.8 0 1 0 3.5 0a1.8 1.8 0 1 0 -3.5 0zM142.4 243.1a1.8 1.8 0 1 0 3.5 0a1.8 1.8 0 1 0 -3.5 0zM142.6 243.7a1.8 1.8 0 1 0 3.5 0a1.8 1.8 0 1 0 -3.5 0zM143.2 244.2a1.8 1.8 0 1 0 3.5 0a1.8 1.8 0 1 0 -3.5 0zM143.3 244.6a1.8 1.8 0 1 0 3.5 0a1.8 1.8 0 1 0 -3.5 0zM143.8 245.5a1.8 1.8 0 1 0 3.5 0a1.8 1.8 0 1 0 -3.5 0zM143.8 245.7a1.8 1.8 0 1 0 3.5 0a1.8 1.8 0 1 0 -3.5 0zM144.3 245.2a1.8 1.8 0 1 0 3.5 0a1.8 1.8 0 1 0 -3.5 0zM144.7 245.6a1.8 1.8 0 1 0 3.5 0a1.8 1.8 0 1 0 -3.5 0zM144.9 246.6a1.8 1.8 0 1 0 3.5 0a1.8 1.8 0 1 0 -3.5 0zM145.0 246.6a1.8 1.8 0 1 0 3.5 0a1.8 1.8 0 1 0 -3.5 0zM145.6 247.2a1.8 1.8 0 1 0 3.5 0a1.8 1.8 0 1 0 -3.5 0zM145.8 246.7a1.8 1.8 0 1 0 3.5 0a1.8 1.8 0 1 0 -3.5 0zM146.1 247.7a1.8 1.8 0 1 0 3.5 0a1.8 1.8 0 1 0 -3.5 0zM146.5 248.3a1.8 1.8 0 1 0 3.5 0a1.8 1.8 0 1 0 -3.5 0zM146.6 247.0a1.8 1.8 0 1 0 3.5 0a1.8 1.8 0 1 0 -3.5 0zM146.8 247.2a1.8 1.8 0 1 0 3.5 0a1.8 1.8 0 1 0 -3.5 0zM147.3 247.6a1.8 1.8 0 1 0 3.5 0a1.8 1.8 0 1 0 -3.5 0zM147.4 248.2a1.8 1.8 0 1 0 3.5 0a1.8 1.8 0 1 0 -3.5 0zM147.8 247.9a1.8 1.8 0 1 0 3.5 0a1.8 1.8 0 1 0 -3.5 0zM148.1 248.2a1.8 1.8 0 1 0 3.5 0a1.8 1.8 0 1 0 -3.5 0zM148.6 248.0a1.8 1.8 0 1 0 3.5 0a1.8 1.8 0 1 0 -3.5 0zM148.9 248.6a1.8 1.8 0 1 0 3.5 0a1.8 1.8 0 1 0 -3.5 0zM148.8 248.2a1.8 1.8 0 1 0 3.5 0a1.8 1.8 0 1 0 -3.5 0zM149.5 248.3a1.8 1.8 0 1 0 3.5 0a1.8 1.8 0 1 0 -3.5 0zM149.8 248.2a1.8 1.8 0 1 0 3.5 0a1.8 1.8 0 1 0 -3.5 0zM150.3 248.6a1.8 1.8 0 1 0 3.5 0a1.8 1.8 0 1 0 -3.5 0zM150.3 248.1a1.8 1.8 0 1 0 3.5 0a1.8 1.8 0 1 0 -3.5 0zM150.7 248.9a1.8 1.8 0 1 0 3.5 0a1.8 1.8 0 1 0 -3.5 0zM151.1 248.4a1.8 1.8 0 1 0 3.5 0a1.8 1.8 0 1 0 -3.5 0zM151.3 246.3a1.8 1.8 0 1 0 3.5 0a1.8 1.8 0 1 0 -3.5 0zM151.6 249.9a1.8 1.8 0 1 0 3.5 0a1.8 1.8 0 1 0 -3.5 0zM152.0 249.4a1.8 1.8 0 1 0 3.5 0a1.8 1.8 0 1 0 -3.5 0zM152.0 250.2a1.8 1.8 0 1 0 3.5 0a1.8 1.8 0 1 0 -3.5 0zM152.2 249.8a1.8 1.8 0 1 0 3.5 0a1.8 1.8 0 1 0 -3.5 0zM152.5 249.2a1.8 1.8 0 1 0 3.5 0a1.8 1.8 0 1 0 -3.5 0zM153.0 249.4a1.8 1.8 0 1 0 3.5 0a1.8 1.8 0 1 0 -3.5 0zM153.4 249.4a1.8 1.8 0 1 0 3.5 0a1.8 1.8 0 1 0 -3.5 0zM153.6 249.3a1.8 1.8 0 1 0 3.5 0a1.8 1.8 0 1 0 -3.5 0zM153.9 249.7a1.8 1.8 0 1 0 3.5 0a1.8 1.8 0 1 0 -3.5 0zM154.1 249.3a1.8 1.8 0 1 0 3.5 0a1.8 1.8 0 1 0 -3.5 0zM154.5 250.3a1.8 1.8 0 1 0 3.5 0a1.8 1.8 0 1 0 -3.5 0zM154.9 251.0a1.8 1.8 0 1 0 3.5 0a1.8 1.8 0 1 0 -3.5 0zM155.3 250.2a1.8 1.8 0 1 0 3.5 0a1.8 1.8 0 1 0 -3.5 0zM155.3 249.8a1.8 1.8 0 1 0 3.5 0a1.8 1.8 0 1 0 -3.5 0zM155.8 251.2a1.8 1.8 0 1 0 3.5 0a1.8 1.8 0 1 0 -3.5 0zM156.1 250.6a1.8 1.8 0 1 0 3.5 0a1.8 1.8 0 1 0 -3.5 0zM156.4 250.6a1.8 1.8 0 1 0 3.5 0a1.8 1.8 0 1 0 -3.5 0zM156.5 250.8a1.8 1.8 0 1 0 3.5 0a1.8 1.8 0 1 0 -3.5 0zM157.1 250.9a1.8 1.8 0 1 0 3.5 0a1.8 1.8 0 1 0 -3.5 0zM157.2 251.2a1.8 1.8 0 1 0 3.5 0a1.8 1.8 0 1 0 -3.5 0zM157.2 250.7a1.8 1.8 0 1 0 3.5 0a1.8 1.8 0 1 0 -3.5 0zM157.7 251.3a1.8 1.8 0 1 0 3.5 0a1.8 1.8 0 1 0 -3.5 0zM158.1 251.7a1.8 1.8 0 1 0 3.5 0a1.8 1.8 0 1 0 -3.5 0zM158.3 251.4a1.8 1.8 0 1 0 3.5 0a1.8 1.8 0 1 0 -3.5 0zM158.4 251.0a1.8 1.8 0 1 0 3.5 0a1.8 1.8 0 1 0 -3.5 0zM159.2 251.9a1.8 1.8 0 1 0 3.5 0a1.8 1.8 0 1 0 -3.5 0zM159.5 251.1a1.8 1.8 0 1 0 3.5 0a1.8 1.8 0 1 0 -3.5 0zM159.5 252.2a1.8 1.8 0 1 0 3.5 0a1.8 1.8 0 1 0 -3.5 0zM159.7 251.6a1.8 1.8 0 1 0 3.5 0a1.8 1.8 0 1 0 -3.5 0zM160.2 252.0a1.8 1.8 0 1 0 3.5 0a1.8 1.8 0 1 0 -3.5 0zM160.7 251.9a1.8 1.8 0 1 0 3.5 0a1.8 1.8 0 1 0 -3.5 0zM161.0 251.9a1.8 1.8 0 1 0 3.5 0a1.8 1.8 0 1 0 -3.5 0zM161.1 252.7a1.8 1.8 0 1 0 3.5 0a1.8 1.8 0 1 0 -3.5 0zM161.5 251.7a1.8 1.8 0 1 0 3.5 0a1.8 1.8 0 1 0 -3.5 0zM161.5 252.8a1.8 1.8 0 1 0 3.5 0a1.8 1.8 0 1 0 -3.5 0zM162.0 252.9a1.8 1.8 0 1 0 3.5 0a1.8 1.8 0 1 0 -3.5 0zM162.3 252.1a1.8 1.8 0 1 0 3.5 0a1.8 1.8 0 1 0 -3.5 0zM162.3 252.5a1.8 1.8 0 1 0 3.5 0a1.8 1.8 0 1 0 -3.5 0zM162.7 252.9a1.8 1.8 0 1 0 3.5 0a1.8 1.8 0 1 0 -3.5 0zM162.9 252.5a1.8 1.8 0 1 0 3.5 0a1.8 1.8 0 1 0 -3.5 0zM163.1 252.8a1.8 1.8 0 1 0 3.5 0a1.8 1.8 0 1 0 -3.5 0zM163.6 253.2a1.8 1.8 0 1 0 3.5 0a1.8 1.8 0 1 0 -3.5 0zM163.8 253.4a1.8 1.8 0 1 0 3.5 0a1.8 1.8 0 1 0 -3.5 0zM164.2 252.8a1.8 1.8 0 1 0 3.5 0a1.8 1.8 0 1 0 -3.5 0zM164.5 253.1a1.8 1.8 0 1 0 3.5 0a1.8 1.8 0 1 0 -3.5 0zM164.9 252.9a1.8 1.8 0 1 0 3.5 0a1.8 1.8 0 1 0 -3.5 0zM165.6 252.8a1.8 1.8 0 1 0 3.5 0a1.8 1.8 0 1 0 -3.5 0zM165.7 252.9a1.8 1.8 0 1 0 3.5 0a1.8 1.8 0 1 0 -3.5 0zM165.8 253.3a1.8 1.8 0 1 0 3.5 0a1.8 1.8 0 1 0 -3.5 0zM166.3 253.1a1.8 1.8 0 1 0 3.5 0a1.8 1.8 0 1 0 -3.5 0zM166.4 252.7a1.8 1.8 0 1 0 3.5 0a1.8 1.8 0 1 0 -3.5 0zM166.6 253.2a1.8 1.8 0 1 0 3.5 0a1.8 1.8 0 1 0 -3.5 0zM167.2 252.9a1.8 1.8 0 1 0 3.5 0a1.8 1.8 0 1 0 -3.5 0zM167.6 253.7a1.8 1.8 0 1 0 3.5 0a1.8 1.8 0 1 0 -3.5 0zM167.8 254.6a1.8 1.8 0 1 0 3.5 0a1.8 1.8 0 1 0 -3.5 0zM167.8 253.0a1.8 1.8 0 1 0 3.5 0a1.8 1.8 0 1 0 -3.5 0zM168.3 253.9a1.8 1.8 0 1 0 3.5 0a1.8 1.8 0 1 0 -3.5 0zM168.5 253.5a1.8 1.8 0 1 0 3.5 0a1.8 1.8 0 1 0 -3.5 0zM169.1 253.8a1.8 1.8 0 1 0 3.5 0a1.8 1.8 0 1 0 -3.5 0zM169.0 254.3a1.8 1.8 0 1 0 3.5 0a1.8 1.8 0 1 0 -3.5 0zM169.6 255.1a1.8 1.8 0 1 0 3.5 0a1.8 1.8 0 1 0 -3.5 0zM169.7 254.4a1.8 1.8 0 1 0 3.5 0a1.8 1.8 0 1 0 -3.5 0zM170.1 254.5a1.8 1.8 0 1 0 3.5 0a1.8 1.8 0 1 0 -3.5 0zM170.3 254.1a1.8 1.8 0 1 0 3.5 0a1.8 1.8 0 1 0 -3.5 0zM170.6 254.4a1.8 1.8 0 1 0 3.5 0a1.8 1.8 0 1 0 -3.5 0zM170.7 255.2a1.8 1.8 0 1 0 3.5 0a1.8 1.8 0 1 0 -3.5 0zM171.5 255.1a1.8 1.8 0 1 0 3.5 0a1.8 1.8 0 1 0 -3.5 0zM171.8 254.7a1.8 1.8 0 1 0 3.5 0a1.8 1.8 0 1 0 -3.5 0zM171.7 255.0a1.8 1.8 0 1 0 3.5 0a1.8 1.8 0 1 0 -3.5 0zM172.1 255.8a1.8 1.8 0 1 0 3.5 0a1.8 1.8 0 1 0 -3.5 0zM172.1 255.1a1.8 1.8 0 1 0 3.5 0a1.8 1.8 0 1 0 -3.5 0zM172.7 255.1a1.8 1.8 0 1 0 3.5 0a1.8 1.8 0 1 0 -3.5 0zM172.9 255.6a1.8 1.8 0 1 0 3.5 0a1.8 1.8 0 1 0 -3.5 0zM173.2 255.4a1.8 1.8 0 1 0 3.5 0a1.8 1.8 0 1 0 -3.5 0zM173.4 255.1a1.8 1.8 0 1 0 3.5 0a1.8 1.8 0 1 0 -3.5 0zM174.1 255.5a1.8 1.8 0 1 0 3.5 0a1.8 1.8 0 1 0 -3.5 0zM174.4 255.4a1.8 1.8 0 1 0 3.5 0a1.8 1.8 0 1 0 -3.5 0zM174.6 255.7a1.8 1.8 0 1 0 3.5 0a1.8 1.8 0 1 0 -3.5 0zM174.8 255.9a1.8 1.8 0 1 0 3.5 0a1.8 1.8 0 1 0 -3.5 0zM175.2 255.6a1.8 1.8 0 1 0 3.5 0a1.8 1.8 0 1 0 -3.5 0zM175.5 256.7a1.8 1.8 0 1 0 3.5 0a1.8 1.8 0 1 0 -3.5 0zM175.3 255.9a1.8 1.8 0 1 0 3.5 0a1.8 1.8 0 1 0 -3.5 0zM176.0 256.7a1.8 1.8 0 1 0 3.5 0a1.8 1.8 0 1 0 -3.5 0zM176.3 256.9a1.8 1.8 0 1 0 3.5 0a1.8 1.8 0 1 0 -3.5 0zM176.5 255.6a1.8 1.8 0 1 0 3.5 0a1.8 1.8 0 1 0 -3.5 0zM176.8 256.8a1.8 1.8 0 1 0 3.5 0a1.8 1.8 0 1 0 -3.5 0zM177.3 256.7a1.8 1.8 0 1 0 3.5 0a1.8 1.8 0 1 0 -3.5 0zM177.5 256.8a1.8 1.8 0 1 0 3.5 0a1.8 1.8 0 1 0 -3.5 0zM177.8 255.9a1.8 1.8 0 1 0 3.5 0a1.8 1.8 0 1 0 -3.5 0zM178.1 256.8a1.8 1.8 0 1 0 3.5 0a1.8 1.8 0 1 0 -3.5 0zM178.7 257.3a1.8 1.8 0 1 0 3.5 0a1.8 1.8 0 1 0 -3.5 0zM178.8 256.6a1.8 1.8 0 1 0 3.5 0a1.8 1.8 0 1 0 -3.5 0zM179.0 256.8a1.8 1.8 0 1 0 3.5 0a1.8 1.8 0 1 0 -3.5 0zM179.3 257.5a1.8 1.8 0 1 0 3.5 0a1.8 1.8 0 1 0 -3.5 0zM179.6 256.7a1.8 1.8 0 1 0 3.5 0a1.8 1.8 0 1 0 -3.5 0zM180.0 257.7a1.8 1.8 0 1 0 3.5 0a1.8 1.8 0 1 0 -3.5 0zM180.1 258.1a1.8 1.8 0 1 0 3.5 0a1.8 1.8 0 1 0 -3.5 0zM180.5 258.2a1.8 1.8 0 1 0 3.5 0a1.8 1.8 0 1 0 -3.5 0zM181.0 257.5a1.8 1.8 0 1 0 3.5 0a1.8 1.8 0 1 0 -3.5 0zM181.2 257.5a1.8 1.8 0 1 0 3.5 0a1.8 1.8 0 1 0 -3.5 0zM181.6 257.7a1.8 1.8 0 1 0 3.5 0a1.8 1.8 0 1 0 -3.5 0zM181.7 258.2a1.8 1.8 0 1 0 3.5 0a1.8 1.8 0 1 0 -3.5 0zM182.3 258.8a1.8 1.8 0 1 0 3.5 0a1.8 1.8 0 1 0 -3.5 0zM182.4 257.1a1.8 1.8 0 1 0 3.5 0a1.8 1.8 0 1 0 -3.5 0zM182.5 258.1a1.8 1.8 0 1 0 3.5 0a1.8 1.8 0 1 0 -3.5 0zM183.0 258.3a1.8 1.8 0 1 0 3.5 0a1.8 1.8 0 1 0 -3.5 0zM183.3 257.8a1.8 1.8 0 1 0 3.5 0a1.8 1.8 0 1 0 -3.5 0zM183.5 258.5a1.8 1.8 0 1 0 3.5 0a1.8 1.8 0 1 0 -3.5 0zM183.9 258.4a1.8 1.8 0 1 0 3.5 0a1.8 1.8 0 1 0 -3.5 0zM184.2 259.0a1.8 1.8 0 1 0 3.5 0a1.8 1.8 0 1 0 -3.5 0zM184.3 260.8a1.8 1.8 0 1 0 3.5 0a1.8 1.8 0 1 0 -3.5 0zM184.4 258.0a1.8 1.8 0 1 0 3.5 0a1.8 1.8 0 1 0 -3.5 0zM185.2 259.7a1.8 1.8 0 1 0 3.5 0a1.8 1.8 0 1 0 -3.5 0zM185.8 257.2a1.8 1.8 0 1 0 3.5 0a1.8 1.8 0 1 0 -3.5 0zM185.9 258.6a1.8 1.8 0 1 0 3.5 0a1.8 1.8 0 1 0 -3.5 0zM186.0 258.0a1.8 1.8 0 1 0 3.5 0a1.8 1.8 0 1 0 -3.5 0zM186.3 259.3a1.8 1.8 0 1 0 3.5 0a1.8 1.8 0 1 0 -3.5 0zM186.2 258.6a1.8 1.8 0 1 0 3.5 0a1.8 1.8 0 1 0 -3.5 0zM186.8 258.2a1.8 1.8 0 1 0 3.5 0a1.8 1.8 0 1 0 -3.5 0zM187.1 258.2a1.8 1.8 0 1 0 3.5 0a1.8 1.8 0 1 0 -3.5 0zM187.6 259.7a1.8 1.8 0 1 0 3.5 0a1.8 1.8 0 1 0 -3.5 0zM188.1 258.8a1.8 1.8 0 1 0 3.5 0a1.8 1.8 0 1 0 -3.5 0zM188.0 259.3a1.8 1.8 0 1 0 3.5 0a1.8 1.8 0 1 0 -3.5 0zM188.1 258.6a1.8 1.8 0 1 0 3.5 0a1.8 1.8 0 1 0 -3.5 0zM188.4 259.1a1.8 1.8 0 1 0 3.5 0a1.8 1.8 0 1 0 -3.5 0zM188.8 259.9a1.8 1.8 0 1 0 3.5 0a1.8 1.8 0 1 0 -3.5 0zM189.3 259.6a1.8 1.8 0 1 0 3.5 0a1.8 1.8 0 1 0 -3.5 0zM189.6 259.4a1.8 1.8 0 1 0 3.5 0a1.8 1.8 0 1 0 -3.5 0zM190.0 258.8a1.8 1.8 0 1 0 3.5 0a1.8 1.8 0 1 0 -3.5 0zM190.1 259.4a1.8 1.8 0 1 0 3.5 0a1.8 1.8 0 1 0 -3.5 0zM190.3 259.5a1.8 1.8 0 1 0 3.5 0a1.8 1.8 0 1 0 -3.5 0zM191.0 260.5a1.8 1.8 0 1 0 3.5 0a1.8 1.8 0 1 0 -3.5 0zM191.1 260.0a1.8 1.8 0 1 0 3.5 0a1.8 1.8 0 1 0 -3.5 0zM191.3 260.2a1.8 1.8 0 1 0 3.5 0a1.8 1.8 0 1 0 -3.5 0zM191.5 259.5a1.8 1.8 0 1 0 3.5 0a1.8 1.8 0 1 0 -3.5 0zM192.2 258.6a1.8 1.8 0 1 0 3.5 0a1.8 1.8 0 1 0 -3.5 0zM192.2 259.8a1.8 1.8 0 1 0 3.5 0a1.8 1.8 0 1 0 -3.5 0zM192.6 258.7a1.8 1.8 0 1 0 3.5 0a1.8 1.8 0 1 0 -3.5 0zM193.0 258.5a1.8 1.8 0 1 0 3.5 0a1.8 1.8 0 1 0 -3.5 0zM193.0 259.8a1.8 1.8 0 1 0 3.5 0a1.8 1.8 0 1 0 -3.5 0zM193.7 258.7a1.8 1.8 0 1 0 3.5 0a1.8 1.8 0 1 0 -3.5 0zM193.9 259.1a1.8 1.8 0 1 0 3.5 0a1.8 1.8 0 1 0 -3.5 0zM194.0 258.5a1.8 1.8 0 1 0 3.5 0a1.8 1.8 0 1 0 -3.5 0zM194.5 258.6a1.8 1.8 0 1 0 3.5 0a1.8 1.8 0 1 0 -3.5 0zM194.5 258.5a1.8 1.8 0 1 0 3.5 0a1.8 1.8 0 1 0 -3.5 0zM195.1 258.9a1.8 1.8 0 1 0 3.5 0a1.8 1.8 0 1 0 -3.5 0zM195.3 258.2a1.8 1.8 0 1 0 3.5 0a1.8 1.8 0 1 0 -3.5 0zM195.6 257.6a1.8 1.8 0 1 0 3.5 0a1.8 1.8 0 1 0 -3.5 0zM195.6 258.6a1.8 1.8 0 1 0 3.5 0a1.8 1.8 0 1 0 -3.5 0zM196.1 258.5a1.8 1.8 0 1 0 3.5 0a1.8 1.8 0 1 0 -3.5 0zM196.6 258.2a1.8 1.8 0 1 0 3.5 0a1.8 1.8 0 1 0 -3.5 0zM196.8 257.1a1.8 1.8 0 1 0 3.5 0a1.8 1.8 0 1 0 -3.5 0zM196.8 256.5a1.8 1.8 0 1 0 3.5 0a1.8 1.8 0 1 0 -3.5 0zM197.3 257.3a1.8 1.8 0 1 0 3.5 0a1.8 1.8 0 1 0 -3.5 0zM197.8 256.9a1.8 1.8 0 1 0 3.5 0a1.8 1.8 0 1 0 -3.5 0zM197.9 256.8a1.8 1.8 0 1 0 3.5 0a1.8 1.8 0 1 0 -3.5 0zM198.2 255.6a1.8 1.8 0 1 0 3.5 0a1.8 1.8 0 1 0 -3.5 0zM198.5 256.3a1.8 1.8 0 1 0 3.5 0a1.8 1.8 0 1 0 -3.5 0zM199.0 255.8a1.8 1.8 0 1 0 3.5 0a1.8 1.8 0 1 0 -3.5 0zM199.4 255.6a1.8 1.8 0 1 0 3.5 0a1.8 1.8 0 1 0 -3.5 0zM199.7 254.6a1.8 1.8 0 1 0 3.5 0a1.8 1.8 0 1 0 -3.5 0zM199.7 254.5a1.8 1.8 0 1 0 3.5 0a1.8 1.8 0 1 0 -3.5 0zM200.1 254.8a1.8 1.8 0 1 0 3.5 0a1.8 1.8 0 1 0 -3.5 0zM200.6 254.4a1.8 1.8 0 1 0 3.5 0a1.8 1.8 0 1 0 -3.5 0zM200.7 253.6a1.8 1.8 0 1 0 3.5 0a1.8 1.8 0 1 0 -3.5 0zM200.7 254.4a1.8 1.8 0 1 0 3.5 0a1.8 1.8 0 1 0 -3.5 0zM201.3 253.5a1.8 1.8 0 1 0 3.5 0a1.8 1.8 0 1 0 -3.5 0zM201.6 252.2a1.8 1.8 0 1 0 3.5 0a1.8 1.8 0 1 0 -3.5 0zM201.7 252.7a1.8 1.8 0 1 0 3.5 0a1.8 1.8 0 1 0 -3.5 0zM202.1 252.3a1.8 1.8 0 1 0 3.5 0a1.8 1.8 0 1 0 -3.5 0zM202.5 250.8a1.8 1.8 0 1 0 3.5 0a1.8 1.8 0 1 0 -3.5 0zM202.8 250.2a1.8 1.8 0 1 0 3.5 0a1.8 1.8 0 1 0 -3.5 0zM202.9 250.4a1.8 1.8 0 1 0 3.5 0a1.8 1.8 0 1 0 -3.5 0zM203.2 249.9a1.8 1.8 0 1 0 3.5 0a1.8 1.8 0 1 0 -3.5 0zM203.7 248.9a1.8 1.8 0 1 0 3.5 0a1.8 1.8 0 1 0 -3.5 0zM204.0 249.4a1.8 1.8 0 1 0 3.5 0a1.8 1.8 0 1 0 -3.5 0zM204.7 249.1a1.8 1.8 0 1 0 3.5 0a1.8 1.8 0 1 0 -3.5 0zM204.7 248.1a1.8 1.8 0 1 0 3.5 0a1.8 1.8 0 1 0 -3.5 0zM204.8 246.9a1.8 1.8 0 1 0 3.5 0a1.8 1.8 0 1 0 -3.5 0zM205.3 246.4a1.8 1.8 0 1 0 3.5 0a1.8 1.8 0 1 0 -3.5 0zM205.3 246.0a1.8 1.8 0 1 0 3.5 0a1.8 1.8 0 1 0 -3.5 0zM206.0 245.4a1.8 1.8 0 1 0 3.5 0a1.8 1.8 0 1 0 -3.5 0zM206.1 245.9a1.8 1.8 0 1 0 3.5 0a1.8 1.8 0 1 0 -3.5 0zM206.5 245.2a1.8 1.8 0 1 0 3.5 0a1.8 1.8 0 1 0 -3.5 0zM206.8 244.2a1.8 1.8 0 1 0 3.5 0a1.8 1.8 0 1 0 -3.5 0zM206.8 243.6a1.8 1.8 0 1 0 3.5 0a1.8 1.8 0 1 0 -3.5 0zM207.4 243.9a1.8 1.8 0 1 0 3.5 0a1.8 1.8 0 1 0 -3.5 0zM207.4 243.2a1.8 1.8 0 1 0 3.5 0a1.8 1.8 0 1 0 -3.5 0zM207.7 241.4a1.8 1.8 0 1 0 3.5 0a1.8 1.8 0 1 0 -3.5 0zM208.2 240.4a1.8 1.8 0 1 0 3.5 0a1.8 1.8 0 1 0 -3.5 0zM208.5 240.4a1.8 1.8 0 1 0 3.5 0a1.8 1.8 0 1 0 -3.5 0zM208.7 239.3a1.8 1.8 0 1 0 3.5 0a1.8 1.8 0 1 0 -3.5 0zM209.1 238.4a1.8 1.8 0 1 0 3.5 0a1.8 1.8 0 1 0 -3.5 0zM209.3 238.0a1.8 1.8 0 1 0 3.5 0a1.8 1.8 0 1 0 -3.5 0zM209.4 237.3a1.8 1.8 0 1 0 3.5 0a1.8 1.8 0 1 0 -3.5 0zM209.9 237.0a1.8 1.8 0 1 0 3.5 0a1.8 1.8 0 1 0 -3.5 0zM210.2 235.6a1.8 1.8 0 1 0 3.5 0a1.8 1.8 0 1 0 -3.5 0zM210.4 235.6a1.8 1.8 0 1 0 3.5 0a1.8 1.8 0 1 0 -3.5 0zM210.8 234.9a1.8 1.8 0 1 0 3.5 0a1.8 1.8 0 1 0 -3.5 0zM211.2 233.4a1.8 1.8 0 1 0 3.5 0a1.8 1.8 0 1 0 -3.5 0zM211.5 231.6a1.8 1.8 0 1 0 3.5 0a1.8 1.8 0 1 0 -3.5 0zM211.8 231.7a1.8 1.8 0 1 0 3.5 0a1.8 1.8 0 1 0 -3.5 0zM212.3 230.8a1.8 1.8 0 1 0 3.5 0a1.8 1.8 0 1 0 -3.5 0zM212.2 230.7a1.8 1.8 0 1 0 3.5 0a1.8 1.8 0 1 0 -3.5 0zM212.5 229.0a1.8 1.8 0 1 0 3.5 0a1.8 1.8 0 1 0 -3.5 0zM212.7 228.7a1.8 1.8 0 1 0 3.5 0a1.8 1.8 0 1 0 -3.5 0zM213.1 227.7a1.8 1.8 0 1 0 3.5 0a1.8 1.8 0 1 0 -3.5 0zM213.7 227.5a1.8 1.8 0 1 0 3.5 0a1.8 1.8 0 1 0 -3.5 0zM214.1 226.6a1.8 1.8 0 1 0 3.5 0a1.8 1.8 0 1 0 -3.5 0zM214.0 225.5a1.8 1.8 0 1 0 3.5 0a1.8 1.8 0 1 0 -3.5 0zM214.5 224.6a1.8 1.8 0 1 0 3.5 0a1.8 1.8 0 1 0 -3.5 0zM214.7 224.0a1.8 1.8 0 1 0 3.5 0a1.8 1.8 0 1 0 -3.5 0zM215.0 222.9a1.8 1.8 0 1 0 3.5 0a1.8 1.8 0 1 0 -3.5 0zM215.2 222.1a1.8 1.8 0 1 0 3.5 0a1.8 1.8 0 1 0 -3.5 0zM215.6 221.4a1.8 1.8 0 1 0 3.5 0a1.8 1.8 0 1 0 -3.5 0zM215.9 220.7a1.8 1.8 0 1 0 3.5 0a1.8 1.8 0 1 0 -3.5 0zM216.3 219.8a1.8 1.8 0 1 0 3.5 0a1.8 1.8 0 1 0 -3.5 0zM216.5 219.5a1.8 1.8 0 1 0 3.5 0a1.8 1.8 0 1 0 -3.5 0zM216.9 218.1a1.8 1.8 0 1 0 3.5 0a1.8 1.8 0 1 0 -3.5 0zM217.1 217.4a1.8 1.8 0 1 0 3.5 0a1.8 1.8 0 1 0 -3.5 0zM217.4 216.8a1.8 1.8 0 1 0 3.5 0a1.8 1.8 0 1 0 -3.5 0zM217.4 215.9a1.8 1.8 0 1 0 3.5 0a1.8 1.8 0 1 0 -3.5 0zM218.0 214.5a1.8 1.8 0 1 0 3.5 0a1.8 1.8 0 1 0 -3.5 0zM218.2 213.8a1.8 1.8 0 1 0 3.5 0a1.8 1.8 0 1 0 -3.5 0zM218.6 212.9a1.8 1.8 0 1 0 3.5 0a1.8 1.8 0 1 0 -3.5 0zM218.7 211.8a1.8 1.8 0 1 0 3.5 0a1.8 1.8 0 1 0 -3.5 0zM219.0 211.3a1.8 1.8 0 1 0 3.5 0a1.8 1.8 0 1 0 -3.5 0zM219.5 210.6a1.8 1.8 0 1 0 3.5 0a1.8 1.8 0 1 0 -3.5 0zM219.9 210.1a1.8 1.8 0 1 0 3.5 0a1.8 1.8 0 1 0 -3.5 0zM220.2 208.9a1.8 1.8 0 1 0 3.5 0a1.8 1.8 0 1 0 -3.5 0zM220.4 208.4a1.8 1.8 0 1 0 3.5 0a1.8 1.8 0 1 0 -3.5 0zM220.9 207.4a1.8 1.8 0 1 0 3.5 0a1.8 1.8 0 1 0 -3.5 0zM220.8 206.5a1.8 1.8 0 1 0 3.5 0a1.8 1.8 0 1 0 -3.5 0zM221.4 205.9a1.8 1.8 0 1 0 3.5 0a1.8 1.8 0 1 0 -3.5 0zM221.7 205.6a1.8 1.8 0 1 0 3.5 0a1.8 1.8 0 1 0 -3.5 0zM222.1 204.1a1.8 1.8 0 1 0 3.5 0a1.8 1.8 0 1 0 -3.5 0zM222.3 203.4a1.8 1.8 0 1 0 3.5 0a1.8 1.8 0 1 0 -3.5 0zM222.6 203.2a1.8 1.8 0 1 0 3.5 0a1.8 1.8 0 1 0 -3.5 0zM222.9 201.7a1.8 1.8 0 1 0 3.5 0a1.8 1.8 0 1 0 -3.5 0zM223.0 200.8a1.8 1.8 0 1 0 3.5 0a1.8 1.8 0 1 0 -3.5 0zM223.4 199.4a1.8 1.8 0 1 0 3.5 0a1.8 1.8 0 1 0 -3.5 0zM223.8 199.6a1.8 1.8 0 1 0 3.5 0a1.8 1.8 0 1 0 -3.5 0zM223.9 197.5a1.8 1.8 0 1 0 3.5 0a1.8 1.8 0 1 0 -3.5 0zM224.4 197.2a1.8 1.8 0 1 0 3.5 0a1.8 1.8 0 1 0 -3.5 0zM224.7 196.7a1.8 1.8 0 1 0 3.5 0a1.8 1.8 0 1 0 -3.5 0zM224.9 195.0a1.8 1.8 0 1 0 3.5 0a1.8 1.8 0 1 0 -3.5 0zM225.2 195.3a1.8 1.8 0 1 0 3.5 0a1.8 1.8 0 1 0 -3.5 0zM225.5 193.6a1.8 1.8 0 1 0 3.5 0a1.8 1.8 0 1 0 -3.5 0zM226.0 192.1a1.8 1.8 0 1 0 3.5 0a1.8 1.8 0 1 0 -3.5 0zM226.2 191.3a1.8 1.8 0 1 0 3.5 0a1.8 1.8 0 1 0 -3.5 0zM226.5 190.3a1.8 1.8 0 1 0 3.5 0a1.8 1.8 0 1 0 -3.5 0zM226.4 190.5a1.8 1.8 0 1 0 3.5 0a1.8 1.8 0 1 0 -3.5 0zM227.1 189.5a1.8 1.8 0 1 0 3.5 0a1.8 1.8 0 1 0 -3.5 0zM227.2 188.7a1.8 1.8 0 1 0 3.5 0a1.8 1.8 0 1 0 -3.5 0zM227.5 187.7a1.8 1.8 0 1 0 3.5 0a1.8 1.8 0 1 0 -3.5 0zM227.9 186.4a1.8 1.8 0 1 0 3.5 0a1.8 1.8 0 1 0 -3.5 0zM228.2 187.3a1.8 1.8 0 1 0 3.5 0a1.8 1.8 0 1 0 -3.5 0zM228.7 186.5a1.8 1.8 0 1 0 3.5 0a1.8 1.8 0 1 0 -3.5 0zM229.1 185.5a1.8 1.8 0 1 0 3.5 0a1.8 1.8 0 1 0 -3.5 0zM229.2 186.2a1.8 1.8 0 1 0 3.5 0a1.8 1.8 0 1 0 -3.5 0zM229.3 185.1a1.8 1.8 0 1 0 3.5 0a1.8 1.8 0 1 0 -3.5 0zM229.7 185.4a1.8 1.8 0 1 0 3.5 0a1.8 1.8 0 1 0 -3.5 0zM230.1 184.9a1.8 1.8 0 1 0 3.5 0a1.8 1.8 0 1 0 -3.5 0zM230.4 185.0a1.8 1.8 0 1 0 3.5 0a1.8 1.8 0 1 0 -3.5 0zM230.7 185.0a1.8 1.8 0 1 0 3.5 0a1.8 1.8 0 1 0 -3.5 0zM231.0 185.1a1.8 1.8 0 1 0 3.5 0a1.8 1.8 0 1 0 -3.5 0zM231.2 185.5a1.8 1.8 0 1 0 3.5 0a1.8 1.8 0 1 0 -3.5 0zM231.5 185.4a1.8 1.8 0 1 0 3.5 0a1.8 1.8 0 1 0 -3.5 0zM231.8 186.4a1.8 1.8 0 1 0 3.5 0a1.8 1.8 0 1 0 -3.5 0zM232.0 186.9a1.8 1.8 0 1 0 3.5 0a1.8 1.8 0 1 0 -3.5 0zM232.2 188.1a1.8 1.8 0 1 0 3.5 0a1.8 1.8 0 1 0 -3.5 0zM233.0 188.5a1.8 1.8 0 1 0 3.5 0a1.8 1.8 0 1 0 -3.5 0zM232.9 189.4a1.8 1.8 0 1 0 3.5 0a1.8 1.8 0 1 0 -3.5 0zM233.0 191.1a1.8 1.8 0 1 0 3.5 0a1.8 1.8 0 1 0 -3.5 0zM233.6 192.2a1.8 1.8 0 1 0 3.5 0a1.8 1.8 0 1 0 -3.5 0zM233.9 193.2a1.8 1.8 0 1 0 3.5 0a1.8 1.8 0 1 0 -3.5 0zM234.1 195.8a1.8 1.8 0 1 0 3.5 0a1.8 1.8 0 1 0 -3.5 0zM234.5 195.4a1.8 1.8 0 1 0 3.5 0a1.8 1.8 0 1 0 -3.5 0zM235.0 197.5a1.8 1.8 0 1 0 3.5 0a1.8 1.8 0 1 0 -3.5 0zM235.3 198.0a1.8 1.8 0 1 0 3.5 0a1.8 1.8 0 1 0 -3.5 0zM235.3 200.3a1.8 1.8 0 1 0 3.5 0a1.8 1.8 0 1 0 -3.5 0zM235.6 200.6a1.8 1.8 0 1 0 3.5 0a1.8 1.8 0 1 0 -3.5 0zM236.0 202.5a1.8 1.8 0 1 0 3.5 0a1.8 1.8 0 1 0 -3.5 0zM236.4 204.1a1.8 1.8 0 1 0 3.5 0a1.8 1.8 0 1 0 -3.5 0zM236.7 205.2a1.8 1.8 0 1 0 3.5 0a1.8 1.8 0 1 0 -3.5 0zM237.0 206.2a1.8 1.8 0 1 0 3.5 0a1.8 1.8 0 1 0 -3.5 0zM237.4 207.0a1.8 1.8 0 1 0 3.5 0a1.8 1.8 0 1 0 -3.5 0zM237.4 209.3a1.8 1.8 0 1 0 3.5 0a1.8 1.8 0 1 0 -3.5 0zM237.6 210.2a1.8 1.8 0 1 0 3.5 0a1.8 1.8 0 1 0 -3.5 0zM238.0 210.8a1.8 1.8 0 1 0 3.5 0a1.8 1.8 0 1 0 -3.5 0zM238.3 212.4a1.8 1.8 0 1 0 3.5 0a1.8 1.8 0 1 0 -3.5 0zM238.9 214.5a1.8 1.8 0 1 0 3.5 0a1.8 1.8 0 1 0 -3.5 0zM238.9 215.3a1.8 1.8 0 1 0 3.5 0a1.8 1.8 0 1 0 -3.5 0zM239.5 216.1a1.8 1.8 0 1 0 3.5 0a1.8 1.8 0 1 0 -3.5 0zM239.4 217.8a1.8 1.8 0 1 0 3.5 0a1.8 1.8 0 1 0 -3.5 0zM240.1 219.2a1.8 1.8 0 1 0 3.5 0a1.8 1.8 0 1 0 -3.5 0zM240.1 221.4a1.8 1.8 0 1 0 3.5 0a1.8 1.8 0 1 0 -3.5 0zM240.8 222.2a1.8 1.8 0 1 0 3.5 0a1.8 1.8 0 1 0 -3.5 0zM241.1 223.7a1.8 1.8 0 1 0 3.5 0a1.8 1.8 0 1 0 -3.5 0zM241.1 225.6a1.8 1.8 0 1 0 3.5 0a1.8 1.8 0 1 0 -3.5 0zM241.2 226.9a1.8 1.8 0 1 0 3.5 0a1.8 1.8 0 1 0 -3.5 0zM241.6 227.9a1.8 1.8 0 1 0 3.5 0a1.8 1.8 0 1 0 -3.5 0zM242.4 229.1a1.8 1.8 0 1 0 3.5 0a1.8 1.8 0 1 0 -3.5 0zM242.4 230.6a1.8 1.8 0 1 0 3.5 0a1.8 1.8 0 1 0 -3.5 0zM242.5 232.1a1.8 1.8 0 1 0 3.5 0a1.8 1.8 0 1 0 -3.5 0zM243.0 232.2a1.8 1.8 0 1 0 3.5 0a1.8 1.8 0 1 0 -3.5 0zM243.1 234.2a1.8 1.8 0 1 0 3.5 0a1.8 1.8 0 1 0 -3.5 0zM243.8 234.7a1.8 1.8 0 1 0 3.5 0a1.8 1.8 0 1 0 -3.5 0zM244.0 234.8a1.8 1.8 0 1 0 3.5 0a1.8 1.8 0 1 0 -3.5 0zM244.1 236.4a1.8 1.8 0 1 0 3.5 0a1.8 1.8 0 1 0 -3.5 0zM244.3 236.9a1.8 1.8 0 1 0 3.5 0a1.8 1.8 0 1 0 -3.5 0zM244.7 237.8a1.8 1.8 0 1 0 3.5 0a1.8 1.8 0 1 0 -3.5 0zM245.0 238.3a1.8 1.8 0 1 0 3.5 0a1.8 1.8 0 1 0 -3.5 0zM245.4 240.0a1.8 1.8 0 1 0 3.5 0a1.8 1.8 0 1 0 -3.5 0zM245.6 240.4a1.8 1.8 0 1 0 3.5 0a1.8 1.8 0 1 0 -3.5 0zM245.9 240.5a1.8 1.8 0 1 0 3.5 0a1.8 1.8 0 1 0 -3.5 0zM246.4 241.5a1.8 1.8 0 1 0 3.5 0a1.8 1.8 0 1 0 -3.5 0zM246.6 241.4a1.8 1.8 0 1 0 3.5 0a1.8 1.8 0 1 0 -3.5 0zM246.9 241.8a1.8 1.8 0 1 0 3.5 0a1.8 1.8 0 1 0 -3.5 0zM247.3 243.2a1.8 1.8 0 1 0 3.5 0a1.8 1.8 0 1 0 -3.5 0zM247.5 243.0a1.8 1.8 0 1 0 3.5 0a1.8 1.8 0 1 0 -3.5 0zM247.6 243.9a1.8 1.8 0 1 0 3.5 0a1.8 1.8 0 1 0 -3.5 0zM248.2 244.0a1.8 1.8 0 1 0 3.5 0a1.8 1.8 0 1 0 -3.5 0zM248.3 244.1a1.8 1.8 0 1 0 3.5 0a1.8 1.8 0 1 0 -3.5 0zM248.6 245.3a1.8 1.8 0 1 0 3.5 0a1.8 1.8 0 1 0 -3.5 0zM248.8 246.4a1.8 1.8 0 1 0 3.5 0a1.8 1.8 0 1 0 -3.5 0zM249.4 246.2a1.8 1.8 0 1 0 3.5 0a1.8 1.8 0 1 0 -3.5 0zM249.5 246.2a1.8 1.8 0 1 0 3.5 0a1.8 1.8 0 1 0 -3.5 0zM249.8 246.6a1.8 1.8 0 1 0 3.5 0a1.8 1.8 0 1 0 -3.5 0zM250.0 247.2a1.8 1.8 0 1 0 3.5 0a1.8 1.8 0 1 0 -3.5 0zM250.2 249.1a1.8 1.8 0 1 0 3.5 0a1.8 1.8 0 1 0 -3.5 0zM250.6 248.0a1.8 1.8 0 1 0 3.5 0a1.8 1.8 0 1 0 -3.5 0zM250.7 248.4a1.8 1.8 0 1 0 3.5 0a1.8 1.8 0 1 0 -3.5 0zM251.3 248.8a1.8 1.8 0 1 0 3.5 0a1.8 1.8 0 1 0 -3.5 0zM251.5 249.3a1.8 1.8 0 1 0 3.5 0a1.8 1.8 0 1 0 -3.5 0zM251.8 249.8a1.8 1.8 0 1 0 3.5 0a1.8 1.8 0 1 0 -3.5 0zM252.1 249.6a1.8 1.8 0 1 0 3.5 0a1.8 1.8 0 1 0 -3.5 0zM252.2 250.4a1.8 1.8 0 1 0 3.5 0a1.8 1.8 0 1 0 -3.5 0zM252.3 250.7a1.8 1.8 0 1 0 3.5 0a1.8 1.8 0 1 0 -3.5 0zM252.9 250.9a1.8 1.8 0 1 0 3.5 0a1.8 1.8 0 1 0 -3.5 0zM253.1 250.4a1.8 1.8 0 1 0 3.5 0a1.8 1.8 0 1 0 -3.5 0zM253.3 250.7a1.8 1.8 0 1 0 3.5 0a1.8 1.8 0 1 0 -3.5 0zM253.5 251.0a1.8 1.8 0 1 0 3.5 0a1.8 1.8 0 1 0 -3.5 0zM254.0 251.5a1.8 1.8 0 1 0 3.5 0a1.8 1.8 0 1 0 -3.5 0zM253.9 252.0a1.8 1.8 0 1 0 3.5 0a1.8 1.8 0 1 0 -3.5 0zM254.4 252.1a1.8 1.8 0 1 0 3.5 0a1.8 1.8 0 1 0 -3.5 0zM254.6 253.0a1.8 1.8 0 1 0 3.5 0a1.8 1.8 0 1 0 -3.5 0zM254.7 253.5a1.8 1.8 0 1 0 3.5 0a1.8 1.8 0 1 0 -3.5 0zM255.3 252.8a1.8 1.8 0 1 0 3.5 0a1.8 1.8 0 1 0 -3.5 0zM255.4 252.6a1.8 1.8 0 1 0 3.5 0a1.8 1.8 0 1 0 -3.5 0zM255.5 253.9a1.8 1.8 0 1 0 3.5 0a1.8 1.8 0 1 0 -3.5 0zM255.8 253.5a1.8 1.8 0 1 0 3.5 0a1.8 1.8 0 1 0 -3.5 0zM255.9 253.8a1.8 1.8 0 1 0 3.5 0a1.8 1.8 0 1 0 -3.5 0zM256.3 254.4a1.8 1.8 0 1 0 3.5 0a1.8 1.8 0 1 0 -3.5 0zM256.7 254.9a1.8 1.8 0 1 0 3.5 0a1.8 1.8 0 1 0 -3.5 0zM256.6 254.9a1.8 1.8 0 1 0 3.5 0a1.8 1.8 0 1 0 -3.5 0zM256.9 254.3a1.8 1.8 0 1 0 3.5 0a1.8 1.8 0 1 0 -3.5 0zM257.4 255.0a1.8 1.8 0 1 0 3.5 0a1.8 1.8 0 1 0 -3.5 0zM257.5 255.7a1.8 1.8 0 1 0 3.5 0a1.8 1.8 0 1 0 -3.5 0zM257.5 256.4a1.8 1.8 0 1 0 3.5 0a1.8 1.8 0 1 0 -3.5 0zM258.0 255.8a1.8 1.8 0 1 0 3.5 0a1.8 1.8 0 1 0 -3.5 0zM258.2 256.5a1.8 1.8 0 1 0 3.5 0a1.8 1.8 0 1 0 -3.5 0zM258.4 256.5a1.8 1.8 0 1 0 3.5 0a1.8 1.8 0 1 0 -3.5 0zM258.5 255.9a1.8 1.8 0 1 0 3.5 0a1.8 1.8 0 1 0 -3.5 0zM258.8 256.8a1.8 1.8 0 1 0 3.5 0a1.8 1.8 0 1 0 -3.5 0zM259.1 256.7a1.8 1.8 0 1 0 3.5 0a1.8 1.8 0 1 0 -3.5 0zM259.7 256.3a1.8 1.8 0 1 0 3.5 0a1.8 1.8 0 1 0 -3.5 0zM259.8 257.9a1.8 1.8 0 1 0 3.5 0a1.8 1.8 0 1 0 -3.5 0zM260.0 256.3a1.8 1.8 0 1 0 3.5 0a1.8 1.8 0 1 0 -3.5 0zM260.1 257.2a1.8 1.8 0 1 0 3.5 0a1.8 1.8 0 1 0 -3.5 0zM260.4 258.1a1.8 1.8 0 1 0 3.5 0a1.8 1.8 0 1 0 -3.5 0zM260.4 258.7a1.8 1.8 0 1 0 3.5 0a1.8 1.8 0 1 0 -3.5 0zM260.7 257.5a1.8 1.8 0 1 0 3.5 0a1.8 1.8 0 1 0 -3.5 0zM260.7 257.1a1.8 1.8 0 1 0 3.5 0a1.8 1.8 0 1 0 -3.5 0zM261.4 257.0a1.8 1.8 0 1 0 3.5 0a1.8 1.8 0 1 0 -3.5 0zM261.6 258.9a1.8 1.8 0 1 0 3.5 0a1.8 1.8 0 1 0 -3.5 0zM261.4 257.5a1.8 1.8 0 1 0 3.5 0a1.8 1.8 0 1 0 -3.5 0zM261.6 259.4a1.8 1.8 0 1 0 3.5 0a1.8 1.8 0 1 0 -3.5 0zM261.9 258.3a1.8 1.8 0 1 0 3.5 0a1.8 1.8 0 1 0 -3.5 0zM262.5 258.5a1.8 1.8 0 1 0 3.5 0a1.8 1.8 0 1 0 -3.5 0zM262.4 258.4a1.8 1.8 0 1 0 3.5 0a1.8 1.8 0 1 0 -3.5 0zM263.1 259.6a1.8 1.8 0 1 0 3.5 0a1.8 1.8 0 1 0 -3.5 0zM262.9 258.4a1.8 1.8 0 1 0 3.5 0a1.8 1.8 0 1 0 -3.5 0zM262.9 259.9a1.8 1.8 0 1 0 3.5 0a1.8 1.8 0 1 0 -3.5 0zM263.1 259.7a1.8 1.8 0 1 0 3.5 0a1.8 1.8 0 1 0 -3.5 0zM263.6 258.2a1.8 1.8 0 1 0 3.5 0a1.8 1.8 0 1 0 -3.5 0zM263.6 260.6a1.8 1.8 0 1 0 3.5 0a1.8 1.8 0 1 0 -3.5 0zM263.9 261.0a1.8 1.8 0 1 0 3.5 0a1.8 1.8 0 1 0 -3.5 0zM264.1 260.5a1.8 1.8 0 1 0 3.5 0a1.8 1.8 0 1 0 -3.5 0zM264.5 261.2a1.8 1.8 0 1 0 3.5 0a1.8 1.8 0 1 0 -3.5 0zM264.4 260.8a1.8 1.8 0 1 0 3.5 0a1.8 1.8 0 1 0 -3.5 0zM264.8 260.2a1.8 1.8 0 1 0 3.5 0a1.8 1.8 0 1 0 -3.5 0zM264.7 261.4a1.8 1.8 0 1 0 3.5 0a1.8 1.8 0 1 0 -3.5 0zM265.1 261.3a1.8 1.8 0 1 0 3.5 0a1.8 1.8 0 1 0 -3.5 0zM265.4 260.7a1.8 1.8 0 1 0 3.5 0a1.8 1.8 0 1 0 -3.5 0zM265.4 262.7a1.8 1.8 0 1 0 3.5 0a1.8 1.8 0 1 0 -3.5 0zM265.7 260.4a1.8 1.8 0 1 0 3.5 0a1.8 1.8 0 1 0 -3.5 0zM266.2 263.0a1.8 1.8 0 1 0 3.5 0a1.8 1.8 0 1 0 -3.5 0zM266.2 261.8a1.8 1.8 0 1 0 3.5 0a1.8 1.8 0 1 0 -3.5 0zM266.6 260.9a1.8 1.8 0 1 0 3.5 0a1.8 1.8 0 1 0 -3.5 0zM266.3 262.9a1.8 1.8 0 1 0 3.5 0a1.8 1.8 0 1 0 -3.5 0zM266.8 262.2a1.8 1.8 0 1 0 3.5 0a1.8 1.8 0 1 0 -3.5 0zM266.9 261.9a1.8 1.8 0 1 0 3.5 0a1.8 1.8 0 1 0 -3.5 0zM267.2 262.1a1.8 1.8 0 1 0 3.5 0a1.8 1.8 0 1 0 -3.5 0zM267.4 264.1a1.8 1.8 0 1 0 3.5 0a1.8 1.8 0 1 0 -3.5 0zM267.6 261.8a1.8 1.8 0 1 0 3.5 0a1.8 1.8 0 1 0 -3.5 0zM267.9 264.1a1.8 1.8 0 1 0 3.5 0a1.8 1.8 0 1 0 -3.5 0zM267.7 263.1a1.8 1.8 0 1 0 3.5 0a1.8 1.8 0 1 0 -3.5 0zM268.0 263.9a1.8 1.8 0 1 0 3.5 0a1.8 1.8 0 1 0 -3.5 0zM268.1 263.9a1.8 1.8 0 1 0 3.5 0a1.8 1.8 0 1 0 -3.5 0zM268.6 263.2a1.8 1.8 0 1 0 3.5 0a1.8 1.8 0 1 0 -3.5 0zM268.6 262.6a1.8 1.8 0 1 0 3.5 0a1.8 1.8 0 1 0 -3.5 0zM268.7 264.4a1.8 1.8 0 1 0 3.5 0a1.8 1.8 0 1 0 -3.5 0zM269.0 264.1a1.8 1.8 0 1 0 3.5 0a1.8 1.8 0 1 0 -3.5 0zM269.4 263.9a1.8 1.8 0 1 0 3.5 0a1.8 1.8 0 1 0 -3.5 0zM269.4 263.0a1.8 1.8 0 1 0 3.5 0a1.8 1.8 0 1 0 -3.5 0zM269.7 265.3a1.8 1.8 0 1 0 3.5 0a1.8 1.8 0 1 0 -3.5 0zM269.9 263.1a1.8 1.8 0 1 0 3.5 0a1.8 1.8 0 1 0 -3.5 0zM270.0 264.8a1.8 1.8 0 1 0 3.5 0a1.8 1.8 0 1 0 -3.5 0zM270.5 264.4a1.8 1.8 0 1 0 3.5 0a1.8 1.8 0 1 0 -3.5 0zM270.3 264.6a1.8 1.8 0 1 0 3.5 0a1.8 1.8 0 1 0 -3.5 0zM270.7 265.8a1.8 1.8 0 1 0 3.5 0a1.8 1.8 0 1 0 -3.5 0zM271.0 263.3a1.8 1.8 0 1 0 3.5 0a1.8 1.8 0 1 0 -3.5 0zM270.7 264.3a1.8 1.8 0 1 0 3.5 0a1.8 1.8 0 1 0 -3.5 0zM271.1 264.0a1.8 1.8 0 1 0 3.5 0a1.8 1.8 0 1 0 -3.5 0zM271.1 266.0a1.8 1.8 0 1 0 3.5 0a1.8 1.8 0 1 0 -3.5 0zM271.5 265.6a1.8 1.8 0 1 0 3.5 0a1.8 1.8 0 1 0 -3.5 0zM271.5 264.4a1.8 1.8 0 1 0 3.5 0a1.8 1.8 0 1 0 -3.5 0zM271.6 266.2a1.8 1.8 0 1 0 3.5 0a1.8 1.8 0 1 0 -3.5 0zM272.2 264.9a1.8 1.8 0 1 0 3.5 0a1.8 1.8 0 1 0 -3.5 0zM272.3 266.9a1.8 1.8 0 1 0 3.5 0a1.8 1.8 0 1 0 -3.5 0zM272.3 265.0a1.8 1.8 0 1 0 3.5 0a1.8 1.8 0 1 0 -3.5 0zM272.6 267.2a1.8 1.8 0 1 0 3.5 0a1.8 1.8 0 1 0 -3.5 0zM272.6 265.8a1.8 1.8 0 1 0 3.5 0a1.8 1.8 0 1 0 -3.5 0zM272.9 266.7a1.8 1.8 0 1 0 3.5 0a1.8 1.8 0 1 0 -3.5 0zM273.0 265.9a1.8 1.8 0 1 0 3.5 0a1.8 1.8 0 1 0 -3.5 0zM273.3 264.7a1.8 1.8 0 1 0 3.5 0a1.8 1.8 0 1 0 -3.5 0zM273.5 265.9a1.8 1.8 0 1 0 3.5 0a1.8 1.8 0 1 0 -3.5 0zM273.7 266.6a1.8 1.8 0 1 0 3.5 0a1.8 1.8 0 1 0 -3.5 0zM273.7 265.0a1.8 1.8 0 1 0 3.5 0a1.8 1.8 0 1 0 -3.5 0zM273.9 265.9a1.8 1.8 0 1 0 3.5 0a1.8 1.8 0 1 0 -3.5 0zM274.3 268.2a1.8 1.8 0 1 0 3.5 0a1.8 1.8 0 1 0 -3.5 0zM274.2 267.5a1.8 1.8 0 1 0 3.5 0a1.8 1.8 0 1 0 -3.5 0zM274.7 265.8a1.8 1.8 0 1 0 3.5 0a1.8 1.8 0 1 0 -3.5 0zM274.9 266.3a1.8 1.8 0 1 0 3.5 0a1.8 1.8 0 1 0 -3.5 0zM275.2 267.3a1.8 1.8 0 1 0 3.5 0a1.8 1.8 0 1 0 -3.5 0zM275.2 267.4a1.8 1.8 0 1 0 3.5 0a1.8 1.8 0 1 0 -3.5 0zM275.4 265.8a1.8 1.8 0 1 0 3.5 0a1.8 1.8 0 1 0 -3.5 0zM275.8 267.7a1.8 1.8 0 1 0 3.5 0a1.8 1.8 0 1 0 -3.5 0zM275.6 265.7a1.8 1.8 0 1 0 3.5 0a1.8 1.8 0 1 0 -3.5 0zM276.0 268.3a1.8 1.8 0 1 0 3.5 0a1.8 1.8 0 1 0 -3.5 0zM276.1 267.7a1.8 1.8 0 1 0 3.5 0a1.8 1.8 0 1 0 -3.5 0zM276.1 269.2a1.8 1.8 0 1 0 3.5 0a1.8 1.8 0 1 0 -3.5 0zM276.6 268.2a1.8 1.8 0 1 0 3.5 0a1.8 1.8 0 1 0 -3.5 0zM276.7 266.9a1.8 1.8 0 1 0 3.5 0a1.8 1.8 0 1 0 -3.5 0zM276.7 267.6a1.8 1.8 0 1 0 3.5 0a1.8 1.8 0 1 0 -3.5 0zM276.8 267.2a1.8 1.8 0 1 0 3.5 0a1.8 1.8 0 1 0 -3.5 0zM277.3 267.8a1.8 1.8 0 1 0 3.5 0a1.8 1.8 0 1 0 -3.5 0zM277.4 268.8a1.8 1.8 0 1 0 3.5 0a1.8 1.8 0 1 0 -3.5 0zM277.4 267.4a1.8 1.8 0 1 0 3.5 0a1.8 1.8 0 1 0 -3.5 0zM277.9 267.4a1.8 1.8 0 1 0 3.5 0a1.8 1.8 0 1 0 -3.5 0zM277.9 269.1a1.8 1.8 0 1 0 3.5 0a1.8 1.8 0 1 0 -3.5 0zM278.4 270.2a1.8 1.8 0 1 0 3.5 0a1.8 1.8 0 1 0 -3.5 0zM278.6 269.0a1.8 1.8 0 1 0 3.5 0a1.8 1.8 0 1 0 -3.5 0zM278.3 268.7a1.8 1.8 0 1 0 3.5 0a1.8 1.8 0 1 0 -3.5 0zM279.0 270.7a1.8 1.8 0 1 0 3.5 0a1.8 1.8 0 1 0 -3.5 0zM278.8 269.3a1.8 1.8 0 1 0 3.5 0a1.8 1.8 0 1 0 -3.5 0zM279.3 268.8a1.8 1.8 0 1 0 3.5 0a1.8 1.8 0 1 0 -3.5 0zM279.3 268.2a1.8 1.8 0 1 0 3.5 0a1.8 1.8 0 1 0 -3.5 0zM279.5 269.6a1.8 1.8 0 1 0 3.5 0a1.8 1.8 0 1 0 -3.5 0zM279.6 267.9a1.8 1.8 0 1 0 3.5 0a1.8 1.8 0 1 0 -3.5 0zM279.7 271.0a1.8 1.8 0 1 0 3.5 0a1.8 1.8 0 1 0 -3.5 0zM280.1 269.3a1.8 1.8 0 1 0 3.5 0a1.8 1.8 0 1 0 -3.5 0zM280.0 270.5a1.8 1.8 0 1 0 3.5 0a1.8 1.8 0 1 0 -3.5 0zM280.3 268.8a1.8 1.8 0 1 0 3.5 0a1.8 1.8 0 1 0 -3.5 0zM280.4 270.0a1.8 1.8 0 1 0 3.5 0a1.8 1.8 0 1 0 -3.5 0zM280.8 270.7a1.8 1.8 0 1 0 3.5 0a1.8 1.8 0 1 0 -3.5 0zM281.1 268.2a1.8 1.8 0 1 0 3.5 0a1.8 1.8 0 1 0 -3.5 0zM281.1 268.0a1.8 1.8 0 1 0 3.5 0a1.8 1.8 0 1 0 -3.5 0zM281.3 270.9a1.8 1.8 0 1 0 3.5 0a1.8 1.8 0 1 0 -3.5 0zM281.7 268.5a1.8 1.8 0 1 0 3.5 0a1.8 1.8 0 1 0 -3.5 0zM281.9 268.3a1.8 1.8 0 1 0 3.5 0a1.8 1.8 0 1 0 -3.5 0zM282.0 271.0a1.8 1.8 0 1 0 3.5 0a1.8 1.8 0 1 0 -3.5 0zM282.1 268.8a1.8 1.8 0 1 0 3.5 0a1.8 1.8 0 1 0 -3.5 0zM282.2 269.3a1.8 1.8 0 1 0 3.5 0a1.8 1.8 0 1 0 -3.5 0zM282.4 271.8a1.8 1.8 0 1 0 3.5 0a1.8 1.8 0 1 0 -3.5 0zM282.5 269.0a1.8 1.8 0 1 0 3.5 0a1.8 1.8 0 1 0 -3.5 0zM283.0 269.3a1.8 1.8 0 1 0 3.5 0a1.8 1.8 0 1 0 -3.5 0zM283.1 268.9a1.8 1.8 0 1 0 3.5 0a1.8 1.8 0 1 0 -3.5 0zM283.4 270.2a1.8 1.8 0 1 0 3.5 0a1.8 1.8 0 1 0 -3.5 0zM283.5 268.8a1.8 1.8 0 1 0 3.5 0a1.8 1.8 0 1 0 -3.5 0zM283.8 270.1a1.8 1.8 0 1 0 3.5 0a1.8 1.8 0 1 0 -3.5 0zM283.9 271.1a1.8 1.8 0 1 0 3.5 0a1.8 1.8 0 1 0 -3.5 0zM284.0 271.9a1.8 1.8 0 1 0 3.5 0a1.8 1.8 0 1 0 -3.5 0zM283.9 270.2a1.8 1.8 0 1 0 3.5 0a1.8 1.8 0 1 0 -3.5 0zM284.2 271.6a1.8 1.8 0 1 0 3.5 0a1.8 1.8 0 1 0 -3.5 0zM284.7 270.4a1.8 1.8 0 1 0 3.5 0a1.8 1.8 0 1 0 -3.5 0zM285.0 269.3a1.8 1.8 0 1 0 3.5 0a1.8 1.8 0 1 0 -3.5 0zM284.7 269.4a1.8 1.8 0 1 0 3.5 0a1.8 1.8 0 1 0 -3.5 0zM285.2 272.1a1.8 1.8 0 1 0 3.5 0a1.8 1.8 0 1 0 -3.5 0zM285.5 271.6a1.8 1.8 0 1 0 3.5 0a1.8 1.8 0 1 0 -3.5 0zM285.6 271.4a1.8 1.8 0 1 0 3.5 0a1.8 1.8 0 1 0 -3.5 0zM285.7 270.9a1.8 1.8 0 1 0 3.5 0a1.8 1.8 0 1 0 -3.5 0zM286.3 271.7a1.8 1.8 0 1 0 3.5 0a1.8 1.8 0 1 0 -3.5 0zM286.1 270.4a1.8 1.8 0 1 0 3.5 0a1.8 1.8 0 1 0 -3.5 0zM286.3 272.3a1.8 1.8 0 1 0 3.5 0a1.8 1.8 0 1 0 -3.5 0zM286.3 273.2a1.8 1.8 0 1 0 3.5 0a1.8 1.8 0 1 0 -3.5 0zM286.6 271.6a1.8 1.8 0 1 0 3.5 0a1.8 1.8 0 1 0 -3.5 0zM286.8 271.4a1.8 1.8 0 1 0 3.5 0a1.8 1.8 0 1 0 -3.5 0zM286.9 272.4a1.8 1.8 0 1 0 3.5 0a1.8 1.8 0 1 0 -3.5 0zM287.4 272.4a1.8 1.8 0 1 0 3.5 0a1.8 1.8 0 1 0 -3.5 0zM287.3 273.5a1.8 1.8 0 1 0 3.5 0a1.8 1.8 0 1 0 -3.5 0zM287.6 273.4a1.8 1.8 0 1 0 3.5 0a1.8 1.8 0 1 0 -3.5 0zM287.9 273.3a1.8 1.8 0 1 0 3.5 0a1.8 1.8 0 1 0 -3.5 0zM287.8 272.6a1.8 1.8 0 1 0 3.5 0a1.8 1.8 0 1 0 -3.5 0zM287.8 272.2a1.8 1.8 0 1 0 3.5 0a1.8 1.8 0 1 0 -3.5 0zM288.3 272.9a1.8 1.8 0 1 0 3.5 0a1.8 1.8 0 1 0 -3.5 0zM288.4 270.5a1.8 1.8 0 1 0 3.5 0a1.8 1.8 0 1 0 -3.5 0zM288.7 274.6a1.8 1.8 0 1 0 3.5 0a1.8 1.8 0 1 0 -3.5 0zM288.9 272.4a1.8 1.8 0 1 0 3.5 0a1.8 1.8 0 1 0 -3.5 0zM288.9 271.6a1.8 1.8 0 1 0 3.5 0a1.8 1.8 0 1 0 -3.5 0zM289.1 271.4a1.8 1.8 0 1 0 3.5 0a1.8 1.8 0 1 0 -3.5 0zM289.4 272.6a1.8 1.8 0 1 0 3.5 0a1.8 1.8 0 1 0 -3.5 0zM289.6 271.9a1.8 1.8 0 1 0 3.5 0a1.8 1.8 0 1 0 -3.5 0zM289.7 272.9a1.8 1.8 0 1 0 3.5 0a1.8 1.8 0 1 0 -3.5 0zM290.2 274.2a1.8 1.8 0 1 0 3.5 0a1.8 1.8 0 1 0 -3.5 0zM290.2 274.1a1.8 1.8 0 1 0 3.5 0a1.8 1.8 0 1 0 -3.5 0zM290.6 273.8a1.8 1.8 0 1 0 3.5 0a1.8 1.8 0 1 0 -3.5 0zM290.5 272.5a1.8 1.8 0 1 0 3.5 0a1.8 1.8 0 1 0 -3.5 0zM290.7 271.4a1.8 1.8 0 1 0 3.5 0a1.8 1.8 0 1 0 -3.5 0zM291.2 273.4a1.8 1.8 0 1 0 3.5 0a1.8 1.8 0 1 0 -3.5 0zM291.2 272.7a1.8 1.8 0 1 0 3.5 0a1.8 1.8 0 1 0 -3.5 0zM291.6 272.4a1.8 1.8 0 1 0 3.5 0a1.8 1.8 0 1 0 -3.5 0zM291.8 272.4a1.8 1.8 0 1 0 3.5 0a1.8 1.8 0 1 0 -3.5 0zM291.6 271.3a1.8 1.8 0 1 0 3.5 0a1.8 1.8 0 1 0 -3.5 0zM291.7 272.9a1.8 1.8 0 1 0 3.5 0a1.8 1.8 0 1 0 -3.5 0zM291.9 271.4a1.8 1.8 0 1 0 3.5 0a1.8 1.8 0 1 0 -3.5 0zM292.3 271.9a1.8 1.8 0 1 0 3.5 0a1.8 1.8 0 1 0 -3.5 0zM292.4 274.6a1.8 1.8 0 1 0 3.5 0a1.8 1.8 0 1 0 -3.5 0zM292.6 272.7a1.8 1.8 0 1 0 3.5 0a1.8 1.8 0 1 0 -3.5 0zM293.0 272.6a1.8 1.8 0 1 0 3.5 0a1.8 1.8 0 1 0 -3.5 0zM293.2 276.0a1.8 1.8 0 1 0 3.5 0a1.8 1.8 0 1 0 -3.5 0zM293.0 271.7a1.8 1.8 0 1 0 3.5 0a1.8 1.8 0 1 0 -3.5 0zM293.4 273.9a1.8 1.8 0 1 0 3.5 0a1.8 1.8 0 1 0 -3.5 0zM293.5 272.0a1.8 1.8 0 1 0 3.5 0a1.8 1.8 0 1 0 -3.5 0zM293.7 273.4a1.8 1.8 0 1 0 3.5 0a1.8 1.8 0 1 0 -3.5 0zM293.8 275.6a1.8 1.8 0 1 0 3.5 0a1.8 1.8 0 1 0 -3.5 0zM293.9 275.6a1.8 1.8 0 1 0 3.5 0a1.8 1.8 0 1 0 -3.5 0zM294.5 275.0a1.8 1.8 0 1 0 3.5 0a1.8 1.8 0 1 0 -3.5 0zM294.6 274.7a1.8 1.8 0 1 0 3.5 0a1.8 1.8 0 1 0 -3.5 0zM294.5 276.6a1.8 1.8 0 1 0 3.5 0a1.8 1.8 0 1 0 -3.5 0zM295.0 274.2a1.8 1.8 0 1 0 3.5 0a1.8 1.8 0 1 0 -3.5 0zM295.1 275.7a1.8 1.8 0 1 0 3.5 0a1.8 1.8 0 1 0 -3.5 0zM295.2 273.3a1.8 1.8 0 1 0 3.5 0a1.8 1.8 0 1 0 -3.5 0zM295.4 275.6a1.8 1.8 0 1 0 3.5 0a1.8 1.8 0 1 0 -3.5 0zM295.6 272.3a1.8 1.8 0 1 0 3.5 0a1.8 1.8 0 1 0 -3.5 0zM296.1 276.9a1.8 1.8 0 1 0 3.5 0a1.8 1.8 0 1 0 -3.5 0zM296.0 274.8a1.8 1.8 0 1 0 3.5 0a1.8 1.8 0 1 0 -3.5 0zM296.3 274.4a1.8 1.8 0 1 0 3.5 0a1.8 1.8 0 1 0 -3.5 0zM296.1 273.0a1.8 1.8 0 1 0 3.5 0a1.8 1.8 0 1 0 -3.5 0zM296.4 274.1a1.8 1.8 0 1 0 3.5 0a1.8 1.8 0 1 0 -3.5 0zM296.7 273.9a1.8 1.8 0 1 0 3.5 0a1.8 1.8 0 1 0 -3.5 0zM296.9 273.8a1.8 1.8 0 1 0 3.5 0a1.8 1.8 0 1 0 -3.5 0zM297.5 276.3a1.8 1.8 0 1 0 3.5 0a1.8 1.8 0 1 0 -3.5 0zM297.3 275.1a1.8 1.8 0 1 0 3.5 0a1.8 1.8 0 1 0 -3.5 0zM297.4 275.2a1.8 1.8 0 1 0 3.5 0a1.8 1.8 0 1 0 -3.5 0zM297.6 274.7a1.8 1.8 0 1 0 3.5 0a1.8 1.8 0 1 0 -3.5 0zM297.9 274.9a1.8 1.8 0 1 0 3.5 0a1.8 1.8 0 1 0 -3.5 0zM297.8 275.1a1.8 1.8 0 1 0 3.5 0a1.8 1.8 0 1 0 -3.5 0zM298.1 275.6a1.8 1.8 0 1 0 3.5 0a1.8 1.8 0 1 0 -3.5 0zM298.2 274.5a1.8 1.8 0 1 0 3.5 0a1.8 1.8 0 1 0 -3.5 0zM298.8 276.7a1.8 1.8 0 1 0 3.5 0a1.8 1.8 0 1 0 -3.5 0zM298.9 275.8a1.8 1.8 0 1 0 3.5 0a1.8 1.8 0 1 0 -3.5 0zM299.0 276.6a1.8 1.8 0 1 0 3.5 0a1.8 1.8 0 1 0 -3.5 0zM299.4 275.4a1.8 1.8 0 1 0 3.5 0a1.8 1.8 0 1 0 -3.5 0zM299.4 277.7a1.8 1.8 0 1 0 3.5 0a1.8 1.8 0 1 0 -3.5 0zM299.5 273.6a1.8 1.8 0 1 0 3.5 0a1.8 1.8 0 1 0 -3.5 0zM299.8 275.1a1.8 1.8 0 1 0 3.5 0a1.8 1.8 0 1 0 -3.5 0zM300.1 276.6a1.8 1.8 0 1 0 3.5 0a1.8 1.8 0 1 0 -3.5 0zM300.0 276.3a1.8 1.8 0 1 0 3.5 0a1.8 1.8 0 1 0 -3.5 0zM300.5 273.4a1.8 1.8 0 1 0 3.5 0a1.8 1.8 0 1 0 -3.5 0zM300.4 274.6a1.8 1.8 0 1 0 3.5 0a1.8 1.8 0 1 0 -3.5 0zM300.4 275.0a1.8 1.8 0 1 0 3.5 0a1.8 1.8 0 1 0 -3.5 0zM300.9 275.2a1.8 1.8 0 1 0 3.5 0a1.8 1.8 0 1 0 -3.5 0zM301.0 275.2a1.8 1.8 0 1 0 3.5 0a1.8 1.8 0 1 0 -3.5 0zM301.0 276.5a1.8 1.8 0 1 0 3.5 0a1.8 1.8 0 1 0 -3.5 0zM301.3 277.2a1.8 1.8 0 1 0 3.5 0a1.8 1.8 0 1 0 -3.5 0zM301.7 274.7a1.8 1.8 0 1 0 3.5 0a1.8 1.8 0 1 0 -3.5 0zM302.0 278.1a1.8 1.8 0 1 0 3.5 0a1.8 1.8 0 1 0 -3.5 0zM302.0 276.5a1.8 1.8 0 1 0 3.5 0a1.8 1.8 0 1 0 -3.5 0zM302.2 277.9a1.8 1.8 0 1 0 3.5 0a1.8 1.8 0 1 0 -3.5 0zM302.3 276.7a1.8 1.8 0 1 0 3.5 0a1.8 1.8 0 1 0 -3.5 0zM302.4 275.7a1.8 1.8 0 1 0 3.5 0a1.8 1.8 0 1 0 -3.5 0zM302.5 276.6a1.8 1.8 0 1 0 3.5 0a1.8 1.8 0 1 0 -3.5 0zM303.0 277.6a1.8 1.8 0 1 0 3.5 0a1.8 1.8 0 1 0 -3.5 0zM302.9 277.3a1.8 1.8 0 1 0 3.5 0a1.8 1.8 0 1 0 -3.5 0zM303.4 275.0a1.8 1.8 0 1 0 3.5 0a1.8 1.8 0 1 0 -3.5 0zM303.9 278.2a1.8 1.8 0 1 0 3.5 0a1.8 1.8 0 1 0 -3.5 0zM303.6 277.5a1.8 1.8 0 1 0 3.5 0a1.8 1.8 0 1 0 -3.5 0zM304.0 274.3a1.8 1.8 0 1 0 3.5 0a1.8 1.8 0 1 0 -3.5 0zM304.1 274.4a1.8 1.8 0 1 0 3.5 0a1.8 1.8 0 1 0 -3.5 0zM304.1 277.0a1.8 1.8 0 1 0 3.5 0a1.8 1.8 0 1 0 -3.5 0zM304.3 276.5a1.8 1.8 0 1 0 3.5 0a1.8 1.8 0 1 0 -3.5 0zM304.7 275.7a1.8 1.8 0 1 0 3.5 0a1.8 1.8 0 1 0 -3.5 0zM304.7 275.0a1.8 1.8 0 1 0 3.5 0a1.8 1.8 0 1 0 -3.5 0zM305.0 273.6a1.8 1.8 0 1 0 3.5 0a1.8 1.8 0 1 0 -3.5 0zM305.2 277.5a1.8 1.8 0 1 0 3.5 0a1.8 1.8 0 1 0 -3.5 0zM305.4 278.7a1.8 1.8 0 1 0 3.5 0a1.8 1.8 0 1 0 -3.5 0zM305.5 276.2a1.8 1.8 0 1 0 3.5 0a1.8 1.8 0 1 0 -3.5 0zM305.9 278.4a1.8 1.8 0 1 0 3.5 0a1.8 1.8 0 1 0 -3.5 0zM305.7 274.9a1.8 1.8 0 1 0 3.5 0a1.8 1.8 0 1 0 -3.5 0zM306.3 277.5a1.8 1.8 0 1 0 3.5 0a1.8 1.8 0 1 0 -3.5 0zM306.4 276.9a1.8 1.8 0 1 0 3.5 0a1.8 1.8 0 1 0 -3.5 0zM306.4 278.5a1.8 1.8 0 1 0 3.5 0a1.8 1.8 0 1 0 -3.5 0zM306.9 279.6a1.8 1.8 0 1 0 3.5 0a1.8 1.8 0 1 0 -3.5 0zM306.9 280.3a1.8 1.8 0 1 0 3.5 0a1.8 1.8 0 1 0 -3.5 0zM307.0 278.0a1.8 1.8 0 1 0 3.5 0a1.8 1.8 0 1 0 -3.5 0zM307.3 278.6a1.8 1.8 0 1 0 3.5 0a1.8 1.8 0 1 0 -3.5 0zM307.4 276.8a1.8 1.8 0 1 0 3.5 0a1.8 1.8 0 1 0 -3.5 0zM307.5 277.8a1.8 1.8 0 1 0 3.5 0a1.8 1.8 0 1 0 -3.5 0zM307.6 280.2a1.8 1.8 0 1 0 3.5 0a1.8 1.8 0 1 0 -3.5 0zM308.1 277.7a1.8 1.8 0 1 0 3.5 0a1.8 1.8 0 1 0 -3.5 0zM308.1 277.2a1.8 1.8 0 1 0 3.5 0a1.8 1.8 0 1 0 -3.5 0zM308.5 277.7a1.8 1.8 0 1 0 3.5 0a1.8 1.8 0 1 0 -3.5 0zM308.7 276.6a1.8 1.8 0 1 0 3.5 0a1.8 1.8 0 1 0 -3.5 0zM308.7 280.1a1.8 1.8 0 1 0 3.5 0a1.8 1.8 0 1 0 -3.5 0zM309.1 277.5a1.8 1.8 0 1 0 3.5 0a1.8 1.8 0 1 0 -3.5 0zM309.0 279.9a1.8 1.8 0 1 0 3.5 0a1.8 1.8 0 1 0 -3.5 0zM309.4 277.7a1.8 1.8 0 1 0 3.5 0a1.8 1.8 0 1 0 -3.5 0zM309.4 281.1a1.8 1.8 0 1 0 3.5 0a1.8 1.8 0 1 0 -3.5 0zM309.8 277.7a1.8 1.8 0 1 0 3.5 0a1.8 1.8 0 1 0 -3.5 0zM309.8 281.0a1.8 1.8 0 1 0 3.5 0a1.8 1.8 0 1 0 -3.5 0zM310.2 281.3a1.8 1.8 0 1 0 3.5 0a1.8 1.8 0 1 0 -3.5 0zM310.2 278.4a1.8 1.8 0 1 0 3.5 0a1.8 1.8 0 1 0 -3.5 0zM310.3 279.5a1.8 1.8 0 1 0 3.5 0a1.8 1.8 0 1 0 -3.5 0zM310.9 280.4a1.8 1.8 0 1 0 3.5 0a1.8 1.8 0 1 0 -3.5 0zM310.7 276.6a1.8 1.8 0 1 0 3.5 0a1.8 1.8 0 1 0 -3.5 0zM310.9 281.0a1.8 1.8 0 1 0 3.5 0a1.8 1.8 0 1 0 -3.5 0zM310.9 278.9a1.8 1.8 0 1 0 3.5 0a1.8 1.8 0 1 0 -3.5 0zM311.4 279.9a1.8 1.8 0 1 0 3.5 0a1.8 1.8 0 1 0 -3.5 0zM311.5 278.3a1.8 1.8 0 1 0 3.5 0a1.8 1.8 0 1 0 -3.5 0zM311.8 278.3a1.8 1.8 0 1 0 3.5 0a1.8 1.8 0 1 0 -3.5 0zM312.1 280.0a1.8 1.8 0 1 0 3.5 0a1.8 1.8 0 1 0 -3.5 0zM312.1 281.9a1.8 1.8 0 1 0 3.5 0a1.8 1.8 0 1 0 -3.5 0zM312.5 277.7a1.8 1.8 0 1 0 3.5 0a1.8 1.8 0 1 0 -3.5 0zM312.5 278.8a1.8 1.8 0 1 0 3.5 0a1.8 1.8 0 1 0 -3.5 0zM312.5 279.2a1.8 1.8 0 1 0 3.5 0a1.8 1.8 0 1 0 -3.5 0zM312.8 280.4a1.8 1.8 0 1 0 3.5 0a1.8 1.8 0 1 0 -3.5 0zM313.0 279.3a1.8 1.8 0 1 0 3.5 0a1.8 1.8 0 1 0 -3.5 0zM313.0 278.6a1.8 1.8 0 1 0 3.5 0a1.8 1.8 0 1 0 -3.5 0zM313.6 279.8a1.8 1.8 0 1 0 3.5 0a1.8 1.8 0 1 0 -3.5 0zM313.3 281.2a1.8 1.8 0 1 0 3.5 0a1.8 1.8 0 1 0 -3.5 0zM313.6 278.8a1.8 1.8 0 1 0 3.5 0a1.8 1.8 0 1 0 -3.5 0zM314.0 280.3a1.8 1.8 0 1 0 3.5 0a1.8 1.8 0 1 0 -3.5 0zM314.3 280.7a1.8 1.8 0 1 0 3.5 0a1.8 1.8 0 1 0 -3.5 0zM314.2 278.3a1.8 1.8 0 1 0 3.5 0a1.8 1.8 0 1 0 -3.5 0zM314.4 279.1a1.8 1.8 0 1 0 3.5 0a1.8 1.8 0 1 0 -3.5 0zM315.0 278.3a1.8 1.8 0 1 0 3.5 0a1.8 1.8 0 1 0 -3.5 0zM315.0 280.6a1.8 1.8 0 1 0 3.5 0a1.8 1.8 0 1 0 -3.5 0zM315.1 278.9a1.8 1.8 0 1 0 3.5 0a1.8 1.8 0 1 0 -3.5 0zM315.3 279.1a1.8 1.8 0 1 0 3.5 0a1.8 1.8 0 1 0 -3.5 0zM315.4 280.5a1.8 1.8 0 1 0 3.5 0a1.8 1.8 0 1 0 -3.5 0zM315.6 280.2a1.8 1.8 0 1 0 3.5 0a1.8 1.8 0 1 0 -3.5 0zM315.8 278.4a1.8 1.8 0 1 0 3.5 0a1.8 1.8 0 1 0 -3.5 0zM316.2 279.3a1.8 1.8 0 1 0 3.5 0a1.8 1.8 0 1 0 -3.5 0zM316.2 281.6a1.8 1.8 0 1 0 3.5 0a1.8 1.8 0 1 0 -3.5 0zM316.4 281.5a1.8 1.8 0 1 0 3.5 0a1.8 1.8 0 1 0 -3.5 0zM316.5 278.7a1.8 1.8 0 1 0 3.5 0a1.8 1.8 0 1 0 -3.5 0zM317.0 280.1a1.8 1.8 0 1 0 3.5 0a1.8 1.8 0 1 0 -3.5 0zM317.0 283.3a1.8 1.8 0 1 0 3.5 0a1.8 1.8 0 1 0 -3.5 0zM317.1 277.6a1.8 1.8 0 1 0 3.5 0a1.8 1.8 0 1 0 -3.5 0zM317.4 283.2a1.8 1.8 0 1 0 3.5 0a1.8 1.8 0 1 0 -3.5 0zM317.4 281.4a1.8 1.8 0 1 0 3.5 0a1.8 1.8 0 1 0 -3.5 0zM317.6 281.0a1.8 1.8 0 1 0 3.5 0a1.8 1.8 0 1 0 -3.5 0zM318.0 280.5a1.8 1.8 0 1 0 3.5 0a1.8 1.8 0 1 0 -3.5 0zM318.3 278.5a1.8 1.8 0 1 0 3.5 0a1.8 1.8 0 1 0 -3.5 0zM318.2 283.4a1.8 1.8 0 1 0 3.5 0a1.8 1.8 0 1 0 -3.5 0zM318.6 279.8a1.8 1.8 0 1 0 3.5 0a1.8 1.8 0 1 0 -3.5 0zM318.8 280.8a1.8 1.8 0 1 0 3.5 0a1.8 1.8 0 1 0 -3.5 0zM318.9 282.3a1.8 1.8 0 1 0 3.5 0a1.8 1.8 0 1 0 -3.5 0zM318.9 283.5a1.8 1.8 0 1 0 3.5 0a1.8 1.8 0 1 0 -3.5 0zM319.2 278.9a1.8 1.8 0 1 0 3.5 0a1.8 1.8 0 1 0 -3.5 0zM319.3 280.5a1.8 1.8 0 1 0 3.5 0a1.8 1.8 0 1 0 -3.5 0zM319.4 281.3a1.8 1.8 0 1 0 3.5 0a1.8 1.8 0 1 0 -3.5 0zM319.9 281.0a1.8 1.8 0 1 0 3.5 0a1.8 1.8 0 1 0 -3.5 0zM319.8 286.7a1.8 1.8 0 1 0 3.5 0a1.8 1.8 0 1 0 -3.5 0zM320.3 281.3a1.8 1.8 0 1 0 3.5 0a1.8 1.8 0 1 0 -3.5 0zM320.5 279.2a1.8 1.8 0 1 0 3.5 0a1.8 1.8 0 1 0 -3.5 0zM320.7 281.0a1.8 1.8 0 1 0 3.5 0a1.8 1.8 0 1 0 -3.5 0zM320.8 280.8a1.8 1.8 0 1 0 3.5 0a1.8 1.8 0 1 0 -3.5 0zM320.9 280.7a1.8 1.8 0 1 0 3.5 0a1.8 1.8 0 1 0 -3.5 0zM321.3 278.4a1.8 1.8 0 1 0 3.5 0a1.8 1.8 0 1 0 -3.5 0zM321.4 282.0a1.8 1.8 0 1 0 3.5 0a1.8 1.8 0 1 0 -3.5 0zM321.4 282.1a1.8 1.8 0 1 0 3.5 0a1.8 1.8 0 1 0 -3.5 0zM321.7 284.5a1.8 1.8 0 1 0 3.5 0a1.8 1.8 0 1 0 -3.5 0zM322.2 283.1a1.8 1.8 0 1 0 3.5 0a1.8 1.8 0 1 0 -3.5 0zM322.1 284.6a1.8 1.8 0 1 0 3.5 0a1.8 1.8 0 1 0 -3.5 0zM322.1 279.6a1.8 1.8 0 1 0 3.5 0a1.8 1.8 0 1 0 -3.5 0zM322.4 281.9a1.8 1.8 0 1 0 3.5 0a1.8 1.8 0 1 0 -3.5 0zM322.9 282.0a1.8 1.8 0 1 0 3.5 0a1.8 1.8 0 1 0 -3.5 0zM322.7 282.5a1.8 1.8 0 1 0 3.5 0a1.8 1.8 0 1 0 -3.5 0zM323.2 281.8a1.8 1.8 0 1 0 3.5 0a1.8 1.8 0 1 0 -3.5 0zM323.1 279.7a1.8 1.8 0 1 0 3.5 0a1.8 1.8 0 1 0 -3.5 0zM323.4 283.1a1.8 1.8 0 1 0 3.5 0a1.8 1.8 0 1 0 -3.5 0zM323.4 280.3a1.8 1.8 0 1 0 3.5 0a1.8 1.8 0 1 0 -3.5 0zM323.7 280.6a1.8 1.8 0 1 0 3.5 0a1.8 1.8 0 1 0 -3.5 0zM323.9 282.8a1.8 1.8 0 1 0 3.5 0a1.8 1.8 0 1 0 -3.5 0zM324.1 283.5a1.8 1.8 0 1 0 3.5 0a1.8 1.8 0 1 0 -3.5 0zM324.4 276.9a1.8 1.8 0 1 0 3.5 0a1.8 1.8 0 1 0 -3.5 0zM324.6 283.0a1.8 1.8 0 1 0 3.5 0a1.8 1.8 0 1 0 -3.5 0zM324.7 280.8a1.8 1.8 0 1 0 3.5 0a1.8 1.8 0 1 0 -3.5 0zM324.8 283.6a1.8 1.8 0 1 0 3.5 0a1.8 1.8 0 1 0 -3.5 0zM325.1 282.7a1.8 1.8 0 1 0 3.5 0a1.8 1.8 0 1 0 -3.5 0zM325.3 281.2a1.8 1.8 0 1 0 3.5 0a1.8 1.8 0 1 0 -3.5 0zM325.2 282.0a1.8 1.8 0 1 0 3.5 0a1.8 1.8 0 1 0 -3.5 0zM325.6 281.0a1.8 1.8 0 1 0 3.5 0a1.8 1.8 0 1 0 -3.5 0zM325.9 279.4a1.8 1.8 0 1 0 3.5 0a1.8 1.8 0 1 0 -3.5 0zM326.1 283.4a1.8 1.8 0 1 0 3.5 0a1.8 1.8 0 1 0 -3.5 0zM326.2 281.8a1.8 1.8 0 1 0 3.5 0a1.8 1.8 0 1 0 -3.5 0zM326.4 285.0a1.8 1.8 0 1 0 3.5 0a1.8 1.8 0 1 0 -3.5 0zM326.6 280.5a1.8 1.8 0 1 0 3.5 0a1.8 1.8 0 1 0 -3.5 0zM326.7 283.6a1.8 1.8 0 1 0 3.5 0a1.8 1.8 0 1 0 -3.5 0zM327.0 285.8a1.8 1.8 0 1 0 3.5 0a1.8 1.8 0 1 0 -3.5 0zM327.1 282.2a1.8 1.8 0 1 0 3.5 0a1.8 1.8 0 1 0 -3.5 0zM327.4 281.5a1.8 1.8 0 1 0 3.5 0a1.8 1.8 0 1 0 -3.5 0zM327.6 285.9a1.8 1.8 0 1 0 3.5 0a1.8 1.8 0 1 0 -3.5 0zM327.7 284.3a1.8 1.8 0 1 0 3.5 0a1.8 1.8 0 1 0 -3.5 0zM327.8 281.9a1.8 1.8 0 1 0 3.5 0a1.8 1.8 0 1 0 -3.5 0zM328.0 284.2a1.8 1.8 0 1 0 3.5 0a1.8 1.8 0 1 0 -3.5 0zM328.1 284.3a1.8 1.8 0 1 0 3.5 0a1.8 1.8 0 1 0 -3.5 0zM328.2 283.3a1.8 1.8 0 1 0 3.5 0a1.8 1.8 0 1 0 -3.5 0zM328.5 279.8a1.8 1.8 0 1 0 3.5 0a1.8 1.8 0 1 0 -3.5 0zM328.7 285.8a1.8 1.8 0 1 0 3.5 0a1.8 1.8 0 1 0 -3.5 0zM329.0 283.9a1.8 1.8 0 1 0 3.5 0a1.8 1.8 0 1 0 -3.5 0zM329.0 280.5a1.8 1.8 0 1 0 3.5 0a1.8 1.8 0 1 0 -3.5 0zM329.6 284.4a1.8 1.8 0 1 0 3.5 0a1.8 1.8 0 1 0 -3.5 0zM329.6 285.4a1.8 1.8 0 1 0 3.5 0a1.8 1.8 0 1 0 -3.5 0zM329.8 283.9a1.8 1.8 0 1 0 3.5 0a1.8 1.8 0 1 0 -3.5 0zM329.9 280.6a1.8 1.8 0 1 0 3.5 0a1.8 1.8 0 1 0 -3.5 0zM330.0 286.3a1.8 1.8 0 1 0 3.5 0a1.8 1.8 0 1 0 -3.5 0zM330.2 286.4a1.8 1.8 0 1 0 3.5 0a1.8 1.8 0 1 0 -3.5 0zM330.6 281.4a1.8 1.8 0 1 0 3.5 0a1.8 1.8 0 1 0 -3.5 0zM330.7 283.3a1.8 1.8 0 1 0 3.5 0a1.8 1.8 0 1 0 -3.5 0zM330.6 280.4a1.8 1.8 0 1 0 3.5 0a1.8 1.8 0 1 0 -3.5 0zM330.9 283.2a1.8 1.8 0 1 0 3.5 0a1.8 1.8 0 1 0 -3.5 0zM331.2 285.3a1.8 1.8 0 1 0 3.5 0a1.8 1.8 0 1 0 -3.5 0zM331.4 284.7a1.8 1.8 0 1 0 3.5 0a1.8 1.8 0 1 0 -3.5 0zM331.5 285.5a1.8 1.8 0 1 0 3.5 0a1.8 1.8 0 1 0 -3.5 0zM331.6 282.1a1.8 1.8 0 1 0 3.5 0a1.8 1.8 0 1 0 -3.5 0zM331.7 284.4a1.8 1.8 0 1 0 3.5 0a1.8 1.8 0 1 0 -3.5 0zM332.2 284.5a1.8 1.8 0 1 0 3.5 0a1.8 1.8 0 1 0 -3.5 0zM332.7 286.7a1.8 1.8 0 1 0 3.5 0a1.8 1.8 0 1 0 -3.5 0zM332.4 283.7a1.8 1.8 0 1 0 3.5 0a1.8 1.8 0 1 0 -3.5 0zM332.6 280.7a1.8 1.8 0 1 0 3.5 0a1.8 1.8 0 1 0 -3.5 0zM333.0 284.8a1.8 1.8 0 1 0 3.5 0a1.8 1.8 0 1 0 -3.5 0zM333.0 284.2a1.8 1.8 0 1 0 3.5 0a1.8 1.8 0 1 0 -3.5 0z" fill="#1a12e0"/>
<path d="M132.5 174.8h3.8v3.8h-3.8zM132.8 178.0h3.8v3.8h-3.8zM132.9 180.8h3.8v3.8h-3.8zM133.3 185.8h3.8v3.8h-3.8zM133.7 190.5h3.8v3.8h-3.8zM134.1 193.6h3.8v3.8h-3.8zM134.3 199.3h3.8v3.8h-3.8zM134.7 204.0h3.8v3.8h-3.8zM134.8 206.7h3.8v3.8h-3.8zM135.3 209.5h3.8v3.8h-3.8zM135.7 212.1h3.8v3.8h-3.8zM136.0 214.5h3.8v3.8h-3.8zM136.4 216.1h3.8v3.8h-3.8zM136.6 217.4h3.8v3.8h-3.8zM137.0 219.2h3.8v3.8h-3.8zM137.2 221.5h3.8v3.8h-3.8zM137.8 221.5h3.8v3.8h-3.8zM138.0 223.4h3.8v3.8h-3.8zM138.3 223.3h3.8v3.8h-3.8zM138.7 225.2h3.8v3.8h-3.8zM138.8 225.5h3.8v3.8h-3.8zM139.3 225.4h3.8v3.8h-3.8zM139.8 226.6h3.8v3.8h-3.8zM140.2 226.4h3.8v3.8h-3.8zM139.9 227.2h3.8v3.8h-3.8zM140.4 228.3h3.8v3.8h-3.8zM141.1 228.3h3.8v3.8h-3.8zM141.4 227.3h3.8v3.8h-3.8zM141.6 228.0h3.8v3.8h-3.8zM141.9 228.8h3.8v3.8h-3.8zM142.3 228.3h3.8v3.8h-3.8zM142.5 229.4h3.8v3.8h-3.8zM143.0 229.0h3.8v3.8h-3.8zM143.0 229.2h3.8v3.8h-3.8zM143.7 229.7h3.8v3.8h-3.8zM143.8 230.3h3.8v3.8h-3.8zM144.3 229.5h3.8v3.8h-3.8zM144.8 230.5h3.8v3.8h-3.8zM145.1 229.4h3.8v3.8h-3.8zM145.4 230.4h3.8v3.8h-3.8zM145.6 231.1h3.8v3.8h-3.8zM146.0 230.3h3.8v3.8h-3.8zM146.1 230.6h3.8v3.8h-3.8zM146.7 230.9h3.8v3.8h-3.8zM147.1 230.2h3.8v3.8h-3.8zM147.3 230.7h3.8v3.8h-3.8zM147.6 230.2h3.8v3.8h-3.8zM148.0 231.3h3.8v3.8h-3.8zM148.2 231.3h3.8v3.8h-3.8zM148.5 231.6h3.8v3.8h-3.8zM148.7 231.1h3.8v3.8h-3.8zM149.1 230.7h3.8v3.8h-3.8zM149.7 231.1h3.8v3.8h-3.8zM149.8 231.4h3.8v3.8h-3.8zM150.3 231.3h3.8v3.8h-3.8zM150.7 231.0h3.8v3.8h-3.8zM150.9 232.1h3.8v3.8h-3.8zM150.8 231.9h3.8v3.8h-3.8zM151.5 232.0h3.8v3.8h-3.8zM152.3 231.6h3.8v3.8h-3.8zM152.3 231.3h3.8v3.8h-3.8zM152.6 231.3h3.8v3.8h-3.8zM152.9 231.7h3.8v3.8h-3.8zM153.1 231.2h3.8v3.8h-3.8zM153.6 232.5h3.8v3.8h-3.8zM154.2 231.7h3.8v3.8h-3.8zM154.2 231.8h3.8v3.8h-3.8zM154.8 231.1h3.8v3.8h-3.8zM154.7 232.6h3.8v3.8h-3.8zM155.1 231.1h3.8v3.8h-3.8zM155.7 232.0h3.8v3.8h-3.8zM155.5 232.2h3.8v3.8h-3.8zM156.2 232.6h3.8v3.8h-3.8zM156.8 231.1h3.8v3.8h-3.8zM156.7 231.6h3.8v3.8h-3.8zM157.3 232.2h3.8v3.8h-3.8zM157.5 231.9h3.8v3.8h-3.8zM157.6 231.4h3.8v3.8h-3.8zM158.2 231.4h3.8v3.8h-3.8zM158.5 231.3h3.8v3.8h-3.8zM158.6 232.3h3.8v3.8h-3.8zM159.2 231.7h3.8v3.8h-3.8zM159.3 232.2h3.8v3.8h-3.8zM160.0 231.8h3.8v3.8h-3.8zM159.9 231.8h3.8v3.8h-3.8zM160.2 232.2h3.8v3.8h-3.8zM160.9 232.3h3.8v3.8h-3.8zM161.1 232.7h3.8v3.8h-3.8zM161.6 232.5h3.8v3.8h-3.8zM161.8 231.6h3.8v3.8h-3.8zM162.2 232.6h3.8v3.8h-3.8zM162.7 231.7h3.8v3.8h-3.8zM162.8 231.9h3.8v3.8h-3.8zM163.1 231.9h3.8v3.8h-3.8zM163.4 231.9h3.8v3.8h-3.8zM164.1 231.9h3.8v3.8h-3.8zM164.2 232.1h3.8v3.8h-3.8zM164.5 231.6h3.8v3.8h-3.8zM164.7 232.8h3.8v3.8h-3.8zM164.9 231.8h3.8v3.8h-3.8zM165.2 232.3h3.8v3.8h-3.8zM165.8 231.3h3.8v3.8h-3.8zM166.3 232.1h3.8v3.8h-3.8zM166.4 232.6h3.8v3.8h-3.8zM166.8 232.7h3.8v3.8h-3.8zM167.1 232.7h3.8v3.8h-3.8zM167.5 231.7h3.8v3.8h-3.8zM167.5 232.4h3.8v3.8h-3.8zM168.1 231.6h3.8v3.8h-3.8zM168.3 232.2h3.8v3.8h-3.8zM168.7 232.0h3.8v3.8h-3.8zM169.0 231.9h3.8v3.8h-3.8zM169.4 231.7h3.8v3.8h-3.8zM169.6 232.4h3.8v3.8h-3.8zM170.1 232.9h3.8v3.8h-3.8zM170.5 231.9h3.8v3.8h-3.8zM170.6 232.6h3.8v3.8h-3.8zM170.7 231.9h3.8v3.8h-3.8zM171.7 232.0h3.8v3.8h-3.8zM171.9 232.6h3.8v3.8h-3.8zM172.3 232.1h3.8v3.8h-3.8zM171.9 232.9h3.8v3.8h-3.8zM172.6 232.2h3.8v3.8h-3.8zM173.2 231.8h3.8v3.8h-3.8zM173.4 232.3h3.8v3.8h-3.8zM173.8 231.6h3.8v3.8h-3.8zM173.9 232.8h3.8v3.8h-3.8zM174.5 232.3h3.8v3.8h-3.8zM174.7 232.7h3.8v3.8h-3.8zM174.7 232.1h3.8v3.8h-3.8zM175.3 232.3h3.8v3.8h-3.8zM175.8 233.1h3.8v3.8h-3.8zM175.7 232.0h3.8v3.8h-3.8zM176.3 232.4h3.8v3.8h-3.8zM176.5 231.7h3.8v3.8h-3.8zM177.0 232.2h3.8v3.8h-3.8zM177.4 231.6h3.8v3.8h-3.8zM177.6 231.9h3.8v3.8h-3.8zM177.8 232.2h3.8v3.8h-3.8zM178.5 232.7h3.8v3.8h-3.8zM178.5 232.5h3.8v3.8h-3.8zM179.0 232.8h3.8v3.8h-3.8zM179.2 232.5h3.8v3.8h-3.8zM179.4 231.7h3.8v3.8h-3.8zM179.8 232.4h3.8v3.8h-3.8zM180.2 232.2h3.8v3.8h-3.8zM180.5 232.2h3.8v3.8h-3.8zM180.7 231.7h3.8v3.8h-3.8zM181.2 231.7h3.8v3.8h-3.8zM181.7 232.3h3.8v3.8h-3.8zM182.0 232.3h3.8v3.8h-3.8zM182.3 232.8h3.8v3.8h-3.8zM182.6 232.6h3.8v3.8h-3.8zM182.7 231.6h3.8v3.8h-3.8zM183.2 232.2h3.8v3.8h-3.8zM183.3 233.4h3.8v3.8h-3.8zM183.8 232.6h3.8v3.8h-3.8zM184.2 232.8h3.8v3.8h-3.8zM184.5 233.2h3.8v3.8h-3.8zM184.8 232.5h3.8v3.8h-3.8zM185.2 232.9h3.8v3.8h-3.8zM185.5 232.9h3.8v3.8h-3.8zM185.9 233.0h3.8v3.8h-3.8zM186.0 232.3h3.8v3.8h-3.8zM186.4 232.6h3.8v3.8h-3.8zM186.8 232.7h3.8v3.8h-3.8zM187.1 232.7h3.8v3.8h-3.8zM187.4 232.8h3.8v3.8h-3.8zM187.9 232.3h3.8v3.8h-3.8zM188.1 232.9h3.8v3.8h-3.8zM188.6 232.4h3.8v3.8h-3.8zM188.8 234.7h3.8v3.8h-3.8zM189.5 232.5h3.8v3.8h-3.8zM189.6 233.1h3.8v3.8h-3.8zM190.3 231.7h3.8v3.8h-3.8zM190.3 233.2h3.8v3.8h-3.8zM190.2 232.3h3.8v3.8h-3.8zM190.7 232.0h3.8v3.8h-3.8zM191.0 231.7h3.8v3.8h-3.8zM191.5 232.4h3.8v3.8h-3.8zM191.8 231.7h3.8v3.8h-3.8zM192.1 232.5h3.8v3.8h-3.8zM192.5 232.5h3.8v3.8h-3.8zM193.0 233.3h3.8v3.8h-3.8zM193.3 232.0h3.8v3.8h-3.8zM193.3 232.2h3.8v3.8h-3.8zM193.8 231.7h3.8v3.8h-3.8zM194.0 233.3h3.8v3.8h-3.8zM194.0 232.1h3.8v3.8h-3.8zM194.6 231.9h3.8v3.8h-3.8zM195.0 232.7h3.8v3.8h-3.8zM195.2 232.4h3.8v3.8h-3.8zM195.9 232.4h3.8v3.8h-3.8zM196.3 233.3h3.8v3.8h-3.8zM196.3 232.6h3.8v3.8h-3.8zM196.8 232.6h3.8v3.8h-3.8zM197.2 232.0h3.8v3.8h-3.8zM197.4 232.9h3.8v3.8h-3.8zM197.8 232.6h3.8v3.8h-3.8zM198.2 232.7h3.8v3.8h-3.8zM198.3 232.3h3.8v3.8h-3.8zM198.7 231.4h3.8v3.8h-3.8zM199.1 233.1h3.8v3.8h-3.8zM199.5 231.8h3.8v3.8h-3.8zM199.8 232.4h3.8v3.8h-3.8zM200.1 232.9h3.8v3.8h-3.8zM200.4 232.6h3.8v3.8h-3.8zM200.9 232.8h3.8v3.8h-3.8zM201.1 233.0h3.8v3.8h-3.8zM201.3 232.3h3.8v3.8h-3.8zM201.7 233.0h3.8v3.8h-3.8zM202.0 232.9h3.8v3.8h-3.8zM202.4 231.9h3.8v3.8h-3.8zM202.8 232.3h3.8v3.8h-3.8zM203.1 232.6h3.8v3.8h-3.8zM203.3 232.2h3.8v3.8h-3.8zM203.7 232.6h3.8v3.8h-3.8zM204.2 232.9h3.8v3.8h-3.8zM204.3 232.3h3.8v3.8h-3.8zM204.4 232.6h3.8v3.8h-3.8zM204.8 232.6h3.8v3.8h-3.8zM205.2 232.7h3.8v3.8h-3.8zM205.5 232.6h3.8v3.8h-3.8zM205.9 232.6h3.8v3.8h-3.8zM206.3 232.2h3.8v3.8h-3.8zM206.7 232.6h3.8v3.8h-3.8zM206.8 232.9h3.8v3.8h-3.8zM207.3 232.3h3.8v3.8h-3.8zM207.5 232.4h3.8v3.8h-3.8zM208.1 231.8h3.8v3.8h-3.8zM208.2 232.3h3.8v3.8h-3.8zM208.8 232.0h3.8v3.8h-3.8zM208.8 232.3h3.8v3.8h-3.8zM209.3 231.8h3.8v3.8h-3.8zM209.7 232.9h3.8v3.8h-3.8zM210.0 232.7h3.8v3.8h-3.8zM210.2 232.8h3.8v3.8h-3.8zM210.8 233.3h3.8v3.8h-3.8zM210.6 233.4h3.8v3.8h-3.8zM211.2 233.2h3.8v3.8h-3.8zM211.9 232.4h3.8v3.8h-3.8zM211.8 232.9h3.8v3.8h-3.8zM212.2 232.3h3.8v3.8h-3.8zM212.4 233.1h3.8v3.8h-3.8zM212.6 231.7h3.8v3.8h-3.8zM213.2 233.1h3.8v3.8h-3.8zM213.6 232.3h3.8v3.8h-3.8zM213.8 232.4h3.8v3.8h-3.8zM214.0 232.8h3.8v3.8h-3.8zM214.6 232.1h3.8v3.8h-3.8zM214.7 233.2h3.8v3.8h-3.8zM215.2 233.0h3.8v3.8h-3.8zM215.7 232.3h3.8v3.8h-3.8zM215.9 232.6h3.8v3.8h-3.8zM216.3 232.6h3.8v3.8h-3.8zM216.5 233.3h3.8v3.8h-3.8zM217.0 232.7h3.8v3.8h-3.8zM217.3 232.7h3.8v3.8h-3.8zM217.6 233.1h3.8v3.8h-3.8zM217.7 232.6h3.8v3.8h-3.8zM218.0 232.7h3.8v3.8h-3.8zM218.6 233.3h3.8v3.8h-3.8zM219.0 232.1h3.8v3.8h-3.8zM219.0 232.8h3.8v3.8h-3.8zM219.7 233.0h3.8v3.8h-3.8zM219.9 232.3h3.8v3.8h-3.8zM220.3 231.9h3.8v3.8h-3.8zM220.4 232.7h3.8v3.8h-3.8zM220.6 232.2h3.8v3.8h-3.8zM221.2 232.8h3.8v3.8h-3.8zM221.5 232.6h3.8v3.8h-3.8zM221.8 233.0h3.8v3.8h-3.8zM222.2 232.8h3.8v3.8h-3.8zM222.5 233.1h3.8v3.8h-3.8zM222.6 233.1h3.8v3.8h-3.8zM222.9 233.0h3.8v3.8h-3.8zM223.5 232.5h3.8v3.8h-3.8zM223.7 233.5h3.8v3.8h-3.8zM224.3 233.4h3.8v3.8h-3.8zM224.3 233.1h3.8v3.8h-3.8zM224.7 232.3h3.8v3.8h-3.8zM225.3 233.3h3.8v3.8h-3.8zM225.5 233.4h3.8v3.8h-3.8zM225.9 232.8h3.8v3.8h-3.8zM226.1 232.9h3.8v3.8h-3.8zM226.5 232.6h3.8v3.8h-3.8zM226.9 232.4h3.8v3.8h-3.8zM227.0 232.8h3.8v3.8h-3.8zM227.7 233.0h3.8v3.8h-3.8zM227.7 232.8h3.8v3.8h-3.8zM228.0 233.0h3.8v3.8h-3.8zM228.2 232.3h3.8v3.8h-3.8zM228.8 232.7h3.8v3.8h-3.8zM228.8 233.1h3.8v3.8h-3.8zM229.5 232.7h3.8v3.8h-3.8zM229.7 232.8h3.8v3.8h-3.8zM230.0 232.3h3.8v3.8h-3.8zM230.3 232.9h3.8v3.8h-3.8zM230.7 232.1h3.8v3.8h-3.8zM231.0 233.0h3.8v3.8h-3.8zM231.5 232.9h3.8v3.8h-3.8zM231.7 232.7h3.8v3.8h-3.8zM232.1 232.5h3.8v3.8h-3.8zM232.5 232.1h3.8v3.8h-3.8zM232.5 232.5h3.8v3.8h-3.8zM233.0 232.3h3.8v3.8h-3.8zM233.3 232.8h3.8v3.8h-3.8zM233.5 232.7h3.8v3.8h-3.8zM234.2 232.9h3.8v3.8h-3.8zM234.4 232.3h3.8v3.8h-3.8zM234.9 232.6h3.8v3.8h-3.8zM234.9 232.3h3.8v3.8h-3.8zM235.4 233.3h3.8v3.8h-3.8zM235.7 232.9h3.8v3.8h-3.8zM235.8 232.7h3.8v3.8h-3.8zM236.2 232.7h3.8v3.8h-3.8zM236.7 233.1h3.8v3.8h-3.8zM236.7 233.3h3.8v3.8h-3.8zM237.3 232.6h3.8v3.8h-3.8zM237.9 232.7h3.8v3.8h-3.8zM238.1 232.1h3.8v3.8h-3.8zM238.2 232.8h3.8v3.8h-3.8zM238.8 232.1h3.8v3.8h-3.8zM239.0 233.0h3.8v3.8h-3.8zM239.5 233.0h3.8v3.8h-3.8zM239.6 232.1h3.8v3.8h-3.8zM239.8 232.0h3.8v3.8h-3.8zM240.2 232.4h3.8v3.8h-3.8zM240.5 232.3h3.8v3.8h-3.8zM240.8 232.5h3.8v3.8h-3.8zM241.7 232.8h3.8v3.8h-3.8zM241.4 232.4h3.8v3.8h-3.8zM241.9 231.9h3.8v3.8h-3.8zM242.4 232.3h3.8v3.8h-3.8zM242.6 233.0h3.8v3.8h-3.8zM243.0 232.5h3.8v3.8h-3.8zM243.2 233.0h3.8v3.8h-3.8zM243.8 232.6h3.8v3.8h-3.8zM243.7 232.4h3.8v3.8h-3.8zM244.3 232.2h3.8v3.8h-3.8zM244.7 232.1h3.8v3.8h-3.8zM244.8 232.4h3.8v3.8h-3.8zM245.5 232.3h3.8v3.8h-3.8zM245.6 231.8h3.8v3.8h-3.8zM245.8 231.9h3.8v3.8h-3.8zM246.3 231.8h3.8v3.8h-3.8zM246.4 232.1h3.8v3.8h-3.8zM247.0 232.1h3.8v3.8h-3.8zM247.1 232.5h3.8v3.8h-3.8zM247.6 231.4h3.8v3.8h-3.8zM247.9 231.9h3.8v3.8h-3.8zM248.2 232.3h3.8v3.8h-3.8zM248.6 231.7h3.8v3.8h-3.8zM248.9 232.7h3.8v3.8h-3.8zM249.3 232.2h3.8v3.8h-3.8zM249.6 231.1h3.8v3.8h-3.8zM249.8 231.9h3.8v3.8h-3.8zM250.1 231.1h3.8v3.8h-3.8zM250.4 231.5h3.8v3.8h-3.8zM250.8 231.7h3.8v3.8h-3.8zM251.2 231.8h3.8v3.8h-3.8zM251.4 231.8h3.8v3.8h-3.8zM251.8 231.6h3.8v3.8h-3.8zM252.4 231.8h3.8v3.8h-3.8zM252.7 230.4h3.8v3.8h-3.8zM252.7 231.0h3.8v3.8h-3.8zM253.2 231.1h3.8v3.8h-3.8zM253.4 230.3h3.8v3.8h-3.8zM254.0 230.9h3.8v3.8h-3.8zM254.1 230.3h3.8v3.8h-3.8zM254.5 229.8h3.8v3.8h-3.8zM254.9 230.1h3.8v3.8h-3.8zM254.8 230.4h3.8v3.8h-3.8zM255.5 229.9h3.8v3.8h-3.8zM255.8 230.0h3.8v3.8h-3.8zM256.0 229.9h3.8v3.8h-3.8zM256.4 229.3h3.8v3.8h-3.8zM256.7 229.6h3.8v3.8h-3.8zM257.0 229.2h3.8v3.8h-3.8zM257.7 228.5h3.8v3.8h-3.8zM257.7 229.1h3.8v3.8h-3.8zM258.0 229.6h3.8v3.8h-3.8zM258.5 228.3h3.8v3.8h-3.8zM258.9 228.5h3.8v3.8h-3.8zM259.1 229.1h3.8v3.8h-3.8zM259.5 228.2h3.8v3.8h-3.8zM259.7 228.4h3.8v3.8h-3.8zM260.1 227.4h3.8v3.8h-3.8zM260.5 228.4h3.8v3.8h-3.8zM260.8 227.9h3.8v3.8h-3.8zM261.1 227.2h3.8v3.8h-3.8zM261.3 227.6h3.8v3.8h-3.8zM261.8 227.4h3.8v3.8h-3.8zM262.0 227.0h3.8v3.8h-3.8zM262.2 227.3h3.8v3.8h-3.8zM262.9 226.2h3.8v3.8h-3.8zM262.9 226.2h3.8v3.8h-3.8zM263.3 225.8h3.8v3.8h-3.8zM263.8 226.4h3.8v3.8h-3.8zM263.9 226.3h3.8v3.8h-3.8zM264.2 225.7h3.8v3.8h-3.8zM264.9 225.1h3.8v3.8h-3.8zM265.1 225.9h3.8v3.8h-3.8zM265.3 225.7h3.8v3.8h-3.8zM265.8 225.0h3.8v3.8h-3.8zM266.3 224.5h3.8v3.8h-3.8zM266.3 224.9h3.8v3.8h-3.8zM266.5 225.3h3.8v3.8h-3.8zM267.0 225.2h3.8v3.8h-3.8zM267.4 224.1h3.8v3.8h-3.8zM267.6 223.3h3.8v3.8h-3.8zM267.9 223.7h3.8v3.8h-3.8zM268.3 223.4h3.8v3.8h-3.8zM268.5 224.1h3.8v3.8h-3.8zM269.0 223.2h3.8v3.8h-3.8zM269.3 222.7h3.8v3.8h-3.8zM269.7 223.0h3.8v3.8h-3.8zM269.8 222.9h3.8v3.8h-3.8zM270.5 223.0h3.8v3.8h-3.8zM270.5 222.4h3.8v3.8h-3.8zM270.9 222.5h3.8v3.8h-3.8zM271.5 221.2h3.8v3.8h-3.8zM271.4 221.6h3.8v3.8h-3.8zM272.1 221.5h3.8v3.8h-3.8zM272.3 220.6h3.8v3.8h-3.8zM272.4 221.3h3.8v3.8h-3.8zM272.8 220.2h3.8v3.8h-3.8zM273.3 220.0h3.8v3.8h-3.8zM273.6 220.8h3.8v3.8h-3.8zM274.0 219.9h3.8v3.8h-3.8zM274.1 219.5h3.8v3.8h-3.8zM274.5 220.6h3.8v3.8h-3.8zM275.0 220.3h3.8v3.8h-3.8zM275.2 219.0h3.8v3.8h-3.8zM275.5 220.0h3.8v3.8h-3.8zM276.0 219.6h3.8v3.8h-3.8zM276.3 218.4h3.8v3.8h-3.8zM276.8 218.5h3.8v3.8h-3.8zM277.0 218.1h3.8v3.8h-3.8zM277.5 217.5h3.8v3.8h-3.8zM277.5 218.2h3.8v3.8h-3.8zM277.9 217.4h3.8v3.8h-3.8zM278.4 217.6h3.8v3.8h-3.8zM278.7 217.2h3.8v3.8h-3.8zM279.0 216.8h3.8v3.8h-3.8zM279.2 216.3h3.8v3.8h-3.8zM279.5 217.1h3.8v3.8h-3.8zM280.1 215.9h3.8v3.8h-3.8zM280.3 215.6h3.8v3.8h-3.8zM280.7 216.2h3.8v3.8h-3.8zM281.0 215.3h3.8v3.8h-3.8zM281.3 215.4h3.8v3.8h-3.8zM281.8 215.4h3.8v3.8h-3.8zM281.8 214.8h3.8v3.8h-3.8zM282.1 215.3h3.8v3.8h-3.8zM282.3 213.5h3.8v3.8h-3.8zM283.2 214.6h3.8v3.8h-3.8zM283.1 214.6h3.8v3.8h-3.8zM283.8 214.3h3.8v3.8h-3.8zM284.1 213.1h3.8v3.8h-3.8zM284.1 213.3h3.8v3.8h-3.8zM284.4 212.9h3.8v3.8h-3.8zM284.8 212.2h3.8v3.8h-3.8zM284.9 212.7h3.8v3.8h-3.8zM285.4 212.0h3.8v3.8h-3.8zM285.9 211.4h3.8v3.8h-3.8zM286.1 210.3h3.8v3.8h-3.8zM286.5 211.3h3.8v3.8h-3.8zM286.7 210.3h3.8v3.8h-3.8zM287.4 210.7h3.8v3.8h-3.8zM287.5 210.4h3.8v3.8h-3.8zM288.1 210.5h3.8v3.8h-3.8zM288.2 209.3h3.8v3.8h-3.8zM288.6 209.0h3.8v3.8h-3.8zM288.9 209.6h3.8v3.8h-3.8zM289.3 209.2h3.8v3.8h-3.8zM289.4 209.4h3.8v3.8h-3.8zM290.0 208.6h3.8v3.8h-3.8zM290.1 209.3h3.8v3.8h-3.8zM290.1 208.8h3.8v3.8h-3.8zM290.9 207.9h3.8v3.8h-3.8zM291.0 207.5h3.8v3.8h-3.8zM291.2 207.9h3.8v3.8h-3.8zM291.9 207.6h3.8v3.8h-3.8zM292.3 206.7h3.8v3.8h-3.8zM292.4 206.6h3.8v3.8h-3.8zM292.8 207.6h3.8v3.8h-3.8zM293.2 206.7h3.8v3.8h-3.8zM293.2 206.2h3.8v3.8h-3.8zM293.8 207.3h3.8v3.8h-3.8zM293.8 207.4h3.8v3.8h-3.8zM294.6 206.7h3.8v3.8h-3.8zM294.9 205.7h3.8v3.8h-3.8zM295.2 206.6h3.8v3.8h-3.8zM295.2 206.3h3.8v3.8h-3.8zM295.6 205.7h3.8v3.8h-3.8zM296.0 205.5h3.8v3.8h-3.8zM296.3 206.0h3.8v3.8h-3.8zM296.9 206.6h3.8v3.8h-3.8zM297.1 205.4h3.8v3.8h-3.8zM297.0 206.9h3.8v3.8h-3.8zM297.8 206.6h3.8v3.8h-3.8zM298.1 206.4h3.8v3.8h-3.8zM298.3 206.7h3.8v3.8h-3.8zM298.7 207.0h3.8v3.8h-3.8zM299.1 206.2h3.8v3.8h-3.8zM299.3 206.2h3.8v3.8h-3.8zM299.8 207.7h3.8v3.8h-3.8zM299.9 207.5h3.8v3.8h-3.8zM300.4 207.1h3.8v3.8h-3.8zM300.9 206.2h3.8v3.8h-3.8zM301.2 207.5h3.8v3.8h-3.8zM301.3 207.3h3.8v3.8h-3.8zM301.8 207.2h3.8v3.8h-3.8zM302.2 207.3h3.8v3.8h-3.8zM302.4 206.7h3.8v3.8h-3.8zM302.9 206.7h3.8v3.8h-3.8zM302.8 207.4h3.8v3.8h-3.8zM303.5 206.5h3.8v3.8h-3.8zM303.6 205.8h3.8v3.8h-3.8zM304.0 205.5h3.8v3.8h-3.8zM304.5 205.7h3.8v3.8h-3.8zM304.4 205.9h3.8v3.8h-3.8zM305.1 204.7h3.8v3.8h-3.8zM305.2 205.1h3.8v3.8h-3.8zM305.7 203.6h3.8v3.8h-3.8zM305.8 203.1h3.8v3.8h-3.8zM306.1 202.8h3.8v3.8h-3.8zM306.7 202.0h3.8v3.8h-3.8zM307.0 202.4h3.8v3.8h-3.8zM307.1 201.7h3.8v3.8h-3.8zM307.7 201.2h3.8v3.8h-3.8zM308.0 199.5h3.8v3.8h-3.8zM308.4 200.2h3.8v3.8h-3.8zM308.6 199.5h3.8v3.8h-3.8zM309.0 198.7h3.8v3.8h-3.8zM309.4 197.6h3.8v3.8h-3.8zM309.6 197.9h3.8v3.8h-3.8zM309.8 197.9h3.8v3.8h-3.8zM310.4 197.4h3.8v3.8h-3.8zM310.7 196.0h3.8v3.8h-3.8zM311.0 196.3h3.8v3.8h-3.8zM311.4 195.5h3.8v3.8h-3.8zM311.7 195.0h3.8v3.8h-3.8zM312.0 195.6h3.8v3.8h-3.8zM312.3 195.3h3.8v3.8h-3.8zM312.7 195.2h3.8v3.8h-3.8zM313.1 195.0h3.8v3.8h-3.8zM313.2 194.8h3.8v3.8h-3.8zM313.5 195.0h3.8v3.8h-3.8zM314.1 195.1h3.8v3.8h-3.8zM314.1 195.3h3.8v3.8h-3.8zM314.6 195.5h3.8v3.8h-3.8zM315.0 195.8h3.8v3.8h-3.8zM315.3 195.5h3.8v3.8h-3.8zM315.7 196.7h3.8v3.8h-3.8zM315.9 196.4h3.8v3.8h-3.8zM316.2 197.2h3.8v3.8h-3.8zM316.3 196.9h3.8v3.8h-3.8zM316.9 198.1h3.8v3.8h-3.8zM317.3 198.3h3.8v3.8h-3.8zM317.3 198.8h3.8v3.8h-3.8zM317.8 199.3h3.8v3.8h-3.8zM317.9 200.2h3.8v3.8h-3.8zM318.3 200.2h3.8v3.8h-3.8zM318.9 201.8h3.8v3.8h-3.8zM319.2 201.9h3.8v3.8h-3.8zM319.5 202.0h3.8v3.8h-3.8zM320.1 203.5h3.8v3.8h-3.8zM320.2 203.0h3.8v3.8h-3.8zM320.5 204.3h3.8v3.8h-3.8zM320.9 205.4h3.8v3.8h-3.8zM320.9 205.4h3.8v3.8h-3.8zM321.5 205.6h3.8v3.8h-3.8zM321.8 207.2h3.8v3.8h-3.8zM322.0 207.7h3.8v3.8h-3.8zM322.8 207.4h3.8v3.8h-3.8zM322.8 209.3h3.8v3.8h-3.8zM323.1 210.9h3.8v3.8h-3.8zM323.5 211.0h3.8v3.8h-3.8zM323.5 211.2h3.8v3.8h-3.8zM323.9 213.1h3.8v3.8h-3.8zM324.7 213.4h3.8v3.8h-3.8zM325.0 215.0h3.8v3.8h-3.8zM324.9 214.9h3.8v3.8h-3.8zM325.2 215.7h3.8v3.8h-3.8zM325.6 216.1h3.8v3.8h-3.8zM326.1 216.6h3.8v3.8h-3.8zM326.5 215.9h3.8v3.8h-3.8zM326.8 217.0h3.8v3.8h-3.8zM326.8 217.6h3.8v3.8h-3.8zM327.7 218.1h3.8v3.8h-3.8zM328.0 219.0h3.8v3.8h-3.8zM328.3 218.9h3.8v3.8h-3.8zM328.3 218.6h3.8v3.8h-3.8zM328.8 219.0h3.8v3.8h-3.8zM329.0 219.7h3.8v3.8h-3.8zM329.3 219.9h3.8v3.8h-3.8zM329.8 220.7h3.8v3.8h-3.8zM330.2 220.5h3.8v3.8h-3.8zM330.1 220.1h3.8v3.8h-3.8zM330.5 221.1h3.8v3.8h-3.8zM331.1 221.6h3.8v3.8h-3.8zM331.6 221.5h3.8v3.8h-3.8zM331.8 221.8h3.8v3.8h-3.8zM332.1 221.7h3.8v3.8h-3.8zM332.4 221.6h3.8v3.8h-3.8zM332.8 222.0h3.8v3.8h-3.8zM332.9 222.1h3.8v3.8h-3.8zM333.5 223.2h3.8v3.8h-3.8zM333.8 223.6h3.8v3.8h-3.8zM334.1 223.4h3.8v3.8h-3.8zM334.6 222.6h3.8v3.8h-3.8zM334.8 224.2h3.8v3.8h-3.8zM335.0 223.4h3.8v3.8h-3.8zM335.6 224.4h3.8v3.8h-3.8zM335.6 224.2h3.8v3.8h-3.8zM335.9 225.0h3.8v3.8h-3.8zM336.3 224.9h3.8v3.8h-3.8zM336.6 225.4h3.8v3.8h-3.8zM336.9 226.6h3.8v3.8h-3.8zM337.5 227.1h3.8v3.8h-3.8zM337.6 227.3h3.8v3.8h-3.8zM338.0 229.4h3.8v3.8h-3.8zM338.3 228.4h3.8v3.8h-3.8zM338.4 229.6h3.8v3.8h-3.8zM338.8 230.2h3.8v3.8h-3.8zM339.3 231.0h3.8v3.8h-3.8zM339.7 231.0h3.8v3.8h-3.8zM340.0 231.7h3.8v3.8h-3.8zM340.1 233.3h3.8v3.8h-3.8zM340.7 233.6h3.8v3.8h-3.8zM341.1 233.6h3.8v3.8h-3.8zM341.1 235.3h3.8v3.8h-3.8zM341.5 235.2h3.8v3.8h-3.8zM342.0 236.0h3.8v3.8h-3.8zM342.3 236.5h3.8v3.8h-3.8zM342.2 238.6h3.8v3.8h-3.8zM342.9 238.7h3.8v3.8h-3.8zM343.3 239.1h3.8v3.8h-3.8zM343.2 239.4h3.8v3.8h-3.8zM344.0 240.1h3.8v3.8h-3.8zM344.3 240.9h3.8v3.8h-3.8zM344.4 242.1h3.8v3.8h-3.8zM345.1 243.2h3.8v3.8h-3.8zM345.3 244.2h3.8v3.8h-3.8zM345.6 244.0h3.8v3.8h-3.8zM345.9 245.2h3.8v3.8h-3.8zM346.3 245.5h3.8v3.8h-3.8zM346.5 247.0h3.8v3.8h-3.8zM346.6 248.3h3.8v3.8h-3.8zM347.3 249.3h3.8v3.8h-3.8zM347.7 249.6h3.8v3.8h-3.8zM347.9 249.7h3.8v3.8h-3.8zM348.0 250.2h3.8v3.8h-3.8zM348.6 251.2h3.8v3.8h-3.8zM349.1 251.0h3.8v3.8h-3.8zM349.5 251.3h3.8v3.8h-3.8zM349.5 251.1h3.8v3.8h-3.8zM349.9 252.7h3.8v3.8h-3.8zM350.4 253.0h3.8v3.8h-3.8zM350.3 253.4h3.8v3.8h-3.8zM350.7 254.1h3.8v3.8h-3.8zM351.2 254.3h3.8v3.8h-3.8zM351.3 253.9h3.8v3.8h-3.8zM351.8 253.4h3.8v3.8h-3.8zM352.2 253.8h3.8v3.8h-3.8zM352.8 254.6h3.8v3.8h-3.8zM353.0 253.8h3.8v3.8h-3.8zM353.0 254.8h3.8v3.8h-3.8zM353.3 254.0h3.8v3.8h-3.8zM353.6 254.6h3.8v3.8h-3.8zM354.1 254.4h3.8v3.8h-3.8zM354.5 254.7h3.8v3.8h-3.8zM355.2 254.7h3.8v3.8h-3.8zM355.1 255.4h3.8v3.8h-3.8zM355.3 255.7h3.8v3.8h-3.8zM356.0 254.9h3.8v3.8h-3.8zM356.1 255.8h3.8v3.8h-3.8zM356.5 255.4h3.8v3.8h-3.8zM356.9 256.3h3.8v3.8h-3.8zM357.2 255.0h3.8v3.8h-3.8zM357.6 255.5h3.8v3.8h-3.8zM358.0 255.4h3.8v3.8h-3.8zM358.0 255.2h3.8v3.8h-3.8zM358.4 256.4h3.8v3.8h-3.8zM358.7 255.3h3.8v3.8h-3.8zM358.9 255.3h3.8v3.8h-3.8zM359.4 255.9h3.8v3.8h-3.8zM360.0 255.5h3.8v3.8h-3.8zM360.1 256.7h3.8v3.8h-3.8zM360.2 257.5h3.8v3.8h-3.8zM360.8 257.3h3.8v3.8h-3.8z" fill="#f00a0a"/>
</g>
<rect x="159" y="149.6" width="204.6" height="24.4" fill="#fff" stroke="#222" stroke-width="0.9"/>
<path d="M163.9 155.1h3.2l-1.6 2.9z" fill="#0a0a0a"/>
<path d="M163.9 168.2h3.2l-1.6 -2.9z" fill="#0c6a0c"/>
<path d="M264.8 156.2a1.3 1.3 0 1 0 2.6 0a1.3 1.3 0 1 0 -2.6 0z" fill="#101090"/>
<path d="M264.8 166.8a1.3 1.3 0 1 0 2.6 0a1.3 1.3 0 1 0 -2.6 0z" fill="#b01020"/>
<text x="172.7" y="158.3" font-size="7" fill="#222">T<tspan font-size="3.4" dy="2.2" fill="#777">g</tspan><tspan dy="-2.2">=800°C - O =0.75 sccm</tspan></text>
<text x="172.7" y="168.7" font-size="7" fill="#222">T<tspan font-size="3.4" dy="2.2" fill="#777">g</tspan><tspan dy="-2.2">=800°C - O =1 sccm</tspan></text>
<text x="276.1" y="158.3" font-size="7" fill="#222">T<tspan font-size="3.4" dy="2.2" fill="#777">g</tspan><tspan dy="-2.2">=740°C - O =0.75 sccm</tspan></text>
<text x="276.1" y="168.7" font-size="7" fill="#222">T<tspan font-size="3.4" dy="2.2" fill="#777">g</tspan><tspan dy="-2.2">=700°C - O =0.75 sccm</tspan></text>
</svg></body></html>
